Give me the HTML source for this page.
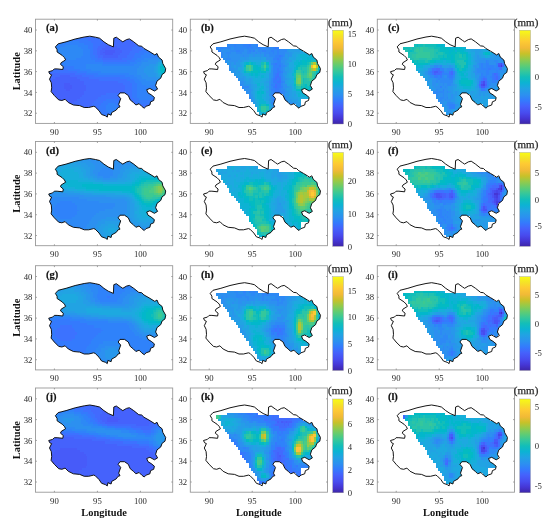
<!DOCTYPE html>
<html><head><meta charset="utf-8"><title>Figure</title>
<style>
html,body{margin:0;padding:0;background:#fff}
svg{display:block}
text{font-family:"Liberation Serif","Times New Roman",serif;fill:#2a2a2a}
.t{font-size:8.7px}
.b{font-size:10.4px;font-weight:bold;fill:#111}
.p{font-size:10.5px;font-weight:bold;fill:#111;stroke:#111;stroke-width:0.2px}
.m{font-size:11px;stroke:#2a2a2a;stroke-width:0.25px}
</style></head><body>
<svg width="550" height="532" viewBox="0 0 550 532">
<defs><path id="qh" d="M19.9 27.7L22.7 24.6L30.6 22.6L39.7 19.8L48.7 17.8L54.3 17L60 18L64.1 19L68.4 22.6L72.8 25.5L77.9 27.7L78.3 19L80.8 18L85.2 21.2L87.3 22.6L91 20.4L93.9 19.7L98.2 22.6L103.3 26.7L106.2 27L108.4 29.2L113.5 32.1L119.3 35.7L121.5 34.3L123 37.9L126.6 40.8L127.3 44.4L130.2 49.5L129.5 53.2L126.6 55.3L125.2 59L121.5 61.9L120.1 66.3L122.1 69.9L118.9 71.8L114.4 69.3L111.2 70.5L112.5 73.7L115.7 75.6L118.9 78.2L118.2 81.3L115.1 82.6L114.4 85.8L110.6 87.1L108.7 89L106.2 87.1L103.6 84.5L100.4 85.8L97.9 83.3L94.7 80.7L92.8 76.3L89 73.7L84.5 73.7L82.6 76.3L85.2 79.4L83.2 85.2L84.5 87.7L82.6 88.3L80.7 90.9L76.2 93.4L75.6 96L72.4 94.7L71.8 97.9L69.9 96.6L66.1 95.3L63.5 91.5L59.7 87.7L58.2 87.1L53.2 88.3L48.7 88.3L44.2 86.4L37.9 85.8L32.8 83.3L29.6 80.1L26.4 81.3L23.2 80.7L18.8 76.3L15.6 72.4L16.2 68.6L15.8 63.6L14 60L16.1 55.6L14.3 54.8L13.2 52.5L17.1 51.4L18.8 49.7L21.6 49.7L27.3 50.3L27.8 47.5L25 45.2L25.6 43.5L30.1 40.7L28.9 38.4L26.7 36.2L21.6 32.8L21.6 30.5Z"/><clipPath id="cq"><use href="#qh"/></clipPath>
<linearGradient id="pg" x1="0" y1="0" x2="0" y2="1"><stop offset="0" stop-color="#f9fb15"/><stop offset="0.06" stop-color="#f5e327"/><stop offset="0.12" stop-color="#feca33"/><stop offset="0.19" stop-color="#f1ba37"/><stop offset="0.25" stop-color="#c8c129"/><stop offset="0.31" stop-color="#94ca4a"/><stop offset="0.38" stop-color="#5ccc76"/><stop offset="0.44" stop-color="#34c79c"/><stop offset="0.5" stop-color="#12beb9"/><stop offset="0.56" stop-color="#0cb3d3"/><stop offset="0.62" stop-color="#21a3e3"/><stop offset="0.69" stop-color="#2c90f0"/><stop offset="0.75" stop-color="#347afd"/><stop offset="0.81" stop-color="#4562fc"/><stop offset="0.88" stop-color="#484cef"/><stop offset="0.94" stop-color="#4536d5"/><stop offset="1" stop-color="#3e26a8"/></linearGradient></defs>
<rect width="550" height="532" fill="#fff"/>
<g transform="translate(35.5 19.2)">
<g clip-path="url(#cq)" shape-rendering="crispEdges">
<path fill="#475bf9" d="M69 30h10.92v2.68h-10.92zM67.28 32.08h12.64v2.68h-12.64zM69 34.16h9.2v2.68h-9.2zM27.72 63.28h7.48v2.68h-7.48zM27.72 65.36h9.2v2.68h-9.2zM27.72 67.44h9.2v2.68h-9.2zM29.44 69.52h5.76v2.68h-5.76z"/>
<path fill="#4562fc" d="M69 25.84h12.64v2.68h-12.64zM65.56 27.92h19.52v2.68h-19.52zM63.84 30h5.76v2.68h-5.76zM79.32 30h7.48v2.68h-7.48zM63.84 32.08h4.04v2.68h-4.04zM79.32 32.08h7.48v2.68h-7.48zM63.84 34.16h5.76v2.68h-5.76zM77.6 34.16h7.48v2.68h-7.48zM67.28 36.24h16.08v2.68h-16.08zM24.28 54.96h10.92v2.68h-10.92zM19.12 57.04h22.96v2.68h-22.96zM15.68 59.12h29.84v2.68h-29.84zM13.96 61.2h35v2.68h-35zM13.96 63.28h14.36v2.68h-14.36zM34.6 63.28h14.36v2.68h-14.36zM15.68 65.36h12.64v2.68h-12.64zM36.32 65.36h14.36v2.68h-14.36zM15.68 67.44h12.64v2.68h-12.64zM36.32 67.44h14.36v2.68h-14.36zM15.68 69.52h14.36v2.68h-14.36zM34.6 69.52h16.08v2.68h-16.08zM15.68 71.6h33.28v2.68h-33.28zM15.68 73.68h33.28v2.68h-33.28zM17.4 75.76h29.84v2.68h-29.84zM19.12 77.84h26.4v2.68h-26.4zM20.84 79.92h21.24v2.68h-21.24zM31.16 82h7.48v2.68h-7.48z"/>
<path fill="#426afe" d="M77.6 17.52h7.48v2.68h-7.48zM67.28 19.6h2.32v2.68h-2.32zM77.6 19.6h9.2v2.68h-9.2zM87.92 19.6h10.92v2.68h-10.92zM65.56 21.68h5.76v2.68h-5.76zM77.6 21.68h22.96v2.68h-22.96zM63.84 23.76h10.92v2.68h-10.92zM77.6 23.76h24.68v2.68h-24.68zM62.12 25.84h7.48v2.68h-7.48zM81.04 25.84h19.52v2.68h-19.52zM60.4 27.92h5.76v2.68h-5.76zM84.48 27.92h12.64v2.68h-12.64zM60.4 30h4.04v2.68h-4.04zM86.2 30h10.92v2.68h-10.92zM60.4 32.08h4.04v2.68h-4.04zM86.2 32.08h9.2v2.68h-9.2zM60.4 34.16h4.04v2.68h-4.04zM84.48 34.16h9.2v2.68h-9.2zM62.12 36.24h5.76v2.68h-5.76zM82.76 36.24h9.2v2.68h-9.2zM65.56 38.32h21.24v2.68h-21.24zM12.24 52.88h28.12v2.68h-28.12zM13.96 54.96h10.92v2.68h-10.92zM34.6 54.96h12.64v2.68h-12.64zM13.96 57.04h5.76v2.68h-5.76zM41.48 57.04h12.64v2.68h-12.64zM13.96 59.12h2.32v2.68h-2.32zM44.92 59.12h19.52v2.68h-19.52zM48.36 61.2h35v2.68h-35zM48.36 63.28h40.16v2.68h-40.16zM50.08 65.36h40.16v2.68h-40.16zM50.08 67.44h40.16v2.68h-40.16zM50.08 69.52h40.16v2.68h-40.16zM48.36 71.6h40.16v2.68h-40.16zM48.36 73.68h22.96v2.68h-22.96zM46.64 75.76h19.52v2.68h-19.52zM44.92 77.84h17.8v2.68h-17.8zM41.48 79.92h19.52v2.68h-19.52zM38.04 82h21.24v2.68h-21.24zM32.88 84.08h24.68v2.68h-24.68zM41.48 86.16h16.08v2.68h-16.08zM48.36 88.24h5.76v2.68h-5.76z"/>
<path fill="#3c72ff" d="M50.08 15.44h9.2v2.68h-9.2zM44.92 17.52h21.24v2.68h-21.24zM51.8 19.6h16.08v2.68h-16.08zM55.24 21.68h10.92v2.68h-10.92zM56.96 23.76h7.48v2.68h-7.48zM101.68 23.76h2.32v2.68h-2.32zM56.96 25.84h5.76v2.68h-5.76zM99.96 25.84h9.2v2.68h-9.2zM56.96 27.92h4.04v2.68h-4.04zM96.52 27.92h14.36v2.68h-14.36zM56.96 30h4.04v2.68h-4.04zM96.52 30h10.92v2.68h-10.92zM56.96 32.08h4.04v2.68h-4.04zM94.8 32.08h9.2v2.68h-9.2zM56.96 34.16h4.04v2.68h-4.04zM93.08 34.16h7.48v2.68h-7.48zM58.68 36.24h4.04v2.68h-4.04zM91.36 36.24h7.48v2.68h-7.48zM60.4 38.32h5.76v2.68h-5.76zM86.2 38.32h10.92v2.68h-10.92zM67.28 40.4h24.68v2.68h-24.68zM17.4 48.72h16.08v2.68h-16.08zM12.24 50.8h29.84v2.68h-29.84zM39.76 52.88h10.92v2.68h-10.92zM46.64 54.96h12.64v2.68h-12.64zM53.52 57.04h31.56v2.68h-31.56zM63.84 59.12h28.12v2.68h-28.12zM82.76 61.2h12.64v2.68h-12.64zM87.92 63.28h9.2v2.68h-9.2zM89.64 65.36h7.48v2.68h-7.48zM89.64 67.44h7.48v2.68h-7.48zM89.64 69.52h7.48v2.68h-7.48zM87.92 71.6h9.2v2.68h-9.2zM70.72 73.68h26.4v2.68h-26.4zM65.56 75.76h19.52v2.68h-19.52zM91.36 75.76h5.76v2.68h-5.76zM62.12 77.84h24.68v2.68h-24.68zM93.08 77.84h5.76v2.68h-5.76zM60.4 79.92h10.92v2.68h-10.92zM81.04 79.92h5.76v2.68h-5.76zM93.08 79.92h7.48v2.68h-7.48zM58.68 82h9.2v2.68h-9.2zM94.8 82h7.48v2.68h-7.48zM115.44 82h2.32v2.68h-2.32zM56.96 84.08h9.2v2.68h-9.2zM98.24 84.08h17.8v2.68h-17.8zM56.96 86.16h7.48v2.68h-7.48zM105.12 86.16h9.2v2.68h-9.2zM58.68 88.24h5.76v2.68h-5.76zM106.84 88.24h4.04v2.68h-4.04zM62.12 90.32h2.32v2.68h-2.32zM63.84 92.4h2.32v2.68h-2.32zM63.84 94.48h4.04v2.68h-4.04zM69 96.56h4.04v2.68h-4.04z"/>
<path fill="#347afd" d="M39.76 17.52h5.76v2.68h-5.76zM32.88 19.6h19.52v2.68h-19.52zM26 21.68h2.32v2.68h-2.32zM43.2 21.68h12.64v2.68h-12.64zM48.36 23.76h9.2v2.68h-9.2zM51.8 25.84h5.76v2.68h-5.76zM51.8 27.92h5.76v2.68h-5.76zM53.52 30h4.04v2.68h-4.04zM106.84 30h7.48v2.68h-7.48zM53.52 32.08h4.04v2.68h-4.04zM103.4 32.08h14.36v2.68h-14.36zM53.52 34.16h4.04v2.68h-4.04zM99.96 34.16h9.2v2.68h-9.2zM53.52 36.24h5.76v2.68h-5.76zM98.24 36.24h7.48v2.68h-7.48zM55.24 38.32h5.76v2.68h-5.76zM96.52 38.32h5.76v2.68h-5.76zM58.68 40.4h9.2v2.68h-9.2zM91.36 40.4h9.2v2.68h-9.2zM67.28 42.48h28.12v2.68h-28.12zM24.28 44.56h2.32v2.68h-2.32zM26 46.64h12.64v2.68h-12.64zM32.88 48.72h12.64v2.68h-12.64zM41.48 50.8h10.92v2.68h-10.92zM50.08 52.88h12.64v2.68h-12.64zM58.68 54.96h31.56v2.68h-31.56zM84.48 57.04h10.92v2.68h-10.92zM91.36 59.12h7.48v2.68h-7.48zM94.8 61.2h5.76v2.68h-5.76zM96.52 63.28h5.76v2.68h-5.76zM96.52 65.36h5.76v2.68h-5.76zM96.52 67.44h5.76v2.68h-5.76zM120.6 67.44h2.32v2.68h-2.32zM96.52 69.52h5.76v2.68h-5.76zM118.88 69.52h4.04v2.68h-4.04zM96.52 71.6h5.76v2.68h-5.76zM118.88 71.6h2.32v2.68h-2.32zM96.52 73.68h5.76v2.68h-5.76zM96.52 75.76h5.76v2.68h-5.76zM117.16 75.76h2.32v2.68h-2.32zM98.24 77.84h5.76v2.68h-5.76zM113.72 77.84h5.76v2.68h-5.76zM70.72 79.92h10.92v2.68h-10.92zM99.96 79.92h19.52v2.68h-19.52zM67.28 82h17.8v2.68h-17.8zM101.68 82h14.36v2.68h-14.36zM65.56 84.08h7.48v2.68h-7.48zM79.32 84.08h5.76v2.68h-5.76zM63.84 86.16h7.48v2.68h-7.48zM81.04 86.16h4.04v2.68h-4.04zM63.84 88.24h7.48v2.68h-7.48zM81.04 88.24h4.04v2.68h-4.04zM63.84 90.32h7.48v2.68h-7.48zM81.04 90.32h2.32v2.68h-2.32zM65.56 92.4h9.2v2.68h-9.2zM77.6 92.4h2.32v2.68h-2.32zM67.28 94.48h10.92v2.68h-10.92z"/>
<path fill="#2f82fa" d="M27.72 21.68h16.08v2.68h-16.08zM20.84 23.76h28.12v2.68h-28.12zM19.12 25.84h10.92v2.68h-10.92zM41.48 25.84h10.92v2.68h-10.92zM19.12 27.92h5.76v2.68h-5.76zM44.92 27.92h7.48v2.68h-7.48zM20.84 30h2.32v2.68h-2.32zM46.64 30h7.48v2.68h-7.48zM20.84 32.08h2.32v2.68h-2.32zM46.64 32.08h7.48v2.68h-7.48zM46.64 34.16h7.48v2.68h-7.48zM108.56 34.16h14.36v2.68h-14.36zM44.92 36.24h9.2v2.68h-9.2zM105.12 36.24h19.52v2.68h-19.52zM27.72 38.32h5.76v2.68h-5.76zM39.76 38.32h16.08v2.68h-16.08zM101.68 38.32h7.48v2.68h-7.48zM26 40.4h33.28v2.68h-33.28zM99.96 40.4h5.76v2.68h-5.76zM24.28 42.48h43.6v2.68h-43.6zM94.8 42.48h7.48v2.68h-7.48zM26 44.56h24.68v2.68h-24.68zM65.56 44.56h33.28v2.68h-33.28zM38.04 46.64h12.64v2.68h-12.64zM44.92 48.72h10.92v2.68h-10.92zM51.8 50.8h14.36v2.68h-14.36zM62.12 52.88h31.56v2.68h-31.56zM89.64 54.96h9.2v2.68h-9.2zM94.8 57.04h7.48v2.68h-7.48zM98.24 59.12h5.76v2.68h-5.76zM99.96 61.2h5.76v2.68h-5.76zM101.68 63.28h5.76v2.68h-5.76zM118.88 63.28h4.04v2.68h-4.04zM101.68 65.36h9.2v2.68h-9.2zM113.72 65.36h9.2v2.68h-9.2zM101.68 67.44h19.52v2.68h-19.52zM101.68 69.52h17.8v2.68h-17.8zM101.68 71.6h12.64v2.68h-12.64zM117.16 71.6h2.32v2.68h-2.32zM101.68 73.68h16.08v2.68h-16.08zM101.68 75.76h16.08v2.68h-16.08zM103.4 77.84h10.92v2.68h-10.92zM72.44 84.08h7.48v2.68h-7.48zM70.72 86.16h10.92v2.68h-10.92zM70.72 88.24h10.92v2.68h-10.92zM70.72 90.32h10.92v2.68h-10.92zM74.16 92.4h4.04v2.68h-4.04z"/>
<path fill="#2d89f5" d="M29.44 25.84h12.64v2.68h-12.64zM24.28 27.92h21.24v2.68h-21.24zM22.56 30h24.68v2.68h-24.68zM22.56 32.08h24.68v2.68h-24.68zM22.56 34.16h24.68v2.68h-24.68zM26 36.24h19.52v2.68h-19.52zM32.88 38.32h7.48v2.68h-7.48zM108.56 38.32h14.36v2.68h-14.36zM105.12 40.4h7.48v2.68h-7.48zM101.68 42.48h5.76v2.68h-5.76zM50.08 44.56h16.08v2.68h-16.08zM98.24 44.56h7.48v2.68h-7.48zM50.08 46.64h53.92v2.68h-53.92zM55.24 48.72h47.04v2.68h-47.04zM65.56 50.8h36.72v2.68h-36.72zM93.08 52.88h9.2v2.68h-9.2zM98.24 54.96h7.48v2.68h-7.48zM101.68 57.04h5.76v2.68h-5.76zM103.4 59.12h7.48v2.68h-7.48zM105.12 61.2h19.52v2.68h-19.52zM106.84 63.28h12.64v2.68h-12.64zM110.28 65.36h4.04v2.68h-4.04z"/>
<path fill="#2c90f0" d="M122.32 38.32h5.76v2.68h-5.76zM112 40.4h10.92v2.68h-10.92zM106.84 42.48h14.36v2.68h-14.36zM105.12 44.56h9.2v2.68h-9.2zM103.4 46.64h7.48v2.68h-7.48zM101.68 48.72h7.48v2.68h-7.48zM101.68 50.8h7.48v2.68h-7.48zM101.68 52.88h9.2v2.68h-9.2zM105.12 54.96h7.48v2.68h-7.48zM106.84 57.04h14.36v2.68h-14.36zM110.28 59.12h16.08v2.68h-16.08z"/>
<path fill="#2797eb" d="M122.32 40.4h2.32v2.68h-2.32zM120.6 42.48h2.32v2.68h-2.32zM113.72 44.56h7.48v2.68h-7.48zM110.28 46.64h9.2v2.68h-9.2zM108.56 48.72h10.92v2.68h-10.92zM108.56 50.8h10.92v2.68h-10.92zM110.28 52.88h10.92v2.68h-10.92zM112 54.96h9.2v2.68h-9.2zM120.6 57.04h4.04v2.68h-4.04z"/>
<path fill="#259de7" d="M124.04 40.4h4.04v2.68h-4.04zM120.6 44.56h2.32v2.68h-2.32zM118.88 46.64h2.32v2.68h-2.32zM118.88 48.72h2.32v2.68h-2.32zM118.88 50.8h2.32v2.68h-2.32zM120.6 52.88h2.32v2.68h-2.32zM129.2 52.88h2.32v2.68h-2.32zM120.6 54.96h2.32v2.68h-2.32zM124.04 57.04h4.04v2.68h-4.04z"/>
<path fill="#21a3e3" d="M122.32 42.48h2.32v2.68h-2.32zM120.6 46.64h2.32v2.68h-2.32zM129.2 46.64h2.32v2.68h-2.32zM120.6 48.72h2.32v2.68h-2.32zM129.2 48.72h2.32v2.68h-2.32zM120.6 50.8h2.32v2.68h-2.32zM129.2 50.8h2.32v2.68h-2.32zM122.32 54.96h2.32v2.68h-2.32z"/>
<path fill="#1da9e0" d="M124.04 42.48h4.04v2.68h-4.04zM122.32 44.56h2.32v2.68h-2.32zM122.32 52.88h2.32v2.68h-2.32zM127.48 52.88h2.32v2.68h-2.32zM124.04 54.96h4.04v2.68h-4.04z"/>
<path fill="#17aeda" d="M124.04 44.56h2.32v2.68h-2.32zM127.48 44.56h2.32v2.68h-2.32zM122.32 46.64h2.32v2.68h-2.32zM122.32 48.72h2.32v2.68h-2.32zM122.32 50.8h2.32v2.68h-2.32zM124.04 52.88h2.32v2.68h-2.32z"/>
<path fill="#0cb3d3" d="M125.76 44.56h2.32v2.68h-2.32zM127.48 46.64h2.32v2.68h-2.32zM127.48 48.72h2.32v2.68h-2.32zM124.04 50.8h2.32v2.68h-2.32zM127.48 50.8h2.32v2.68h-2.32zM125.76 52.88h2.32v2.68h-2.32z"/>
<path fill="#02b7cb" d="M124.04 46.64h4.04v2.68h-4.04zM124.04 48.72h2.32v2.68h-2.32zM125.76 50.8h2.32v2.68h-2.32z"/>
<path fill="#03bbc2" d="M125.76 48.72h2.32v2.68h-2.32z"/>
</g>
<use href="#qh" fill="none" stroke="#0a0a0a" stroke-width="0.95" stroke-linejoin="round"/>
<rect x="0" y="0" width="137.2" height="104.2" fill="none" stroke="#999" stroke-width="0.9"/>
<path d="M18.92 104.2v-1.4M18.92 0v1.4M61.92 104.2v-1.4M61.92 0v1.4M104.92 104.2v-1.4M104.92 0v1.4M0 94.02h1.4M137.2 94.02h-1.4M0 73.22h1.4M137.2 73.22h-1.4M0 52.42h1.4M137.2 52.42h-1.4M0 31.62h1.4M137.2 31.62h-1.4M0 10.82h1.4M137.2 10.82h-1.4" stroke="#888" stroke-width="0.8" fill="none"/>
<text x="18.92" y="115.8" class="t" text-anchor="middle">90</text>
<text x="61.92" y="115.8" class="t" text-anchor="middle">95</text>
<text x="104.92" y="115.8" class="t" text-anchor="middle">100</text>
<text x="-3.1" y="97.12" class="t" text-anchor="end">32</text>
<text x="-3.1" y="76.32" class="t" text-anchor="end">34</text>
<text x="-3.1" y="55.52" class="t" text-anchor="end">36</text>
<text x="-3.1" y="34.72" class="t" text-anchor="end">38</text>
<text x="-3.1" y="13.92" class="t" text-anchor="end">40</text>
<text x="10.6" y="12.3" class="p">(a)</text>
<text transform="translate(-16 52.1) rotate(-90)" class="b" text-anchor="middle">Latitude</text>
</g>
<g transform="translate(190.3 19.2)">
<g clip-path="url(#cq)" shape-rendering="crispEdges">
<path fill="#3c72ff" d="M86.2 53.4h2.75v3.2h-2.75zM84.05 56h4.9v3.2h-4.9zM84.05 58.6h2.75v3.2h-2.75zM88.35 58.6h2.75v3.2h-2.75zM86.2 61.2h4.9v3.2h-4.9zM84.05 63.8h2.75v3.2h-2.75zM84.05 66.4h2.75v3.2h-2.75z"/>
<path fill="#347afd" d="M58.25 24.8h2.75v3.2h-2.75zM84.05 27.4h2.75v3.2h-2.75zM88.35 35.2h2.75v3.2h-2.75zM86.2 37.8h2.75v3.2h-2.75zM84.05 43h2.75v3.2h-2.75zM88.35 45.6h2.75v3.2h-2.75zM86.2 48.2h2.75v3.2h-2.75zM86.2 50.8h4.9v3.2h-4.9zM84.05 53.4h2.75v3.2h-2.75zM88.35 56h2.75v3.2h-2.75zM81.9 58.6h2.75v3.2h-2.75zM86.2 58.6h2.75v3.2h-2.75zM81.9 61.2h4.9v3.2h-4.9zM86.2 63.8h4.9v3.2h-4.9zM81.9 66.4h2.75v3.2h-2.75zM86.2 66.4h4.9v3.2h-4.9zM84.05 69h4.9v3.2h-4.9zM84.05 71.6h7.05v3.2h-7.05zM81.9 74.2h2.75v3.2h-2.75zM81.9 79.4h2.75v3.2h-2.75z"/>
<path fill="#2f82fa" d="M43.2 24.8h2.75v3.2h-2.75zM51.8 24.8h7.05v3.2h-7.05zM64.7 24.8h2.75v3.2h-2.75zM30.3 27.4h2.75v3.2h-2.75zM36.75 27.4h2.75v3.2h-2.75zM56.1 27.4h2.75v3.2h-2.75zM60.4 27.4h2.75v3.2h-2.75zM66.85 27.4h4.9v3.2h-4.9zM77.6 27.4h2.75v3.2h-2.75zM81.9 27.4h2.75v3.2h-2.75zM86.2 27.4h2.75v3.2h-2.75zM28.15 30h2.75v3.2h-2.75zM45.35 30h4.9v3.2h-4.9zM58.25 30h2.75v3.2h-2.75zM62.55 30h2.75v3.2h-2.75zM71.15 30h4.9v3.2h-4.9zM79.75 30h4.9v3.2h-4.9zM86.2 30h2.75v3.2h-2.75zM77.6 32.6h2.75v3.2h-2.75zM81.9 32.6h2.75v3.2h-2.75zM86.2 32.6h2.75v3.2h-2.75zM84.05 35.2h4.9v3.2h-4.9zM90.5 35.2h2.75v3.2h-2.75zM81.9 37.8h4.9v3.2h-4.9zM88.35 37.8h2.75v3.2h-2.75zM86.2 40.4h4.9v3.2h-4.9zM81.9 43h2.75v3.2h-2.75zM86.2 43h4.9v3.2h-4.9zM81.9 45.6h7.05v3.2h-7.05zM81.9 48.2h4.9v3.2h-4.9zM88.35 48.2h2.75v3.2h-2.75zM81.9 50.8h4.9v3.2h-4.9zM90.5 50.8h2.75v3.2h-2.75zM81.9 53.4h2.75v3.2h-2.75zM88.35 53.4h2.75v3.2h-2.75zM81.9 56h2.75v3.2h-2.75zM90.5 61.2h2.75v3.2h-2.75zM79.75 63.8h4.9v3.2h-4.9zM90.5 66.4h2.75v3.2h-2.75zM79.75 69h4.9v3.2h-4.9zM88.35 69h2.75v3.2h-2.75zM81.9 71.6h2.75v3.2h-2.75zM90.5 71.6h2.75v3.2h-2.75z"/>
<path fill="#2d89f5" d="M36.75 24.8h7.05v3.2h-7.05zM45.35 24.8h7.05v3.2h-7.05zM60.4 24.8h4.9v3.2h-4.9zM26 27.4h4.9v3.2h-4.9zM32.45 27.4h4.9v3.2h-4.9zM38.9 27.4h2.75v3.2h-2.75zM43.2 27.4h13.5v3.2h-13.5zM58.25 27.4h2.75v3.2h-2.75zM62.55 27.4h4.9v3.2h-4.9zM71.15 27.4h7.05v3.2h-7.05zM79.75 27.4h2.75v3.2h-2.75zM38.9 30h7.05v3.2h-7.05zM49.65 30h4.9v3.2h-4.9zM56.1 30h2.75v3.2h-2.75zM60.4 30h2.75v3.2h-2.75zM66.85 30h4.9v3.2h-4.9zM75.45 30h4.9v3.2h-4.9zM84.05 30h2.75v3.2h-2.75zM88.35 30h9.2v3.2h-9.2zM30.3 32.6h2.75v3.2h-2.75zM34.6 32.6h7.05v3.2h-7.05zM45.35 32.6h7.05v3.2h-7.05zM56.1 32.6h4.9v3.2h-4.9zM64.7 32.6h2.75v3.2h-2.75zM69 32.6h2.75v3.2h-2.75zM73.3 32.6h4.9v3.2h-4.9zM79.75 32.6h2.75v3.2h-2.75zM84.05 32.6h2.75v3.2h-2.75zM88.35 32.6h7.05v3.2h-7.05zM30.3 35.2h2.75v3.2h-2.75zM36.75 35.2h2.75v3.2h-2.75zM51.8 35.2h2.75v3.2h-2.75zM73.3 35.2h2.75v3.2h-2.75zM77.6 35.2h7.05v3.2h-7.05zM92.65 35.2h2.75v3.2h-2.75zM34.6 37.8h7.05v3.2h-7.05zM90.5 37.8h2.75v3.2h-2.75zM81.9 40.4h4.9v3.2h-4.9zM79.75 43h2.75v3.2h-2.75zM90.5 43h2.75v3.2h-2.75zM90.5 45.6h4.9v3.2h-4.9zM90.5 48.2h2.75v3.2h-2.75zM90.5 53.4h2.75v3.2h-2.75zM90.5 56h2.75v3.2h-2.75zM79.75 58.6h2.75v3.2h-2.75zM90.5 58.6h2.75v3.2h-2.75zM79.75 61.2h2.75v3.2h-2.75zM92.65 61.2h2.75v3.2h-2.75zM49.65 63.8h2.75v3.2h-2.75zM90.5 63.8h2.75v3.2h-2.75zM51.8 66.4h7.05v3.2h-7.05zM79.75 66.4h2.75v3.2h-2.75zM90.5 69h4.9v3.2h-4.9zM79.75 71.6h2.75v3.2h-2.75zM92.65 71.6h2.75v3.2h-2.75zM79.75 74.2h2.75v3.2h-2.75zM92.65 74.2h2.75v3.2h-2.75zM58.25 76.8h2.75v3.2h-2.75zM79.75 76.8h4.9v3.2h-4.9zM92.65 76.8h2.75v3.2h-2.75zM94.8 79.4h2.75v3.2h-2.75zM79.75 82h4.9v3.2h-4.9zM96.95 82h2.75v3.2h-2.75zM81.9 84.6h2.75v3.2h-2.75z"/>
<path fill="#2c90f0" d="M41.05 27.4h2.75v3.2h-2.75zM30.3 30h9.2v3.2h-9.2zM53.95 30h2.75v3.2h-2.75zM64.7 30h2.75v3.2h-2.75zM32.45 32.6h2.75v3.2h-2.75zM41.05 32.6h4.9v3.2h-4.9zM51.8 32.6h4.9v3.2h-4.9zM60.4 32.6h4.9v3.2h-4.9zM66.85 32.6h2.75v3.2h-2.75zM71.15 32.6h2.75v3.2h-2.75zM94.8 32.6h4.9v3.2h-4.9zM32.45 35.2h4.9v3.2h-4.9zM38.9 35.2h13.5v3.2h-13.5zM53.95 35.2h4.9v3.2h-4.9zM62.55 35.2h2.75v3.2h-2.75zM69 35.2h2.75v3.2h-2.75zM75.45 35.2h2.75v3.2h-2.75zM96.95 35.2h2.75v3.2h-2.75zM32.45 37.8h2.75v3.2h-2.75zM41.05 37.8h9.2v3.2h-9.2zM53.95 37.8h2.75v3.2h-2.75zM75.45 37.8h7.05v3.2h-7.05zM92.65 37.8h4.9v3.2h-4.9zM34.6 40.4h2.75v3.2h-2.75zM38.9 40.4h9.2v3.2h-9.2zM79.75 40.4h2.75v3.2h-2.75zM90.5 40.4h4.9v3.2h-4.9zM38.9 43h2.75v3.2h-2.75zM43.2 43h2.75v3.2h-2.75zM92.65 43h2.75v3.2h-2.75zM38.9 45.6h2.75v3.2h-2.75zM94.8 45.6h2.75v3.2h-2.75zM38.9 48.2h4.9v3.2h-4.9zM79.75 48.2h2.75v3.2h-2.75zM92.65 48.2h2.75v3.2h-2.75zM79.75 50.8h2.75v3.2h-2.75zM92.65 50.8h2.75v3.2h-2.75zM79.75 53.4h2.75v3.2h-2.75zM45.35 56h2.75v3.2h-2.75zM79.75 56h2.75v3.2h-2.75zM92.65 56h2.75v3.2h-2.75zM47.5 58.6h2.75v3.2h-2.75zM92.65 58.6h2.75v3.2h-2.75zM49.65 61.2h4.9v3.2h-4.9zM77.6 61.2h2.75v3.2h-2.75zM51.8 63.8h2.75v3.2h-2.75zM77.6 63.8h2.75v3.2h-2.75zM92.65 63.8h4.9v3.2h-4.9zM77.6 66.4h2.75v3.2h-2.75zM92.65 66.4h4.9v3.2h-4.9zM53.95 69h7.05v3.2h-7.05zM77.6 69h2.75v3.2h-2.75zM56.1 71.6h4.9v3.2h-4.9zM94.8 71.6h2.75v3.2h-2.75zM58.25 74.2h2.75v3.2h-2.75zM77.6 74.2h2.75v3.2h-2.75zM96.95 74.2h2.75v3.2h-2.75zM94.8 76.8h2.75v3.2h-2.75zM60.4 79.4h2.75v3.2h-2.75zM79.75 79.4h2.75v3.2h-2.75zM99.1 82h4.9v3.2h-4.9z"/>
<path fill="#2797eb" d="M96.95 30h2.75v3.2h-2.75zM99.1 32.6h2.75v3.2h-2.75zM58.25 35.2h4.9v3.2h-4.9zM64.7 35.2h4.9v3.2h-4.9zM71.15 35.2h2.75v3.2h-2.75zM94.8 35.2h2.75v3.2h-2.75zM99.1 35.2h2.75v3.2h-2.75zM49.65 37.8h4.9v3.2h-4.9zM56.1 37.8h2.75v3.2h-2.75zM69 37.8h2.75v3.2h-2.75zM96.95 37.8h2.75v3.2h-2.75zM36.75 40.4h2.75v3.2h-2.75zM47.5 40.4h4.9v3.2h-4.9zM77.6 40.4h2.75v3.2h-2.75zM94.8 40.4h2.75v3.2h-2.75zM36.75 43h2.75v3.2h-2.75zM41.05 43h2.75v3.2h-2.75zM45.35 43h4.9v3.2h-4.9zM94.8 43h4.9v3.2h-4.9zM41.05 45.6h2.75v3.2h-2.75zM45.35 45.6h4.9v3.2h-4.9zM79.75 45.6h2.75v3.2h-2.75zM43.2 48.2h4.9v3.2h-4.9zM41.05 50.8h4.9v3.2h-4.9zM47.5 50.8h2.75v3.2h-2.75zM94.8 50.8h2.75v3.2h-2.75zM43.2 53.4h2.75v3.2h-2.75zM77.6 53.4h2.75v3.2h-2.75zM92.65 53.4h4.9v3.2h-4.9zM51.8 56h2.75v3.2h-2.75zM77.6 56h2.75v3.2h-2.75zM49.65 58.6h4.9v3.2h-4.9zM77.6 58.6h2.75v3.2h-2.75zM94.8 58.6h2.75v3.2h-2.75zM53.95 61.2h2.75v3.2h-2.75zM53.95 63.8h7.05v3.2h-7.05zM58.25 66.4h2.75v3.2h-2.75zM96.95 66.4h2.75v3.2h-2.75zM60.4 69h2.75v3.2h-2.75zM94.8 69h2.75v3.2h-2.75zM77.6 71.6h2.75v3.2h-2.75zM96.95 71.6h2.75v3.2h-2.75zM60.4 74.2h2.75v3.2h-2.75zM94.8 74.2h2.75v3.2h-2.75zM60.4 76.8h2.75v3.2h-2.75zM96.95 76.8h2.75v3.2h-2.75zM77.6 79.4h2.75v3.2h-2.75zM96.95 79.4h4.9v3.2h-4.9zM103.4 82h2.75v3.2h-2.75zM79.75 84.6h2.75v3.2h-2.75zM107.7 84.6h2.75v3.2h-2.75z"/>
<path fill="#259de7" d="M99.1 30h11.35v3.2h-11.35zM101.25 32.6h2.75v3.2h-2.75zM58.25 37.8h11.35v3.2h-11.35zM71.15 37.8h2.75v3.2h-2.75zM51.8 40.4h2.75v3.2h-2.75zM96.95 40.4h4.9v3.2h-4.9zM77.6 43h2.75v3.2h-2.75zM43.2 45.6h2.75v3.2h-2.75zM49.65 45.6h2.75v3.2h-2.75zM96.95 45.6h2.75v3.2h-2.75zM94.8 48.2h4.9v3.2h-4.9zM45.35 50.8h2.75v3.2h-2.75zM96.95 50.8h2.75v3.2h-2.75zM45.35 53.4h7.05v3.2h-7.05zM47.5 56h4.9v3.2h-4.9zM53.95 56h2.75v3.2h-2.75zM94.8 56h2.75v3.2h-2.75zM53.95 58.6h2.75v3.2h-2.75zM58.25 58.6h2.75v3.2h-2.75zM96.95 58.6h2.75v3.2h-2.75zM56.1 61.2h4.9v3.2h-4.9zM75.45 61.2h2.75v3.2h-2.75zM94.8 61.2h2.75v3.2h-2.75zM60.4 63.8h2.75v3.2h-2.75zM60.4 66.4h2.75v3.2h-2.75zM75.45 66.4h2.75v3.2h-2.75zM99.1 66.4h2.75v3.2h-2.75zM96.95 69h4.9v3.2h-4.9zM60.4 71.6h2.75v3.2h-2.75zM75.45 71.6h2.75v3.2h-2.75zM99.1 71.6h2.75v3.2h-2.75zM99.1 74.2h2.75v3.2h-2.75zM103.4 74.2h2.75v3.2h-2.75zM62.55 76.8h2.75v3.2h-2.75zM77.6 76.8h2.75v3.2h-2.75zM99.1 76.8h4.9v3.2h-4.9zM62.55 79.4h2.75v3.2h-2.75zM101.25 79.4h7.05v3.2h-7.05zM62.55 82h2.75v3.2h-2.75zM77.6 82h2.75v3.2h-2.75zM105.55 82h4.9v3.2h-4.9zM105.55 84.6h2.75v3.2h-2.75zM79.75 87.2h2.75v3.2h-2.75zM107.7 87.2h2.75v3.2h-2.75z"/>
<path fill="#21a3e3" d="M103.4 32.6h9.2v3.2h-9.2zM101.25 35.2h4.9v3.2h-4.9zM73.3 37.8h2.75v3.2h-2.75zM99.1 37.8h7.05v3.2h-7.05zM53.95 40.4h4.9v3.2h-4.9zM69 40.4h2.75v3.2h-2.75zM75.45 40.4h2.75v3.2h-2.75zM49.65 43h2.75v3.2h-2.75zM77.6 45.6h2.75v3.2h-2.75zM47.5 48.2h4.9v3.2h-4.9zM99.1 48.2h2.75v3.2h-2.75zM49.65 50.8h2.75v3.2h-2.75zM77.6 50.8h2.75v3.2h-2.75zM99.1 50.8h2.75v3.2h-2.75zM51.8 53.4h2.75v3.2h-2.75zM96.95 53.4h2.75v3.2h-2.75zM96.95 56h2.75v3.2h-2.75zM56.1 58.6h2.75v3.2h-2.75zM60.4 58.6h2.75v3.2h-2.75zM75.45 58.6h2.75v3.2h-2.75zM99.1 58.6h2.75v3.2h-2.75zM60.4 61.2h2.75v3.2h-2.75zM73.3 61.2h2.75v3.2h-2.75zM96.95 61.2h2.75v3.2h-2.75zM62.55 63.8h4.9v3.2h-4.9zM73.3 63.8h4.9v3.2h-4.9zM96.95 63.8h4.9v3.2h-4.9zM62.55 66.4h4.9v3.2h-4.9zM62.55 69h2.75v3.2h-2.75zM75.45 69h2.75v3.2h-2.75zM62.55 71.6h2.75v3.2h-2.75zM101.25 71.6h4.9v3.2h-4.9zM62.55 74.2h2.75v3.2h-2.75zM75.45 74.2h2.75v3.2h-2.75zM101.25 74.2h2.75v3.2h-2.75zM75.45 76.8h2.75v3.2h-2.75zM103.4 76.8h4.9v3.2h-4.9zM75.45 79.4h2.75v3.2h-2.75zM64.7 82h2.75v3.2h-2.75zM64.7 84.6h2.75v3.2h-2.75z"/>
<path fill="#1da9e0" d="M109.85 30h2.75v3.2h-2.75zM112 32.6h4.9v3.2h-4.9zM105.55 35.2h2.75v3.2h-2.75zM60.4 40.4h9.2v3.2h-9.2zM101.25 40.4h2.75v3.2h-2.75zM51.8 43h2.75v3.2h-2.75zM99.1 43h4.9v3.2h-4.9zM51.8 45.6h2.75v3.2h-2.75zM99.1 45.6h4.9v3.2h-4.9zM51.8 48.2h2.75v3.2h-2.75zM77.6 48.2h2.75v3.2h-2.75zM101.25 48.2h2.75v3.2h-2.75zM75.45 53.4h2.75v3.2h-2.75zM99.1 53.4h2.75v3.2h-2.75zM56.1 56h4.9v3.2h-4.9zM75.45 56h2.75v3.2h-2.75zM99.1 56h4.9v3.2h-4.9zM64.7 58.6h2.75v3.2h-2.75zM71.15 58.6h4.9v3.2h-4.9zM62.55 61.2h2.75v3.2h-2.75zM69 61.2h4.9v3.2h-4.9zM99.1 61.2h4.9v3.2h-4.9zM69 63.8h2.75v3.2h-2.75zM73.3 66.4h2.75v3.2h-2.75zM101.25 66.4h2.75v3.2h-2.75zM64.7 69h2.75v3.2h-2.75zM73.3 69h2.75v3.2h-2.75zM101.25 69h2.75v3.2h-2.75zM105.55 74.2h2.75v3.2h-2.75zM73.3 76.8h2.75v3.2h-2.75zM107.7 76.8h7.05v3.2h-7.05zM64.7 79.4h2.75v3.2h-2.75zM73.3 79.4h2.75v3.2h-2.75zM107.7 79.4h2.75v3.2h-2.75zM75.45 82h2.75v3.2h-2.75zM77.6 84.6h2.75v3.2h-2.75zM77.6 87.2h2.75v3.2h-2.75zM69 92.4h2.75v3.2h-2.75z"/>
<path fill="#17aeda" d="M107.7 35.2h2.75v3.2h-2.75zM116.3 35.2h2.75v3.2h-2.75zM120.6 35.2h2.75v3.2h-2.75zM105.55 37.8h7.05v3.2h-7.05zM122.75 37.8h2.75v3.2h-2.75zM58.25 40.4h2.75v3.2h-2.75zM71.15 40.4h4.9v3.2h-4.9zM103.4 40.4h2.75v3.2h-2.75zM107.7 40.4h2.75v3.2h-2.75zM64.7 43h7.05v3.2h-7.05zM103.4 45.6h2.75v3.2h-2.75zM51.8 50.8h2.75v3.2h-2.75zM75.45 50.8h2.75v3.2h-2.75zM101.25 50.8h2.75v3.2h-2.75zM53.95 53.4h4.9v3.2h-4.9zM69 53.4h7.05v3.2h-7.05zM60.4 56h4.9v3.2h-4.9zM66.85 56h4.9v3.2h-4.9zM73.3 56h2.75v3.2h-2.75zM62.55 58.6h2.75v3.2h-2.75zM66.85 58.6h4.9v3.2h-4.9zM101.25 58.6h2.75v3.2h-2.75zM64.7 61.2h4.9v3.2h-4.9zM71.15 63.8h2.75v3.2h-2.75zM101.25 63.8h2.75v3.2h-2.75zM66.85 66.4h4.9v3.2h-4.9zM66.85 69h2.75v3.2h-2.75zM71.15 69h2.75v3.2h-2.75zM103.4 69h2.75v3.2h-2.75zM64.7 71.6h2.75v3.2h-2.75zM73.3 71.6h2.75v3.2h-2.75zM105.55 71.6h4.9v3.2h-4.9zM64.7 74.2h2.75v3.2h-2.75zM71.15 74.2h4.9v3.2h-4.9zM109.85 74.2h2.75v3.2h-2.75zM114.15 74.2h2.75v3.2h-2.75zM64.7 76.8h2.75v3.2h-2.75zM71.15 76.8h2.75v3.2h-2.75zM114.15 76.8h4.9v3.2h-4.9zM66.85 79.4h2.75v3.2h-2.75zM66.85 82h2.75v3.2h-2.75zM66.85 84.6h2.75v3.2h-2.75zM66.85 87.2h2.75v3.2h-2.75zM66.85 89.8h2.75v3.2h-2.75zM77.6 89.8h2.75v3.2h-2.75zM73.3 92.4h2.75v3.2h-2.75z"/>
<path fill="#0cb3d3" d="M109.85 35.2h7.05v3.2h-7.05zM118.45 35.2h2.75v3.2h-2.75zM112 37.8h4.9v3.2h-4.9zM118.45 37.8h4.9v3.2h-4.9zM105.55 40.4h2.75v3.2h-2.75zM124.9 40.4h2.75v3.2h-2.75zM53.95 43h2.75v3.2h-2.75zM62.55 43h2.75v3.2h-2.75zM103.4 43h4.9v3.2h-4.9zM66.85 45.6h4.9v3.2h-4.9zM103.4 48.2h2.75v3.2h-2.75zM69 50.8h2.75v3.2h-2.75zM127.05 50.8h2.75v3.2h-2.75zM58.25 53.4h2.75v3.2h-2.75zM62.55 53.4h2.75v3.2h-2.75zM66.85 53.4h2.75v3.2h-2.75zM101.25 53.4h2.75v3.2h-2.75zM64.7 56h2.75v3.2h-2.75zM71.15 56h2.75v3.2h-2.75zM66.85 63.8h2.75v3.2h-2.75zM71.15 66.4h2.75v3.2h-2.75zM103.4 66.4h2.75v3.2h-2.75zM69 69h2.75v3.2h-2.75zM69 71.6h2.75v3.2h-2.75zM109.85 71.6h2.75v3.2h-2.75zM66.85 74.2h4.9v3.2h-4.9zM107.7 74.2h2.75v3.2h-2.75zM112 74.2h2.75v3.2h-2.75zM66.85 76.8h4.9v3.2h-4.9zM69 79.4h4.9v3.2h-4.9zM69 82h7.05v3.2h-7.05zM71.15 92.4h2.75v3.2h-2.75z"/>
<path fill="#02b7cb" d="M116.3 37.8h2.75v3.2h-2.75zM109.85 40.4h2.75v3.2h-2.75zM114.15 40.4h2.75v3.2h-2.75zM56.1 43h2.75v3.2h-2.75zM60.4 43h2.75v3.2h-2.75zM75.45 43h2.75v3.2h-2.75zM107.7 43h4.9v3.2h-4.9zM53.95 45.6h2.75v3.2h-2.75zM64.7 45.6h2.75v3.2h-2.75zM105.55 45.6h2.75v3.2h-2.75zM64.7 48.2h4.9v3.2h-4.9zM75.45 48.2h2.75v3.2h-2.75zM127.05 48.2h2.75v3.2h-2.75zM53.95 50.8h2.75v3.2h-2.75zM66.85 50.8h2.75v3.2h-2.75zM103.4 50.8h2.75v3.2h-2.75zM60.4 53.4h2.75v3.2h-2.75zM64.7 53.4h2.75v3.2h-2.75zM124.9 53.4h2.75v3.2h-2.75zM103.4 63.8h2.75v3.2h-2.75zM118.45 66.4h2.75v3.2h-2.75zM118.45 69h2.75v3.2h-2.75zM66.85 71.6h2.75v3.2h-2.75zM71.15 71.6h2.75v3.2h-2.75zM69 84.6h2.75v3.2h-2.75zM75.45 84.6h2.75v3.2h-2.75zM69 89.8h2.75v3.2h-2.75z"/>
<path fill="#03bbc2" d="M112 40.4h2.75v3.2h-2.75zM116.3 40.4h4.9v3.2h-4.9zM112 43h4.9v3.2h-4.9zM62.55 45.6h2.75v3.2h-2.75zM107.7 45.6h2.75v3.2h-2.75zM62.55 48.2h2.75v3.2h-2.75zM69 48.2h2.75v3.2h-2.75zM105.55 48.2h2.75v3.2h-2.75zM60.4 50.8h7.05v3.2h-7.05zM71.15 50.8h4.9v3.2h-4.9zM124.9 50.8h2.75v3.2h-2.75zM103.4 58.6h2.75v3.2h-2.75zM114.15 63.8h2.75v3.2h-2.75zM109.85 66.4h2.75v3.2h-2.75zM114.15 66.4h2.75v3.2h-2.75zM105.55 69h7.05v3.2h-7.05zM116.3 69h2.75v3.2h-2.75zM75.45 89.8h2.75v3.2h-2.75z"/>
<path fill="#12beb9" d="M120.6 40.4h4.9v3.2h-4.9zM58.25 43h2.75v3.2h-2.75zM71.15 43h2.75v3.2h-2.75zM116.3 43h2.75v3.2h-2.75zM75.45 45.6h2.75v3.2h-2.75zM109.85 45.6h7.05v3.2h-7.05zM127.05 45.6h2.75v3.2h-2.75zM53.95 48.2h2.75v3.2h-2.75zM71.15 48.2h2.75v3.2h-2.75zM109.85 48.2h2.75v3.2h-2.75zM56.1 50.8h4.9v3.2h-4.9zM112 50.8h2.75v3.2h-2.75zM103.4 53.4h2.75v3.2h-2.75zM103.4 56h2.75v3.2h-2.75zM122.75 56h2.75v3.2h-2.75zM112 58.6h2.75v3.2h-2.75zM122.75 58.6h2.75v3.2h-2.75zM103.4 61.2h2.75v3.2h-2.75zM112 61.2h2.75v3.2h-2.75zM112 63.8h2.75v3.2h-2.75zM112 66.4h2.75v3.2h-2.75zM116.3 66.4h2.75v3.2h-2.75zM71.15 84.6h4.9v3.2h-4.9zM69 87.2h2.75v3.2h-2.75z"/>
<path fill="#22c1b0" d="M71.15 45.6h2.75v3.2h-2.75zM107.7 48.2h2.75v3.2h-2.75zM112 48.2h4.9v3.2h-4.9zM109.85 50.8h2.75v3.2h-2.75zM114.15 50.8h2.75v3.2h-2.75zM112 53.4h2.75v3.2h-2.75zM122.75 53.4h2.75v3.2h-2.75zM114.15 58.6h2.75v3.2h-2.75zM120.6 58.6h2.75v3.2h-2.75zM114.15 61.2h7.05v3.2h-7.05zM109.85 63.8h2.75v3.2h-2.75zM116.3 63.8h4.9v3.2h-4.9zM105.55 66.4h2.75v3.2h-2.75zM75.45 87.2h2.75v3.2h-2.75zM71.15 89.8h2.75v3.2h-2.75z"/>
<path fill="#2cc4a6" d="M73.3 43h2.75v3.2h-2.75zM118.45 43h2.75v3.2h-2.75zM60.4 45.6h2.75v3.2h-2.75zM116.3 45.6h2.75v3.2h-2.75zM60.4 48.2h2.75v3.2h-2.75zM73.3 48.2h2.75v3.2h-2.75zM122.75 50.8h2.75v3.2h-2.75zM109.85 53.4h2.75v3.2h-2.75zM114.15 53.4h2.75v3.2h-2.75zM112 56h2.75v3.2h-2.75zM116.3 58.6h2.75v3.2h-2.75zM107.7 66.4h2.75v3.2h-2.75zM73.3 89.8h2.75v3.2h-2.75z"/>
<path fill="#34c79c" d="M56.1 48.2h2.75v3.2h-2.75zM116.3 48.2h2.75v3.2h-2.75zM105.55 50.8h4.9v3.2h-4.9zM120.6 53.4h2.75v3.2h-2.75zM109.85 56h2.75v3.2h-2.75zM114.15 56h2.75v3.2h-2.75zM120.6 56h2.75v3.2h-2.75zM109.85 58.6h2.75v3.2h-2.75zM109.85 61.2h2.75v3.2h-2.75zM71.15 87.2h4.9v3.2h-4.9z"/>
<path fill="#3dc990" d="M56.1 45.6h2.75v3.2h-2.75zM116.3 50.8h2.75v3.2h-2.75zM120.6 50.8h2.75v3.2h-2.75zM118.45 58.6h2.75v3.2h-2.75zM105.55 63.8h2.75v3.2h-2.75z"/>
<path fill="#4bcb84" d="M124.9 43h2.75v3.2h-2.75zM58.25 45.6h2.75v3.2h-2.75zM73.3 45.6h2.75v3.2h-2.75zM118.45 45.6h2.75v3.2h-2.75zM58.25 48.2h2.75v3.2h-2.75zM105.55 53.4h4.9v3.2h-4.9zM116.3 53.4h2.75v3.2h-2.75zM116.3 56h2.75v3.2h-2.75zM107.7 63.8h2.75v3.2h-2.75z"/>
<path fill="#5ccc76" d="M118.45 48.2h2.75v3.2h-2.75zM124.9 48.2h2.75v3.2h-2.75zM118.45 50.8h2.75v3.2h-2.75zM105.55 56h2.75v3.2h-2.75zM118.45 56h2.75v3.2h-2.75z"/>
<path fill="#6dcd67" d="M120.6 43h2.75v3.2h-2.75zM118.45 53.4h2.75v3.2h-2.75zM107.7 56h2.75v3.2h-2.75zM105.55 58.6h2.75v3.2h-2.75zM105.55 61.2h2.75v3.2h-2.75z"/>
<path fill="#81cc59" d="M107.7 58.6h2.75v3.2h-2.75zM107.7 61.2h2.75v3.2h-2.75z"/>
<path fill="#94ca4a" d="M120.6 48.2h2.75v3.2h-2.75z"/>
<path fill="#b8c431" d="M122.75 43h2.75v3.2h-2.75z"/>
<path fill="#c8c129" d="M124.9 45.6h2.75v3.2h-2.75zM122.75 48.2h2.75v3.2h-2.75z"/>
<path fill="#f1ba37" d="M120.6 45.6h2.75v3.2h-2.75z"/>
<path fill="#f5eb23" d="M122.75 45.6h2.75v3.2h-2.75z"/>
</g>
<use href="#qh" fill="none" stroke="#0a0a0a" stroke-width="0.95" stroke-linejoin="round"/>
<rect x="0" y="0" width="137.2" height="104.2" fill="none" stroke="#999" stroke-width="0.9"/>
<path d="M18.92 104.2v-1.4M18.92 0v1.4M61.92 104.2v-1.4M61.92 0v1.4M104.92 104.2v-1.4M104.92 0v1.4M0 94.02h1.4M137.2 94.02h-1.4M0 73.22h1.4M137.2 73.22h-1.4M0 52.42h1.4M137.2 52.42h-1.4M0 31.62h1.4M137.2 31.62h-1.4M0 10.82h1.4M137.2 10.82h-1.4" stroke="#888" stroke-width="0.8" fill="none"/>
<text x="18.92" y="115.8" class="t" text-anchor="middle">90</text>
<text x="61.92" y="115.8" class="t" text-anchor="middle">95</text>
<text x="104.92" y="115.8" class="t" text-anchor="middle">100</text>
<text x="-3.1" y="97.12" class="t" text-anchor="end">32</text>
<text x="-3.1" y="76.32" class="t" text-anchor="end">34</text>
<text x="-3.1" y="55.52" class="t" text-anchor="end">36</text>
<text x="-3.1" y="34.72" class="t" text-anchor="end">38</text>
<text x="-3.1" y="13.92" class="t" text-anchor="end">40</text>
<text x="10.6" y="12.3" class="p">(b)</text>
<rect x="142.4" y="11" width="10.8" height="93.8" fill="url(#pg)" stroke="#999" stroke-width="0.4"/>
<text x="157.4" y="108.1" class="t">0</text>
<text x="157.4" y="78.13" class="t">5</text>
<text x="157.4" y="48.16" class="t">10</text>
<text x="157.4" y="18.2" class="t">15</text>
<text x="150" y="6.4" class="m" text-anchor="middle">(mm)</text>
</g>
<g transform="translate(377.3 19.2)">
<g clip-path="url(#cq)" shape-rendering="crispEdges">
<path fill="#463de0" d="M122.75 45.6h2.75v3.2h-2.75z"/>
<path fill="#4744e9" d="M105.55 63.8h2.75v3.2h-2.75z"/>
<path fill="#484cef" d="M122.75 43h2.75v3.2h-2.75zM105.55 61.2h2.75v3.2h-2.75zM103.4 63.8h2.75v3.2h-2.75z"/>
<path fill="#4853f5" d="M120.6 45.6h2.75v3.2h-2.75z"/>
<path fill="#475bf9" d="M120.6 43h2.75v3.2h-2.75zM56.1 50.8h4.9v3.2h-4.9zM103.4 61.2h2.75v3.2h-2.75zM103.4 66.4h4.9v3.2h-4.9z"/>
<path fill="#4562fc" d="M124.9 45.6h2.75v3.2h-2.75zM56.1 53.4h2.75v3.2h-2.75zM107.7 63.8h2.75v3.2h-2.75z"/>
<path fill="#426afe" d="M58.25 48.2h4.9v3.2h-4.9zM122.75 48.2h2.75v3.2h-2.75zM53.95 50.8h2.75v3.2h-2.75zM60.4 50.8h4.9v3.2h-4.9zM73.3 50.8h2.75v3.2h-2.75zM58.25 53.4h4.9v3.2h-4.9zM73.3 53.4h2.75v3.2h-2.75zM116.3 53.4h2.75v3.2h-2.75zM118.45 56h2.75v3.2h-2.75zM105.55 58.6h2.75v3.2h-2.75zM118.45 58.6h2.75v3.2h-2.75zM107.7 61.2h2.75v3.2h-2.75zM101.25 63.8h2.75v3.2h-2.75z"/>
<path fill="#3c72ff" d="M124.9 43h2.75v3.2h-2.75zM53.95 48.2h4.9v3.2h-4.9zM120.6 48.2h2.75v3.2h-2.75zM71.15 50.8h2.75v3.2h-2.75zM53.95 53.4h2.75v3.2h-2.75zM62.55 53.4h2.75v3.2h-2.75zM71.15 53.4h2.75v3.2h-2.75zM118.45 53.4h2.75v3.2h-2.75zM116.3 56h2.75v3.2h-2.75zM107.7 58.6h2.75v3.2h-2.75zM116.3 58.6h2.75v3.2h-2.75zM107.7 66.4h2.75v3.2h-2.75z"/>
<path fill="#347afd" d="M109.85 48.2h4.9v3.2h-4.9zM51.8 50.8h2.75v3.2h-2.75zM64.7 50.8h2.75v3.2h-2.75zM114.15 53.4h2.75v3.2h-2.75zM56.1 56h4.9v3.2h-4.9zM62.55 56h2.75v3.2h-2.75zM71.15 56h4.9v3.2h-4.9zM105.55 56h2.75v3.2h-2.75zM114.15 56h2.75v3.2h-2.75zM120.6 56h2.75v3.2h-2.75zM103.4 58.6h2.75v3.2h-2.75zM114.15 58.6h2.75v3.2h-2.75zM120.6 58.6h2.75v3.2h-2.75zM101.25 61.2h2.75v3.2h-2.75zM101.25 66.4h2.75v3.2h-2.75zM103.4 69h4.9v3.2h-4.9z"/>
<path fill="#2f82fa" d="M107.7 40.4h2.75v3.2h-2.75zM103.4 43h2.75v3.2h-2.75zM107.7 43h4.9v3.2h-4.9zM118.45 43h2.75v3.2h-2.75zM103.4 45.6h2.75v3.2h-2.75zM107.7 45.6h9.2v3.2h-9.2zM118.45 45.6h2.75v3.2h-2.75zM62.55 48.2h4.9v3.2h-4.9zM73.3 48.2h2.75v3.2h-2.75zM103.4 48.2h7.05v3.2h-7.05zM114.15 48.2h7.05v3.2h-7.05zM75.45 50.8h2.75v3.2h-2.75zM107.7 50.8h4.9v3.2h-4.9zM118.45 50.8h2.75v3.2h-2.75zM51.8 53.4h2.75v3.2h-2.75zM64.7 53.4h7.05v3.2h-7.05zM75.45 53.4h2.75v3.2h-2.75zM103.4 53.4h2.75v3.2h-2.75zM107.7 53.4h4.9v3.2h-4.9zM120.6 53.4h2.75v3.2h-2.75zM60.4 56h2.75v3.2h-2.75zM69 56h2.75v3.2h-2.75zM103.4 56h2.75v3.2h-2.75zM107.7 56h2.75v3.2h-2.75zM112 56h2.75v3.2h-2.75zM60.4 58.6h2.75v3.2h-2.75zM71.15 58.6h4.9v3.2h-4.9zM109.85 61.2h2.75v3.2h-2.75zM114.15 61.2h4.9v3.2h-4.9zM109.85 63.8h2.75v3.2h-2.75zM62.55 66.4h2.75v3.2h-2.75zM109.85 66.4h2.75v3.2h-2.75zM64.7 69h2.75v3.2h-2.75zM71.15 84.6h7.05v3.2h-7.05zM71.15 87.2h7.05v3.2h-7.05z"/>
<path fill="#2d89f5" d="M109.85 40.4h2.75v3.2h-2.75zM116.3 40.4h4.9v3.2h-4.9zM122.75 40.4h2.75v3.2h-2.75zM101.25 43h2.75v3.2h-2.75zM105.55 43h2.75v3.2h-2.75zM56.1 45.6h4.9v3.2h-4.9zM62.55 45.6h2.75v3.2h-2.75zM101.25 45.6h2.75v3.2h-2.75zM105.55 45.6h2.75v3.2h-2.75zM116.3 45.6h2.75v3.2h-2.75zM51.8 48.2h2.75v3.2h-2.75zM69 48.2h4.9v3.2h-4.9zM99.1 48.2h4.9v3.2h-4.9zM49.65 50.8h2.75v3.2h-2.75zM66.85 50.8h4.9v3.2h-4.9zM99.1 50.8h9.2v3.2h-9.2zM112 50.8h7.05v3.2h-7.05zM120.6 50.8h2.75v3.2h-2.75zM49.65 53.4h2.75v3.2h-2.75zM105.55 53.4h2.75v3.2h-2.75zM112 53.4h2.75v3.2h-2.75zM51.8 56h4.9v3.2h-4.9zM64.7 56h2.75v3.2h-2.75zM75.45 56h2.75v3.2h-2.75zM101.25 56h2.75v3.2h-2.75zM109.85 56h2.75v3.2h-2.75zM58.25 58.6h2.75v3.2h-2.75zM62.55 58.6h9.2v3.2h-9.2zM101.25 58.6h2.75v3.2h-2.75zM109.85 58.6h4.9v3.2h-4.9zM58.25 61.2h2.75v3.2h-2.75zM62.55 61.2h13.5v3.2h-13.5zM112 61.2h2.75v3.2h-2.75zM118.45 61.2h2.75v3.2h-2.75zM64.7 63.8h2.75v3.2h-2.75zM69 63.8h4.9v3.2h-4.9zM112 63.8h2.75v3.2h-2.75zM66.85 66.4h2.75v3.2h-2.75zM58.25 69h2.75v3.2h-2.75zM107.7 69h2.75v3.2h-2.75zM56.1 71.6h11.35v3.2h-11.35zM69 71.6h2.75v3.2h-2.75zM58.25 74.2h2.75v3.2h-2.75zM64.7 74.2h2.75v3.2h-2.75zM62.55 76.8h4.9v3.2h-4.9zM69 76.8h2.75v3.2h-2.75zM62.55 79.4h2.75v3.2h-2.75zM66.85 79.4h2.75v3.2h-2.75zM69 82h7.05v3.2h-7.05zM69 84.6h2.75v3.2h-2.75z"/>
<path fill="#2c90f0" d="M105.55 37.8h2.75v3.2h-2.75zM112 37.8h2.75v3.2h-2.75zM120.6 37.8h4.9v3.2h-4.9zM101.25 40.4h7.05v3.2h-7.05zM112 40.4h4.9v3.2h-4.9zM120.6 40.4h2.75v3.2h-2.75zM124.9 40.4h2.75v3.2h-2.75zM99.1 43h2.75v3.2h-2.75zM112 43h7.05v3.2h-7.05zM60.4 45.6h2.75v3.2h-2.75zM96.95 45.6h2.75v3.2h-2.75zM49.65 48.2h2.75v3.2h-2.75zM66.85 48.2h2.75v3.2h-2.75zM96.95 48.2h2.75v3.2h-2.75zM124.9 48.2h2.75v3.2h-2.75zM96.95 50.8h2.75v3.2h-2.75zM122.75 50.8h4.9v3.2h-4.9zM96.95 53.4h7.05v3.2h-7.05zM66.85 56h2.75v3.2h-2.75zM53.95 58.6h4.9v3.2h-4.9zM75.45 58.6h2.75v3.2h-2.75zM99.1 58.6h2.75v3.2h-2.75zM122.75 58.6h2.75v3.2h-2.75zM53.95 61.2h4.9v3.2h-4.9zM60.4 61.2h2.75v3.2h-2.75zM53.95 63.8h4.9v3.2h-4.9zM60.4 63.8h4.9v3.2h-4.9zM66.85 63.8h2.75v3.2h-2.75zM73.3 63.8h2.75v3.2h-2.75zM99.1 63.8h2.75v3.2h-2.75zM114.15 63.8h7.05v3.2h-7.05zM56.1 66.4h7.05v3.2h-7.05zM64.7 66.4h2.75v3.2h-2.75zM69 66.4h2.75v3.2h-2.75zM114.15 66.4h2.75v3.2h-2.75zM60.4 69h4.9v3.2h-4.9zM66.85 69h4.9v3.2h-4.9zM101.25 69h2.75v3.2h-2.75zM66.85 71.6h2.75v3.2h-2.75zM71.15 71.6h2.75v3.2h-2.75zM107.7 71.6h2.75v3.2h-2.75zM60.4 74.2h4.9v3.2h-4.9zM66.85 74.2h4.9v3.2h-4.9zM73.3 74.2h2.75v3.2h-2.75zM58.25 76.8h4.9v3.2h-4.9zM66.85 76.8h2.75v3.2h-2.75zM73.3 76.8h2.75v3.2h-2.75zM60.4 79.4h2.75v3.2h-2.75zM64.7 79.4h2.75v3.2h-2.75zM69 79.4h4.9v3.2h-4.9zM62.55 82h4.9v3.2h-4.9zM75.45 82h2.75v3.2h-2.75zM66.85 84.6h2.75v3.2h-2.75zM77.6 84.6h2.75v3.2h-2.75zM69 87.2h2.75v3.2h-2.75zM69 89.8h4.9v3.2h-4.9z"/>
<path fill="#2797eb" d="M99.1 35.2h2.75v3.2h-2.75zM116.3 35.2h7.05v3.2h-7.05zM99.1 37.8h7.05v3.2h-7.05zM107.7 37.8h4.9v3.2h-4.9zM114.15 37.8h7.05v3.2h-7.05zM96.95 40.4h4.9v3.2h-4.9zM51.8 45.6h4.9v3.2h-4.9zM71.15 45.6h2.75v3.2h-2.75zM94.8 45.6h2.75v3.2h-2.75zM99.1 45.6h2.75v3.2h-2.75zM127.05 45.6h2.75v3.2h-2.75zM75.45 48.2h2.75v3.2h-2.75zM127.05 48.2h2.75v3.2h-2.75zM47.5 50.8h2.75v3.2h-2.75zM94.8 50.8h2.75v3.2h-2.75zM127.05 50.8h2.75v3.2h-2.75zM47.5 53.4h2.75v3.2h-2.75zM122.75 53.4h4.9v3.2h-4.9zM49.65 56h2.75v3.2h-2.75zM96.95 56h4.9v3.2h-4.9zM122.75 56h2.75v3.2h-2.75zM49.65 58.6h4.9v3.2h-4.9zM49.65 61.2h2.75v3.2h-2.75zM99.1 61.2h2.75v3.2h-2.75zM58.25 63.8h2.75v3.2h-2.75zM75.45 63.8h2.75v3.2h-2.75zM53.95 66.4h2.75v3.2h-2.75zM71.15 66.4h4.9v3.2h-4.9zM99.1 66.4h2.75v3.2h-2.75zM112 66.4h2.75v3.2h-2.75zM116.3 66.4h2.75v3.2h-2.75zM53.95 69h4.9v3.2h-4.9zM71.15 69h4.9v3.2h-4.9zM109.85 69h2.75v3.2h-2.75zM116.3 69h4.9v3.2h-4.9zM73.3 71.6h2.75v3.2h-2.75zM77.6 71.6h2.75v3.2h-2.75zM101.25 71.6h7.05v3.2h-7.05zM109.85 71.6h2.75v3.2h-2.75zM71.15 74.2h2.75v3.2h-2.75zM75.45 74.2h4.9v3.2h-4.9zM101.25 74.2h2.75v3.2h-2.75zM105.55 74.2h2.75v3.2h-2.75zM71.15 76.8h2.75v3.2h-2.75zM75.45 76.8h2.75v3.2h-2.75zM73.3 79.4h4.9v3.2h-4.9zM66.85 82h2.75v3.2h-2.75zM64.7 84.6h2.75v3.2h-2.75zM79.75 84.6h2.75v3.2h-2.75zM66.85 87.2h2.75v3.2h-2.75zM77.6 87.2h2.75v3.2h-2.75zM73.3 89.8h2.75v3.2h-2.75zM69 92.4h4.9v3.2h-4.9z"/>
<path fill="#259de7" d="M96.95 30h7.05v3.2h-7.05zM96.95 32.6h4.9v3.2h-4.9zM114.15 32.6h2.75v3.2h-2.75zM96.95 35.2h2.75v3.2h-2.75zM101.25 35.2h2.75v3.2h-2.75zM112 35.2h4.9v3.2h-4.9zM96.95 37.8h2.75v3.2h-2.75zM96.95 43h2.75v3.2h-2.75zM64.7 45.6h7.05v3.2h-7.05zM73.3 45.6h2.75v3.2h-2.75zM94.8 48.2h2.75v3.2h-2.75zM77.6 50.8h2.75v3.2h-2.75zM45.35 53.4h2.75v3.2h-2.75zM77.6 53.4h2.75v3.2h-2.75zM47.5 56h2.75v3.2h-2.75zM47.5 58.6h2.75v3.2h-2.75zM96.95 58.6h2.75v3.2h-2.75zM51.8 61.2h2.75v3.2h-2.75zM75.45 61.2h2.75v3.2h-2.75zM49.65 63.8h4.9v3.2h-4.9zM77.6 63.8h2.75v3.2h-2.75zM51.8 66.4h2.75v3.2h-2.75zM75.45 66.4h4.9v3.2h-4.9zM96.95 66.4h2.75v3.2h-2.75zM118.45 66.4h2.75v3.2h-2.75zM75.45 69h2.75v3.2h-2.75zM99.1 69h2.75v3.2h-2.75zM75.45 71.6h2.75v3.2h-2.75zM79.75 71.6h2.75v3.2h-2.75zM92.65 71.6h4.9v3.2h-4.9zM99.1 71.6h2.75v3.2h-2.75zM79.75 74.2h4.9v3.2h-4.9zM92.65 74.2h2.75v3.2h-2.75zM96.95 74.2h4.9v3.2h-4.9zM103.4 74.2h2.75v3.2h-2.75zM107.7 74.2h9.2v3.2h-9.2zM77.6 76.8h2.75v3.2h-2.75zM94.8 76.8h9.2v3.2h-9.2zM105.55 76.8h2.75v3.2h-2.75zM109.85 76.8h7.05v3.2h-7.05zM77.6 79.4h2.75v3.2h-2.75zM96.95 79.4h2.75v3.2h-2.75zM101.25 79.4h4.9v3.2h-4.9zM77.6 82h4.9v3.2h-4.9zM105.55 84.6h2.75v3.2h-2.75zM79.75 87.2h2.75v3.2h-2.75zM66.85 89.8h2.75v3.2h-2.75zM75.45 89.8h4.9v3.2h-4.9zM73.3 92.4h2.75v3.2h-2.75z"/>
<path fill="#21a3e3" d="M92.65 30h4.9v3.2h-4.9zM103.4 30h2.75v3.2h-2.75zM101.25 32.6h4.9v3.2h-4.9zM94.8 35.2h2.75v3.2h-2.75zM103.4 35.2h4.9v3.2h-4.9zM94.8 37.8h2.75v3.2h-2.75zM94.8 40.4h2.75v3.2h-2.75zM56.1 43h7.05v3.2h-7.05zM69 43h2.75v3.2h-2.75zM94.8 43h2.75v3.2h-2.75zM75.45 45.6h2.75v3.2h-2.75zM45.35 48.2h4.9v3.2h-4.9zM92.65 48.2h2.75v3.2h-2.75zM43.2 50.8h4.9v3.2h-4.9zM92.65 50.8h2.75v3.2h-2.75zM92.65 53.4h4.9v3.2h-4.9zM45.35 56h2.75v3.2h-2.75zM77.6 56h2.75v3.2h-2.75zM92.65 56h4.9v3.2h-4.9zM77.6 58.6h2.75v3.2h-2.75zM96.95 61.2h2.75v3.2h-2.75zM77.6 69h4.9v3.2h-4.9zM96.95 69h2.75v3.2h-2.75zM81.9 71.6h11.35v3.2h-11.35zM96.95 71.6h2.75v3.2h-2.75zM94.8 74.2h2.75v3.2h-2.75zM79.75 76.8h4.9v3.2h-4.9zM92.65 76.8h2.75v3.2h-2.75zM103.4 76.8h2.75v3.2h-2.75zM107.7 76.8h2.75v3.2h-2.75zM116.3 76.8h2.75v3.2h-2.75zM79.75 79.4h4.9v3.2h-4.9zM94.8 79.4h2.75v3.2h-2.75zM99.1 79.4h2.75v3.2h-2.75zM105.55 79.4h4.9v3.2h-4.9zM81.9 82h2.75v3.2h-2.75zM96.95 82h13.5v3.2h-13.5zM81.9 84.6h2.75v3.2h-2.75zM107.7 84.6h2.75v3.2h-2.75zM107.7 87.2h2.75v3.2h-2.75z"/>
<path fill="#1da9e0" d="M90.5 30h2.75v3.2h-2.75zM105.55 30h7.05v3.2h-7.05zM92.65 32.6h4.9v3.2h-4.9zM92.65 35.2h2.75v3.2h-2.75zM109.85 35.2h2.75v3.2h-2.75zM92.65 40.4h2.75v3.2h-2.75zM62.55 43h2.75v3.2h-2.75zM71.15 43h2.75v3.2h-2.75zM47.5 45.6h4.9v3.2h-4.9zM92.65 45.6h2.75v3.2h-2.75zM41.05 48.2h2.75v3.2h-2.75zM41.05 50.8h2.75v3.2h-2.75zM90.5 50.8h2.75v3.2h-2.75zM43.2 53.4h2.75v3.2h-2.75zM90.5 53.4h2.75v3.2h-2.75zM79.75 56h2.75v3.2h-2.75zM90.5 56h2.75v3.2h-2.75zM79.75 58.6h2.75v3.2h-2.75zM92.65 58.6h4.9v3.2h-4.9zM77.6 61.2h2.75v3.2h-2.75zM79.75 63.8h2.75v3.2h-2.75zM96.95 63.8h2.75v3.2h-2.75zM79.75 66.4h2.75v3.2h-2.75zM81.9 69h9.2v3.2h-9.2zM92.65 69h4.9v3.2h-4.9z"/>
<path fill="#17aeda" d="M88.35 30h2.75v3.2h-2.75zM90.5 32.6h2.75v3.2h-2.75zM112 32.6h2.75v3.2h-2.75zM107.7 35.2h2.75v3.2h-2.75zM92.65 37.8h2.75v3.2h-2.75zM64.7 40.4h4.9v3.2h-4.9zM51.8 43h4.9v3.2h-4.9zM64.7 43h4.9v3.2h-4.9zM73.3 43h4.9v3.2h-4.9zM92.65 43h2.75v3.2h-2.75zM45.35 45.6h2.75v3.2h-2.75zM90.5 45.6h2.75v3.2h-2.75zM38.9 48.2h2.75v3.2h-2.75zM43.2 48.2h2.75v3.2h-2.75zM77.6 48.2h2.75v3.2h-2.75zM90.5 48.2h2.75v3.2h-2.75zM88.35 50.8h2.75v3.2h-2.75zM79.75 53.4h2.75v3.2h-2.75zM86.2 53.4h2.75v3.2h-2.75zM81.9 56h2.75v3.2h-2.75zM88.35 56h2.75v3.2h-2.75zM81.9 58.6h2.75v3.2h-2.75zM90.5 58.6h2.75v3.2h-2.75zM79.75 61.2h2.75v3.2h-2.75zM94.8 61.2h2.75v3.2h-2.75zM94.8 63.8h2.75v3.2h-2.75zM81.9 66.4h4.9v3.2h-4.9zM92.65 66.4h4.9v3.2h-4.9zM90.5 69h2.75v3.2h-2.75z"/>
<path fill="#0cb3d3" d="M64.7 24.8h2.75v3.2h-2.75zM73.3 27.4h4.9v3.2h-4.9zM79.75 27.4h2.75v3.2h-2.75zM84.05 27.4h4.9v3.2h-4.9zM77.6 30h2.75v3.2h-2.75zM86.2 30h2.75v3.2h-2.75zM105.55 32.6h2.75v3.2h-2.75zM90.5 35.2h2.75v3.2h-2.75zM90.5 37.8h2.75v3.2h-2.75zM58.25 40.4h7.05v3.2h-7.05zM69 40.4h4.9v3.2h-4.9zM90.5 40.4h2.75v3.2h-2.75zM49.65 43h2.75v3.2h-2.75zM90.5 43h2.75v3.2h-2.75zM38.9 45.6h7.05v3.2h-7.05zM88.35 48.2h2.75v3.2h-2.75zM79.75 50.8h2.75v3.2h-2.75zM84.05 50.8h4.9v3.2h-4.9zM81.9 53.4h2.75v3.2h-2.75zM88.35 53.4h2.75v3.2h-2.75zM84.05 56h4.9v3.2h-4.9zM81.9 63.8h2.75v3.2h-2.75zM92.65 63.8h2.75v3.2h-2.75zM86.2 66.4h7.05v3.2h-7.05z"/>
<path fill="#02b7cb" d="M60.4 24.8h4.9v3.2h-4.9zM69 27.4h4.9v3.2h-4.9zM77.6 27.4h2.75v3.2h-2.75zM81.9 27.4h2.75v3.2h-2.75zM71.15 30h4.9v3.2h-4.9zM81.9 30h4.9v3.2h-4.9zM71.15 32.6h2.75v3.2h-2.75zM84.05 32.6h2.75v3.2h-2.75zM88.35 32.6h2.75v3.2h-2.75zM109.85 32.6h2.75v3.2h-2.75zM69 35.2h2.75v3.2h-2.75zM73.3 35.2h2.75v3.2h-2.75zM88.35 35.2h2.75v3.2h-2.75zM64.7 37.8h4.9v3.2h-4.9zM73.3 37.8h2.75v3.2h-2.75zM56.1 40.4h2.75v3.2h-2.75zM73.3 40.4h4.9v3.2h-4.9zM88.35 40.4h2.75v3.2h-2.75zM47.5 43h2.75v3.2h-2.75zM88.35 43h2.75v3.2h-2.75zM77.6 45.6h2.75v3.2h-2.75zM88.35 45.6h2.75v3.2h-2.75zM79.75 48.2h2.75v3.2h-2.75zM86.2 48.2h2.75v3.2h-2.75zM81.9 50.8h2.75v3.2h-2.75zM84.05 53.4h2.75v3.2h-2.75zM84.05 58.6h7.05v3.2h-7.05zM81.9 61.2h2.75v3.2h-2.75zM92.65 61.2h2.75v3.2h-2.75zM84.05 63.8h4.9v3.2h-4.9z"/>
<path fill="#03bbc2" d="M38.9 24.8h2.75v3.2h-2.75zM58.25 24.8h2.75v3.2h-2.75zM62.55 27.4h7.05v3.2h-7.05zM32.45 30h2.75v3.2h-2.75zM62.55 30h9.2v3.2h-9.2zM75.45 30h2.75v3.2h-2.75zM79.75 30h2.75v3.2h-2.75zM66.85 32.6h4.9v3.2h-4.9zM73.3 32.6h7.05v3.2h-7.05zM81.9 32.6h2.75v3.2h-2.75zM86.2 32.6h2.75v3.2h-2.75zM107.7 32.6h2.75v3.2h-2.75zM64.7 35.2h2.75v3.2h-2.75zM71.15 35.2h2.75v3.2h-2.75zM75.45 35.2h2.75v3.2h-2.75zM84.05 35.2h2.75v3.2h-2.75zM62.55 37.8h2.75v3.2h-2.75zM69 37.8h4.9v3.2h-4.9zM75.45 37.8h2.75v3.2h-2.75zM88.35 37.8h2.75v3.2h-2.75zM34.6 40.4h2.75v3.2h-2.75zM38.9 40.4h2.75v3.2h-2.75zM51.8 40.4h4.9v3.2h-4.9zM86.2 40.4h2.75v3.2h-2.75zM36.75 43h11.35v3.2h-11.35zM86.2 45.6h2.75v3.2h-2.75zM84.05 48.2h2.75v3.2h-2.75zM84.05 61.2h9.2v3.2h-9.2zM88.35 63.8h4.9v3.2h-4.9z"/>
<path fill="#12beb9" d="M36.75 24.8h2.75v3.2h-2.75zM41.05 24.8h4.9v3.2h-4.9zM47.5 24.8h11.35v3.2h-11.35zM26 27.4h7.05v3.2h-7.05zM34.6 27.4h2.75v3.2h-2.75zM56.1 27.4h7.05v3.2h-7.05zM30.3 30h2.75v3.2h-2.75zM34.6 30h2.75v3.2h-2.75zM60.4 30h2.75v3.2h-2.75zM30.3 32.6h2.75v3.2h-2.75zM58.25 32.6h2.75v3.2h-2.75zM64.7 32.6h2.75v3.2h-2.75zM79.75 32.6h2.75v3.2h-2.75zM60.4 35.2h4.9v3.2h-4.9zM66.85 35.2h2.75v3.2h-2.75zM77.6 35.2h4.9v3.2h-4.9zM86.2 35.2h2.75v3.2h-2.75zM53.95 37.8h9.2v3.2h-9.2zM77.6 37.8h11.35v3.2h-11.35zM36.75 40.4h2.75v3.2h-2.75zM41.05 40.4h7.05v3.2h-7.05zM49.65 40.4h2.75v3.2h-2.75zM77.6 40.4h2.75v3.2h-2.75zM77.6 43h4.9v3.2h-4.9zM79.75 45.6h4.9v3.2h-4.9zM81.9 48.2h2.75v3.2h-2.75z"/>
<path fill="#22c1b0" d="M45.35 24.8h2.75v3.2h-2.75zM32.45 27.4h2.75v3.2h-2.75zM36.75 27.4h2.75v3.2h-2.75zM41.05 27.4h2.75v3.2h-2.75zM49.65 27.4h7.05v3.2h-7.05zM28.15 30h2.75v3.2h-2.75zM56.1 30h4.9v3.2h-4.9zM32.45 32.6h7.05v3.2h-7.05zM56.1 32.6h2.75v3.2h-2.75zM60.4 32.6h4.9v3.2h-4.9zM30.3 35.2h4.9v3.2h-4.9zM56.1 35.2h4.9v3.2h-4.9zM81.9 35.2h2.75v3.2h-2.75zM32.45 37.8h4.9v3.2h-4.9zM41.05 37.8h9.2v3.2h-9.2zM47.5 40.4h2.75v3.2h-2.75zM79.75 40.4h7.05v3.2h-7.05zM81.9 43h7.05v3.2h-7.05zM84.05 45.6h2.75v3.2h-2.75z"/>
<path fill="#2cc4a6" d="M38.9 27.4h2.75v3.2h-2.75zM45.35 27.4h4.9v3.2h-4.9zM36.75 30h2.75v3.2h-2.75zM41.05 30h2.75v3.2h-2.75zM45.35 30h11.35v3.2h-11.35zM38.9 32.6h2.75v3.2h-2.75zM51.8 32.6h4.9v3.2h-4.9zM34.6 35.2h4.9v3.2h-4.9zM51.8 35.2h4.9v3.2h-4.9zM36.75 37.8h4.9v3.2h-4.9zM49.65 37.8h4.9v3.2h-4.9z"/>
<path fill="#34c79c" d="M43.2 27.4h2.75v3.2h-2.75zM38.9 30h2.75v3.2h-2.75zM43.2 30h2.75v3.2h-2.75zM41.05 32.6h11.35v3.2h-11.35zM38.9 35.2h13.5v3.2h-13.5z"/>
</g>
<use href="#qh" fill="none" stroke="#0a0a0a" stroke-width="0.95" stroke-linejoin="round"/>
<rect x="0" y="0" width="137.2" height="104.2" fill="none" stroke="#999" stroke-width="0.9"/>
<path d="M18.92 104.2v-1.4M18.92 0v1.4M61.92 104.2v-1.4M61.92 0v1.4M104.92 104.2v-1.4M104.92 0v1.4M0 94.02h1.4M137.2 94.02h-1.4M0 73.22h1.4M137.2 73.22h-1.4M0 52.42h1.4M137.2 52.42h-1.4M0 31.62h1.4M137.2 31.62h-1.4M0 10.82h1.4M137.2 10.82h-1.4" stroke="#888" stroke-width="0.8" fill="none"/>
<text x="18.92" y="115.8" class="t" text-anchor="middle">90</text>
<text x="61.92" y="115.8" class="t" text-anchor="middle">95</text>
<text x="104.92" y="115.8" class="t" text-anchor="middle">100</text>
<text x="-3.1" y="97.12" class="t" text-anchor="end">32</text>
<text x="-3.1" y="76.32" class="t" text-anchor="end">34</text>
<text x="-3.1" y="55.52" class="t" text-anchor="end">36</text>
<text x="-3.1" y="34.72" class="t" text-anchor="end">38</text>
<text x="-3.1" y="13.92" class="t" text-anchor="end">40</text>
<text x="10.6" y="12.3" class="p">(c)</text>
<rect x="142.4" y="11" width="10.8" height="93.8" fill="url(#pg)" stroke="#999" stroke-width="0.4"/>
<text x="157.4" y="90.51" class="t">-5</text>
<text x="157.4" y="61.2" class="t">0</text>
<text x="157.4" y="31.89" class="t">5</text>
<text x="148.8" y="6.4" class="m" text-anchor="middle">(mm)</text>
</g>
<g transform="translate(35.5 141.5)">
<g clip-path="url(#cq)" shape-rendering="crispEdges">
<path fill="#2f82fa" d="M24.28 59.12h12.64v2.68h-12.64zM20.84 61.2h19.52v2.68h-19.52zM19.12 63.28h22.96v2.68h-22.96zM17.4 65.36h24.68v2.68h-24.68zM17.4 67.44h26.4v2.68h-26.4zM17.4 69.52h24.68v2.68h-24.68zM19.12 71.6h22.96v2.68h-22.96zM20.84 73.68h19.52v2.68h-19.52zM24.28 75.76h12.64v2.68h-12.64z"/>
<path fill="#2d89f5" d="M65.56 25.84h10.92v2.68h-10.92zM63.84 27.92h14.36v2.68h-14.36zM62.12 30h16.08v2.68h-16.08zM62.12 32.08h16.08v2.68h-16.08zM67.28 34.16h7.48v2.68h-7.48zM13.96 54.96h29.84v2.68h-29.84zM13.96 57.04h38.44v2.68h-38.44zM13.96 59.12h10.92v2.68h-10.92zM36.32 59.12h28.12v2.68h-28.12zM13.96 61.2h7.48v2.68h-7.48zM39.76 61.2h40.16v2.68h-40.16zM13.96 63.28h5.76v2.68h-5.76zM41.48 63.28h38.44v2.68h-38.44zM15.68 65.36h2.32v2.68h-2.32zM41.48 65.36h36.72v2.68h-36.72zM15.68 67.44h2.32v2.68h-2.32zM43.2 67.44h26.4v2.68h-26.4zM15.68 69.52h2.32v2.68h-2.32zM41.48 69.52h22.96v2.68h-22.96zM15.68 71.6h4.04v2.68h-4.04zM41.48 71.6h19.52v2.68h-19.52zM15.68 73.68h5.76v2.68h-5.76zM39.76 73.68h19.52v2.68h-19.52zM17.4 75.76h7.48v2.68h-7.48zM36.32 75.76h21.24v2.68h-21.24zM19.12 77.84h36.72v2.68h-36.72zM20.84 79.92h33.28v2.68h-33.28zM31.16 82h21.24v2.68h-21.24zM32.88 84.08h17.8v2.68h-17.8zM41.48 86.16h9.2v2.68h-9.2zM48.36 88.24h2.32v2.68h-2.32z"/>
<path fill="#2c90f0" d="M50.08 15.44h9.2v2.68h-9.2zM51.8 17.52h14.36v2.68h-14.36zM77.6 17.52h7.48v2.68h-7.48zM55.24 19.6h14.36v2.68h-14.36zM77.6 19.6h9.2v2.68h-9.2zM87.92 19.6h10.92v2.68h-10.92zM56.96 21.68h14.36v2.68h-14.36zM77.6 21.68h17.8v2.68h-17.8zM58.68 23.76h16.08v2.68h-16.08zM77.6 23.76h10.92v2.68h-10.92zM58.68 25.84h7.48v2.68h-7.48zM75.88 25.84h10.92v2.68h-10.92zM56.96 27.92h7.48v2.68h-7.48zM77.6 27.92h7.48v2.68h-7.48zM56.96 30h5.76v2.68h-5.76zM77.6 30h7.48v2.68h-7.48zM58.68 32.08h4.04v2.68h-4.04zM77.6 32.08h5.76v2.68h-5.76zM60.4 34.16h7.48v2.68h-7.48zM74.16 34.16h7.48v2.68h-7.48zM67.28 36.24h7.48v2.68h-7.48zM12.24 50.8h19.52v2.68h-19.52zM12.24 52.88h36.72v2.68h-36.72zM43.2 54.96h33.28v2.68h-33.28zM51.8 57.04h38.44v2.68h-38.44zM63.84 59.12h28.12v2.68h-28.12zM79.32 61.2h12.64v2.68h-12.64zM79.32 63.28h12.64v2.68h-12.64zM77.6 65.36h14.36v2.68h-14.36zM69 67.44h22.96v2.68h-22.96zM63.84 69.52h28.12v2.68h-28.12zM60.4 71.6h29.84v2.68h-29.84zM58.68 73.68h31.56v2.68h-31.56zM56.96 75.76h14.36v2.68h-14.36zM55.24 77.84h10.92v2.68h-10.92zM53.52 79.92h9.2v2.68h-9.2zM51.8 82h9.2v2.68h-9.2zM50.08 84.08h10.92v2.68h-10.92zM50.08 86.16h9.2v2.68h-9.2zM105.12 86.16h9.2v2.68h-9.2zM50.08 88.24h4.04v2.68h-4.04zM106.84 88.24h4.04v2.68h-4.04z"/>
<path fill="#2797eb" d="M39.76 17.52h12.64v2.68h-12.64zM44.92 19.6h10.92v2.68h-10.92zM50.08 21.68h7.48v2.68h-7.48zM94.8 21.68h5.76v2.68h-5.76zM51.8 23.76h7.48v2.68h-7.48zM87.92 23.76h12.64v2.68h-12.64zM53.52 25.84h5.76v2.68h-5.76zM86.2 25.84h7.48v2.68h-7.48zM53.52 27.92h4.04v2.68h-4.04zM84.48 27.92h5.76v2.68h-5.76zM53.52 30h4.04v2.68h-4.04zM84.48 30h4.04v2.68h-4.04zM53.52 32.08h5.76v2.68h-5.76zM82.76 32.08h5.76v2.68h-5.76zM56.96 34.16h4.04v2.68h-4.04zM81.04 34.16h5.76v2.68h-5.76zM60.4 36.24h7.48v2.68h-7.48zM74.16 36.24h9.2v2.68h-9.2zM17.4 48.72h9.2v2.68h-9.2zM31.16 50.8h14.36v2.68h-14.36zM48.36 52.88h22.96v2.68h-22.96zM75.88 54.96h16.08v2.68h-16.08zM89.64 57.04h4.04v2.68h-4.04zM91.36 59.12h4.04v2.68h-4.04zM91.36 61.2h4.04v2.68h-4.04zM91.36 63.28h4.04v2.68h-4.04zM91.36 65.36h4.04v2.68h-4.04zM91.36 67.44h4.04v2.68h-4.04zM91.36 69.52h4.04v2.68h-4.04zM89.64 71.6h5.76v2.68h-5.76zM89.64 73.68h5.76v2.68h-5.76zM70.72 75.76h14.36v2.68h-14.36zM91.36 75.76h5.76v2.68h-5.76zM65.56 77.84h21.24v2.68h-21.24zM93.08 77.84h4.04v2.68h-4.04zM62.12 79.92h7.48v2.68h-7.48zM82.76 79.92h4.04v2.68h-4.04zM93.08 79.92h7.48v2.68h-7.48zM60.4 82h5.76v2.68h-5.76zM94.8 82h10.92v2.68h-10.92zM113.72 82h4.04v2.68h-4.04zM60.4 84.08h4.04v2.68h-4.04zM98.24 84.08h17.8v2.68h-17.8zM58.68 86.16h5.76v2.68h-5.76zM58.68 88.24h5.76v2.68h-5.76zM62.12 90.32h2.32v2.68h-2.32zM63.84 92.4h2.32v2.68h-2.32zM63.84 94.48h4.04v2.68h-4.04zM69 96.56h4.04v2.68h-4.04z"/>
<path fill="#259de7" d="M32.88 19.6h12.64v2.68h-12.64zM39.76 21.68h10.92v2.68h-10.92zM44.92 23.76h7.48v2.68h-7.48zM99.96 23.76h4.04v2.68h-4.04zM48.36 25.84h5.76v2.68h-5.76zM93.08 25.84h9.2v2.68h-9.2zM50.08 27.92h4.04v2.68h-4.04zM89.64 27.92h5.76v2.68h-5.76zM50.08 30h4.04v2.68h-4.04zM87.92 30h5.76v2.68h-5.76zM50.08 32.08h4.04v2.68h-4.04zM87.92 32.08h4.04v2.68h-4.04zM51.8 34.16h5.76v2.68h-5.76zM86.2 34.16h5.76v2.68h-5.76zM56.96 36.24h4.04v2.68h-4.04zM82.76 36.24h7.48v2.68h-7.48zM65.56 38.32h16.08v2.68h-16.08zM26 48.72h12.64v2.68h-12.64zM44.92 50.8h12.64v2.68h-12.64zM70.72 52.88h19.52v2.68h-19.52zM91.36 54.96h4.04v2.68h-4.04zM93.08 57.04h4.04v2.68h-4.04zM94.8 59.12h2.32v2.68h-2.32zM94.8 61.2h4.04v2.68h-4.04zM94.8 63.28h4.04v2.68h-4.04zM94.8 65.36h4.04v2.68h-4.04zM94.8 67.44h4.04v2.68h-4.04zM94.8 69.52h4.04v2.68h-4.04zM94.8 71.6h4.04v2.68h-4.04zM94.8 73.68h4.04v2.68h-4.04zM96.52 75.76h4.04v2.68h-4.04zM96.52 77.84h5.76v2.68h-5.76zM117.16 77.84h2.32v2.68h-2.32zM69 79.92h14.36v2.68h-14.36zM99.96 79.92h9.2v2.68h-9.2zM110.28 79.92h9.2v2.68h-9.2zM65.56 82h7.48v2.68h-7.48zM79.32 82h5.76v2.68h-5.76zM105.12 82h9.2v2.68h-9.2zM63.84 84.08h5.76v2.68h-5.76zM82.76 84.08h2.32v2.68h-2.32zM63.84 86.16h4.04v2.68h-4.04zM63.84 88.24h4.04v2.68h-4.04zM63.84 90.32h5.76v2.68h-5.76zM65.56 92.4h5.76v2.68h-5.76zM67.28 94.48h10.92v2.68h-10.92z"/>
<path fill="#21a3e3" d="M26 21.68h14.36v2.68h-14.36zM20.84 23.76h9.2v2.68h-9.2zM34.6 23.76h10.92v2.68h-10.92zM19.12 25.84h4.04v2.68h-4.04zM43.2 25.84h5.76v2.68h-5.76zM101.68 25.84h7.48v2.68h-7.48zM44.92 27.92h5.76v2.68h-5.76zM94.8 27.92h9.2v2.68h-9.2zM46.64 30h4.04v2.68h-4.04zM93.08 30h4.04v2.68h-4.04zM46.64 32.08h4.04v2.68h-4.04zM91.36 32.08h4.04v2.68h-4.04zM48.36 34.16h4.04v2.68h-4.04zM91.36 34.16h4.04v2.68h-4.04zM51.8 36.24h5.76v2.68h-5.76zM89.64 36.24h5.76v2.68h-5.76zM58.68 38.32h7.48v2.68h-7.48zM81.04 38.32h10.92v2.68h-10.92zM26 46.64h7.48v2.68h-7.48zM38.04 48.72h10.92v2.68h-10.92zM56.96 50.8h22.96v2.68h-22.96zM89.64 52.88h4.04v2.68h-4.04zM94.8 54.96h2.32v2.68h-2.32zM96.52 57.04h2.32v2.68h-2.32zM96.52 59.12h4.04v2.68h-4.04zM98.24 61.2h2.32v2.68h-2.32zM98.24 63.28h2.32v2.68h-2.32zM98.24 65.36h4.04v2.68h-4.04zM98.24 67.44h4.04v2.68h-4.04zM120.6 67.44h2.32v2.68h-2.32zM98.24 69.52h2.32v2.68h-2.32zM118.88 69.52h4.04v2.68h-4.04zM98.24 71.6h4.04v2.68h-4.04zM118.88 71.6h2.32v2.68h-2.32zM98.24 73.68h4.04v2.68h-4.04zM99.96 75.76h4.04v2.68h-4.04zM115.44 75.76h4.04v2.68h-4.04zM101.68 77.84h16.08v2.68h-16.08zM108.56 79.92h2.32v2.68h-2.32zM72.44 82h7.48v2.68h-7.48zM69 84.08h14.36v2.68h-14.36zM67.28 86.16h5.76v2.68h-5.76zM79.32 86.16h5.76v2.68h-5.76zM67.28 88.24h5.76v2.68h-5.76zM79.32 88.24h5.76v2.68h-5.76zM69 90.32h14.36v2.68h-14.36zM70.72 92.4h9.2v2.68h-9.2z"/>
<path fill="#1da9e0" d="M29.44 23.76h5.76v2.68h-5.76zM22.56 25.84h21.24v2.68h-21.24zM19.12 27.92h7.48v2.68h-7.48zM38.04 27.92h7.48v2.68h-7.48zM103.4 27.92h7.48v2.68h-7.48zM20.84 30h4.04v2.68h-4.04zM41.48 30h5.76v2.68h-5.76zM96.52 30h10.92v2.68h-10.92zM110.28 30h4.04v2.68h-4.04zM20.84 32.08h2.32v2.68h-2.32zM43.2 32.08h4.04v2.68h-4.04zM94.8 32.08h5.76v2.68h-5.76zM43.2 34.16h5.76v2.68h-5.76zM94.8 34.16h5.76v2.68h-5.76zM46.64 36.24h5.76v2.68h-5.76zM94.8 36.24h4.04v2.68h-4.04zM53.52 38.32h5.76v2.68h-5.76zM91.36 38.32h5.76v2.68h-5.76zM67.28 40.4h22.96v2.68h-22.96zM24.28 44.56h5.76v2.68h-5.76zM32.88 46.64h9.2v2.68h-9.2zM48.36 48.72h10.92v2.68h-10.92zM79.32 50.8h12.64v2.68h-12.64zM93.08 52.88h4.04v2.68h-4.04zM96.52 54.96h2.32v2.68h-2.32zM98.24 57.04h2.32v2.68h-2.32zM99.96 59.12h2.32v2.68h-2.32zM99.96 61.2h2.32v2.68h-2.32zM99.96 63.28h4.04v2.68h-4.04zM120.6 63.28h2.32v2.68h-2.32zM101.68 65.36h2.32v2.68h-2.32zM118.88 65.36h4.04v2.68h-4.04zM101.68 67.44h2.32v2.68h-2.32zM117.16 67.44h4.04v2.68h-4.04zM99.96 69.52h4.04v2.68h-4.04zM117.16 69.52h2.32v2.68h-2.32zM101.68 71.6h4.04v2.68h-4.04zM117.16 71.6h2.32v2.68h-2.32zM101.68 73.68h5.76v2.68h-5.76zM113.72 73.68h4.04v2.68h-4.04zM103.4 75.76h12.64v2.68h-12.64zM72.44 86.16h7.48v2.68h-7.48zM72.44 88.24h7.48v2.68h-7.48z"/>
<path fill="#17aeda" d="M26 27.92h12.64v2.68h-12.64zM24.28 30h17.8v2.68h-17.8zM106.84 30h4.04v2.68h-4.04zM22.56 32.08h21.24v2.68h-21.24zM99.96 32.08h17.8v2.68h-17.8zM22.56 34.16h21.24v2.68h-21.24zM99.96 34.16h4.04v2.68h-4.04zM118.88 34.16h4.04v2.68h-4.04zM26 36.24h21.24v2.68h-21.24zM98.24 36.24h4.04v2.68h-4.04zM27.72 38.32h4.04v2.68h-4.04zM41.48 38.32h12.64v2.68h-12.64zM96.52 38.32h4.04v2.68h-4.04zM26 40.4h4.04v2.68h-4.04zM56.96 40.4h10.92v2.68h-10.92zM89.64 40.4h7.48v2.68h-7.48zM24.28 42.48h9.2v2.68h-9.2zM29.44 44.56h10.92v2.68h-10.92zM41.48 46.64h9.2v2.68h-9.2zM58.68 48.72h28.12v2.68h-28.12zM91.36 50.8h5.76v2.68h-5.76zM96.52 52.88h2.32v2.68h-2.32zM98.24 54.96h2.32v2.68h-2.32zM99.96 57.04h2.32v2.68h-2.32zM101.68 59.12h2.32v2.68h-2.32zM124.04 59.12h2.32v2.68h-2.32zM101.68 61.2h2.32v2.68h-2.32zM120.6 61.2h4.04v2.68h-4.04zM103.4 63.28h2.32v2.68h-2.32zM118.88 63.28h2.32v2.68h-2.32zM103.4 65.36h4.04v2.68h-4.04zM115.44 65.36h4.04v2.68h-4.04zM103.4 67.44h5.76v2.68h-5.76zM113.72 67.44h4.04v2.68h-4.04zM103.4 69.52h14.36v2.68h-14.36zM105.12 71.6h9.2v2.68h-9.2zM106.84 73.68h7.48v2.68h-7.48z"/>
<path fill="#0cb3d3" d="M103.4 34.16h16.08v2.68h-16.08zM101.68 36.24h4.04v2.68h-4.04zM31.16 38.32h10.92v2.68h-10.92zM99.96 38.32h4.04v2.68h-4.04zM29.44 40.4h28.12v2.68h-28.12zM96.52 40.4h4.04v2.68h-4.04zM32.88 42.48h14.36v2.68h-14.36zM67.28 42.48h29.84v2.68h-29.84zM39.76 44.56h10.92v2.68h-10.92zM50.08 46.64h14.36v2.68h-14.36zM86.2 48.72h9.2v2.68h-9.2zM96.52 50.8h2.32v2.68h-2.32zM98.24 52.88h2.32v2.68h-2.32zM99.96 54.96h2.32v2.68h-2.32zM101.68 57.04h2.32v2.68h-2.32zM125.76 57.04h2.32v2.68h-2.32zM103.4 59.12h2.32v2.68h-2.32zM122.32 59.12h2.32v2.68h-2.32zM103.4 61.2h4.04v2.68h-4.04zM118.88 61.2h2.32v2.68h-2.32zM105.12 63.28h5.76v2.68h-5.76zM115.44 63.28h4.04v2.68h-4.04zM106.84 65.36h9.2v2.68h-9.2zM108.56 67.44h5.76v2.68h-5.76z"/>
<path fill="#02b7cb" d="M105.12 36.24h19.52v2.68h-19.52zM103.4 38.32h2.32v2.68h-2.32zM99.96 40.4h4.04v2.68h-4.04zM46.64 42.48h21.24v2.68h-21.24zM96.52 42.48h4.04v2.68h-4.04zM50.08 44.56h47.04v2.68h-47.04zM63.84 46.64h33.28v2.68h-33.28zM94.8 48.72h4.04v2.68h-4.04zM98.24 50.8h2.32v2.68h-2.32zM99.96 52.88h2.32v2.68h-2.32zM129.2 52.88h2.32v2.68h-2.32zM101.68 54.96h2.32v2.68h-2.32zM103.4 57.04h2.32v2.68h-2.32zM124.04 57.04h2.32v2.68h-2.32zM105.12 59.12h2.32v2.68h-2.32zM118.88 59.12h4.04v2.68h-4.04zM106.84 61.2h4.04v2.68h-4.04zM115.44 61.2h4.04v2.68h-4.04zM110.28 63.28h5.76v2.68h-5.76z"/>
<path fill="#03bbc2" d="M105.12 38.32h5.76v2.68h-5.76zM125.76 38.32h2.32v2.68h-2.32zM103.4 40.4h2.32v2.68h-2.32zM99.96 42.48h4.04v2.68h-4.04zM96.52 44.56h4.04v2.68h-4.04zM96.52 46.64h4.04v2.68h-4.04zM98.24 48.72h2.32v2.68h-2.32zM99.96 50.8h2.32v2.68h-2.32zM129.2 50.8h2.32v2.68h-2.32zM101.68 52.88h2.32v2.68h-2.32zM103.4 54.96h2.32v2.68h-2.32zM125.76 54.96h2.32v2.68h-2.32zM105.12 57.04h2.32v2.68h-2.32zM120.6 57.04h4.04v2.68h-4.04zM106.84 59.12h2.32v2.68h-2.32zM117.16 59.12h2.32v2.68h-2.32zM110.28 61.2h5.76v2.68h-5.76z"/>
<path fill="#12beb9" d="M110.28 38.32h16.08v2.68h-16.08zM105.12 40.4h4.04v2.68h-4.04zM103.4 42.48h2.32v2.68h-2.32zM99.96 44.56h4.04v2.68h-4.04zM99.96 46.64h2.32v2.68h-2.32zM99.96 48.72h2.32v2.68h-2.32zM101.68 50.8h2.32v2.68h-2.32zM103.4 52.88h2.32v2.68h-2.32zM127.48 52.88h2.32v2.68h-2.32zM105.12 54.96h2.32v2.68h-2.32zM124.04 54.96h2.32v2.68h-2.32zM106.84 57.04h2.32v2.68h-2.32zM118.88 57.04h2.32v2.68h-2.32zM108.56 59.12h9.2v2.68h-9.2z"/>
<path fill="#22c1b0" d="M108.56 40.4h9.2v2.68h-9.2zM105.12 42.48h4.04v2.68h-4.04zM103.4 44.56h2.32v2.68h-2.32zM101.68 46.64h4.04v2.68h-4.04zM129.2 46.64h2.32v2.68h-2.32zM101.68 48.72h4.04v2.68h-4.04zM129.2 48.72h2.32v2.68h-2.32zM103.4 50.8h2.32v2.68h-2.32zM105.12 52.88h2.32v2.68h-2.32zM106.84 54.96h2.32v2.68h-2.32zM122.32 54.96h2.32v2.68h-2.32zM108.56 57.04h4.04v2.68h-4.04zM113.72 57.04h5.76v2.68h-5.76z"/>
<path fill="#2cc4a6" d="M117.16 40.4h4.04v2.68h-4.04zM125.76 40.4h2.32v2.68h-2.32zM108.56 42.48h4.04v2.68h-4.04zM105.12 44.56h4.04v2.68h-4.04zM105.12 46.64h2.32v2.68h-2.32zM105.12 48.72h2.32v2.68h-2.32zM105.12 50.8h2.32v2.68h-2.32zM127.48 50.8h2.32v2.68h-2.32zM106.84 52.88h2.32v2.68h-2.32zM125.76 52.88h2.32v2.68h-2.32zM108.56 54.96h2.32v2.68h-2.32zM115.44 54.96h7.48v2.68h-7.48zM112 57.04h2.32v2.68h-2.32z"/>
<path fill="#34c79c" d="M120.6 40.4h5.76v2.68h-5.76zM112 42.48h7.48v2.68h-7.48zM108.56 44.56h4.04v2.68h-4.04zM106.84 46.64h2.32v2.68h-2.32zM106.84 48.72h2.32v2.68h-2.32zM106.84 50.8h2.32v2.68h-2.32zM108.56 52.88h2.32v2.68h-2.32zM117.16 52.88h4.04v2.68h-4.04zM124.04 52.88h2.32v2.68h-2.32zM110.28 54.96h5.76v2.68h-5.76z"/>
<path fill="#3dc990" d="M118.88 42.48h2.32v2.68h-2.32zM112 44.56h5.76v2.68h-5.76zM127.48 44.56h2.32v2.68h-2.32zM108.56 46.64h7.48v2.68h-7.48zM127.48 46.64h2.32v2.68h-2.32zM108.56 48.72h5.76v2.68h-5.76zM127.48 48.72h2.32v2.68h-2.32zM108.56 50.8h10.92v2.68h-10.92zM125.76 50.8h2.32v2.68h-2.32zM110.28 52.88h7.48v2.68h-7.48zM120.6 52.88h4.04v2.68h-4.04z"/>
<path fill="#4bcb84" d="M120.6 42.48h2.32v2.68h-2.32zM125.76 42.48h2.32v2.68h-2.32zM117.16 44.56h2.32v2.68h-2.32zM115.44 46.64h4.04v2.68h-4.04zM113.72 48.72h5.76v2.68h-5.76zM118.88 50.8h4.04v2.68h-4.04z"/>
<path fill="#5ccc76" d="M122.32 42.48h4.04v2.68h-4.04zM118.88 44.56h2.32v2.68h-2.32zM118.88 46.64h2.32v2.68h-2.32zM118.88 48.72h2.32v2.68h-2.32zM125.76 48.72h2.32v2.68h-2.32zM122.32 50.8h4.04v2.68h-4.04z"/>
<path fill="#6dcd67" d="M120.6 44.56h2.32v2.68h-2.32zM125.76 44.56h2.32v2.68h-2.32zM120.6 46.64h2.32v2.68h-2.32zM125.76 46.64h2.32v2.68h-2.32zM120.6 48.72h2.32v2.68h-2.32z"/>
<path fill="#81cc59" d="M122.32 44.56h4.04v2.68h-4.04zM122.32 46.64h2.32v2.68h-2.32zM122.32 48.72h4.04v2.68h-4.04z"/>
<path fill="#94ca4a" d="M124.04 46.64h2.32v2.68h-2.32z"/>
</g>
<use href="#qh" fill="none" stroke="#0a0a0a" stroke-width="0.95" stroke-linejoin="round"/>
<rect x="0" y="0" width="137.2" height="104.2" fill="none" stroke="#999" stroke-width="0.9"/>
<path d="M18.92 104.2v-1.4M18.92 0v1.4M61.92 104.2v-1.4M61.92 0v1.4M104.92 104.2v-1.4M104.92 0v1.4M0 94.02h1.4M137.2 94.02h-1.4M0 73.22h1.4M137.2 73.22h-1.4M0 52.42h1.4M137.2 52.42h-1.4M0 31.62h1.4M137.2 31.62h-1.4M0 10.82h1.4M137.2 10.82h-1.4" stroke="#888" stroke-width="0.8" fill="none"/>
<text x="18.92" y="115.8" class="t" text-anchor="middle">90</text>
<text x="61.92" y="115.8" class="t" text-anchor="middle">95</text>
<text x="104.92" y="115.8" class="t" text-anchor="middle">100</text>
<text x="-3.1" y="97.12" class="t" text-anchor="end">32</text>
<text x="-3.1" y="76.32" class="t" text-anchor="end">34</text>
<text x="-3.1" y="55.52" class="t" text-anchor="end">36</text>
<text x="-3.1" y="34.72" class="t" text-anchor="end">38</text>
<text x="-3.1" y="13.92" class="t" text-anchor="end">40</text>
<text x="10.6" y="12.3" class="p">(d)</text>
<text transform="translate(-16 52.1) rotate(-90)" class="b" text-anchor="middle">Latitude</text>
</g>
<g transform="translate(190.3 141.5)">
<g clip-path="url(#cq)" shape-rendering="crispEdges">
<path fill="#2797eb" d="M88.35 61.2h2.75v3.2h-2.75z"/>
<path fill="#259de7" d="M81.9 27.4h2.75v3.2h-2.75zM86.2 27.4h2.75v3.2h-2.75zM86.2 30h4.9v3.2h-4.9zM81.9 32.6h2.75v3.2h-2.75zM86.2 32.6h7.05v3.2h-7.05zM94.8 32.6h2.75v3.2h-2.75zM88.35 35.2h2.75v3.2h-2.75zM94.8 35.2h2.75v3.2h-2.75zM86.2 56h2.75v3.2h-2.75zM86.2 58.6h2.75v3.2h-2.75zM92.65 58.6h2.75v3.2h-2.75zM86.2 61.2h2.75v3.2h-2.75zM86.2 63.8h7.05v3.2h-7.05zM84.05 66.4h11.35v3.2h-11.35zM86.2 69h2.75v3.2h-2.75zM90.5 69h4.9v3.2h-4.9zM88.35 71.6h2.75v3.2h-2.75z"/>
<path fill="#21a3e3" d="M38.9 24.8h2.75v3.2h-2.75zM49.65 24.8h7.05v3.2h-7.05zM58.25 24.8h2.75v3.2h-2.75zM62.55 24.8h4.9v3.2h-4.9zM26 27.4h2.75v3.2h-2.75zM30.3 27.4h2.75v3.2h-2.75zM34.6 27.4h2.75v3.2h-2.75zM41.05 27.4h2.75v3.2h-2.75zM45.35 27.4h4.9v3.2h-4.9zM69 27.4h2.75v3.2h-2.75zM75.45 27.4h4.9v3.2h-4.9zM84.05 27.4h2.75v3.2h-2.75zM28.15 30h9.2v3.2h-9.2zM60.4 30h2.75v3.2h-2.75zM64.7 30h2.75v3.2h-2.75zM75.45 30h2.75v3.2h-2.75zM79.75 30h7.05v3.2h-7.05zM90.5 30h4.9v3.2h-4.9zM96.95 30h2.75v3.2h-2.75zM36.75 32.6h4.9v3.2h-4.9zM43.2 32.6h2.75v3.2h-2.75zM79.75 32.6h2.75v3.2h-2.75zM84.05 32.6h2.75v3.2h-2.75zM92.65 32.6h2.75v3.2h-2.75zM79.75 35.2h4.9v3.2h-4.9zM86.2 35.2h2.75v3.2h-2.75zM90.5 35.2h4.9v3.2h-4.9zM86.2 37.8h7.05v3.2h-7.05zM34.6 40.4h4.9v3.2h-4.9zM86.2 53.4h4.9v3.2h-4.9zM84.05 56h2.75v3.2h-2.75zM88.35 56h4.9v3.2h-4.9zM84.05 58.6h2.75v3.2h-2.75zM88.35 58.6h4.9v3.2h-4.9zM81.9 61.2h4.9v3.2h-4.9zM90.5 61.2h4.9v3.2h-4.9zM84.05 63.8h2.75v3.2h-2.75zM81.9 69h4.9v3.2h-4.9zM88.35 69h2.75v3.2h-2.75zM84.05 71.6h4.9v3.2h-4.9zM92.65 71.6h2.75v3.2h-2.75z"/>
<path fill="#1da9e0" d="M36.75 24.8h2.75v3.2h-2.75zM43.2 24.8h7.05v3.2h-7.05zM56.1 24.8h2.75v3.2h-2.75zM28.15 27.4h2.75v3.2h-2.75zM32.45 27.4h2.75v3.2h-2.75zM36.75 27.4h4.9v3.2h-4.9zM43.2 27.4h2.75v3.2h-2.75zM49.65 27.4h7.05v3.2h-7.05zM58.25 27.4h11.35v3.2h-11.35zM71.15 27.4h4.9v3.2h-4.9zM79.75 27.4h2.75v3.2h-2.75zM36.75 30h13.5v3.2h-13.5zM51.8 30h2.75v3.2h-2.75zM62.55 30h2.75v3.2h-2.75zM66.85 30h2.75v3.2h-2.75zM73.3 30h2.75v3.2h-2.75zM77.6 30h2.75v3.2h-2.75zM94.8 30h2.75v3.2h-2.75zM101.25 30h2.75v3.2h-2.75zM30.3 32.6h7.05v3.2h-7.05zM41.05 32.6h2.75v3.2h-2.75zM47.5 32.6h7.05v3.2h-7.05zM58.25 32.6h4.9v3.2h-4.9zM66.85 32.6h2.75v3.2h-2.75zM73.3 32.6h7.05v3.2h-7.05zM96.95 32.6h2.75v3.2h-2.75zM30.3 35.2h19.95v3.2h-19.95zM51.8 35.2h2.75v3.2h-2.75zM69 35.2h2.75v3.2h-2.75zM75.45 35.2h4.9v3.2h-4.9zM84.05 35.2h2.75v3.2h-2.75zM96.95 35.2h2.75v3.2h-2.75zM34.6 37.8h9.2v3.2h-9.2zM45.35 37.8h4.9v3.2h-4.9zM79.75 37.8h7.05v3.2h-7.05zM92.65 37.8h4.9v3.2h-4.9zM38.9 40.4h4.9v3.2h-4.9zM81.9 40.4h4.9v3.2h-4.9zM90.5 40.4h2.75v3.2h-2.75zM94.8 40.4h2.75v3.2h-2.75zM41.05 43h2.75v3.2h-2.75zM45.35 43h2.75v3.2h-2.75zM90.5 43h2.75v3.2h-2.75zM41.05 45.6h4.9v3.2h-4.9zM90.5 45.6h2.75v3.2h-2.75zM38.9 48.2h4.9v3.2h-4.9zM88.35 48.2h2.75v3.2h-2.75zM88.35 50.8h2.75v3.2h-2.75zM92.65 50.8h2.75v3.2h-2.75zM81.9 53.4h2.75v3.2h-2.75zM90.5 53.4h4.9v3.2h-4.9zM45.35 56h2.75v3.2h-2.75zM81.9 56h2.75v3.2h-2.75zM92.65 56h2.75v3.2h-2.75zM79.75 58.6h4.9v3.2h-4.9zM94.8 58.6h2.75v3.2h-2.75zM79.75 61.2h2.75v3.2h-2.75zM94.8 61.2h2.75v3.2h-2.75zM79.75 63.8h4.9v3.2h-4.9zM92.65 63.8h4.9v3.2h-4.9zM51.8 66.4h2.75v3.2h-2.75zM79.75 66.4h4.9v3.2h-4.9zM94.8 66.4h2.75v3.2h-2.75zM94.8 69h2.75v3.2h-2.75zM79.75 71.6h4.9v3.2h-4.9zM90.5 71.6h2.75v3.2h-2.75zM94.8 71.6h2.75v3.2h-2.75zM81.9 74.2h2.75v3.2h-2.75zM94.8 74.2h2.75v3.2h-2.75zM79.75 76.8h4.9v3.2h-4.9zM92.65 76.8h2.75v3.2h-2.75z"/>
<path fill="#17aeda" d="M41.05 24.8h2.75v3.2h-2.75zM60.4 24.8h2.75v3.2h-2.75zM56.1 27.4h2.75v3.2h-2.75zM49.65 30h2.75v3.2h-2.75zM53.95 30h7.05v3.2h-7.05zM69 30h4.9v3.2h-4.9zM99.1 30h2.75v3.2h-2.75zM45.35 32.6h2.75v3.2h-2.75zM53.95 32.6h4.9v3.2h-4.9zM62.55 32.6h4.9v3.2h-4.9zM69 32.6h4.9v3.2h-4.9zM99.1 32.6h4.9v3.2h-4.9zM49.65 35.2h2.75v3.2h-2.75zM53.95 35.2h2.75v3.2h-2.75zM58.25 35.2h11.35v3.2h-11.35zM73.3 35.2h2.75v3.2h-2.75zM99.1 35.2h4.9v3.2h-4.9zM32.45 37.8h2.75v3.2h-2.75zM43.2 37.8h2.75v3.2h-2.75zM49.65 37.8h4.9v3.2h-4.9zM56.1 37.8h2.75v3.2h-2.75zM75.45 37.8h4.9v3.2h-4.9zM96.95 37.8h2.75v3.2h-2.75zM43.2 40.4h7.05v3.2h-7.05zM79.75 40.4h2.75v3.2h-2.75zM86.2 40.4h4.9v3.2h-4.9zM92.65 40.4h2.75v3.2h-2.75zM36.75 43h4.9v3.2h-4.9zM43.2 43h2.75v3.2h-2.75zM81.9 43h2.75v3.2h-2.75zM86.2 43h4.9v3.2h-4.9zM92.65 43h2.75v3.2h-2.75zM38.9 45.6h2.75v3.2h-2.75zM45.35 45.6h4.9v3.2h-4.9zM86.2 45.6h4.9v3.2h-4.9zM43.2 48.2h7.05v3.2h-7.05zM84.05 48.2h4.9v3.2h-4.9zM90.5 48.2h7.05v3.2h-7.05zM41.05 50.8h7.05v3.2h-7.05zM81.9 50.8h7.05v3.2h-7.05zM90.5 50.8h2.75v3.2h-2.75zM94.8 50.8h2.75v3.2h-2.75zM43.2 53.4h4.9v3.2h-4.9zM84.05 53.4h2.75v3.2h-2.75zM47.5 56h2.75v3.2h-2.75zM79.75 56h2.75v3.2h-2.75zM94.8 56h2.75v3.2h-2.75zM47.5 58.6h2.75v3.2h-2.75zM96.95 58.6h2.75v3.2h-2.75zM77.6 61.2h2.75v3.2h-2.75zM96.95 61.2h2.75v3.2h-2.75zM49.65 63.8h2.75v3.2h-2.75zM77.6 63.8h2.75v3.2h-2.75zM96.95 63.8h2.75v3.2h-2.75zM53.95 66.4h2.75v3.2h-2.75zM96.95 66.4h2.75v3.2h-2.75zM53.95 69h2.75v3.2h-2.75zM79.75 69h2.75v3.2h-2.75zM96.95 69h2.75v3.2h-2.75zM56.1 71.6h2.75v3.2h-2.75zM96.95 71.6h2.75v3.2h-2.75zM79.75 74.2h2.75v3.2h-2.75zM92.65 74.2h2.75v3.2h-2.75zM96.95 74.2h2.75v3.2h-2.75zM77.6 76.8h2.75v3.2h-2.75zM94.8 76.8h4.9v3.2h-4.9zM81.9 79.4h2.75v3.2h-2.75zM94.8 79.4h7.05v3.2h-7.05zM81.9 82h2.75v3.2h-2.75zM96.95 82h4.9v3.2h-4.9zM103.4 82h2.75v3.2h-2.75zM81.9 84.6h2.75v3.2h-2.75zM105.55 84.6h2.75v3.2h-2.75zM107.7 87.2h2.75v3.2h-2.75z"/>
<path fill="#0cb3d3" d="M103.4 32.6h2.75v3.2h-2.75zM56.1 35.2h2.75v3.2h-2.75zM71.15 35.2h2.75v3.2h-2.75zM53.95 37.8h2.75v3.2h-2.75zM58.25 37.8h7.05v3.2h-7.05zM66.85 37.8h2.75v3.2h-2.75zM73.3 37.8h2.75v3.2h-2.75zM99.1 37.8h2.75v3.2h-2.75zM49.65 40.4h4.9v3.2h-4.9zM96.95 40.4h4.9v3.2h-4.9zM47.5 43h4.9v3.2h-4.9zM84.05 43h2.75v3.2h-2.75zM94.8 43h4.9v3.2h-4.9zM49.65 45.6h2.75v3.2h-2.75zM84.05 45.6h2.75v3.2h-2.75zM92.65 45.6h7.05v3.2h-7.05zM49.65 48.2h2.75v3.2h-2.75zM81.9 48.2h2.75v3.2h-2.75zM49.65 50.8h2.75v3.2h-2.75zM96.95 50.8h2.75v3.2h-2.75zM47.5 53.4h2.75v3.2h-2.75zM51.8 53.4h2.75v3.2h-2.75zM77.6 53.4h4.9v3.2h-4.9zM94.8 53.4h4.9v3.2h-4.9zM49.65 56h4.9v3.2h-4.9zM77.6 56h2.75v3.2h-2.75zM96.95 56h2.75v3.2h-2.75zM49.65 58.6h4.9v3.2h-4.9zM77.6 58.6h2.75v3.2h-2.75zM49.65 61.2h9.2v3.2h-9.2zM75.45 61.2h2.75v3.2h-2.75zM51.8 63.8h9.2v3.2h-9.2zM56.1 66.4h2.75v3.2h-2.75zM77.6 66.4h2.75v3.2h-2.75zM99.1 66.4h2.75v3.2h-2.75zM56.1 69h2.75v3.2h-2.75zM77.6 69h2.75v3.2h-2.75zM99.1 69h2.75v3.2h-2.75zM77.6 71.6h2.75v3.2h-2.75zM99.1 71.6h2.75v3.2h-2.75zM77.6 74.2h2.75v3.2h-2.75zM99.1 74.2h4.9v3.2h-4.9zM99.1 76.8h4.9v3.2h-4.9zM79.75 79.4h2.75v3.2h-2.75zM103.4 79.4h4.9v3.2h-4.9zM79.75 82h2.75v3.2h-2.75zM101.25 82h2.75v3.2h-2.75zM105.55 82h2.75v3.2h-2.75zM107.7 84.6h2.75v3.2h-2.75z"/>
<path fill="#02b7cb" d="M103.4 30h9.2v3.2h-9.2zM105.55 32.6h4.9v3.2h-4.9zM103.4 35.2h2.75v3.2h-2.75zM64.7 37.8h2.75v3.2h-2.75zM69 37.8h4.9v3.2h-4.9zM101.25 37.8h2.75v3.2h-2.75zM53.95 40.4h4.9v3.2h-4.9zM66.85 40.4h4.9v3.2h-4.9zM77.6 40.4h2.75v3.2h-2.75zM79.75 43h2.75v3.2h-2.75zM99.1 43h2.75v3.2h-2.75zM79.75 45.6h4.9v3.2h-4.9zM99.1 45.6h2.75v3.2h-2.75zM79.75 48.2h2.75v3.2h-2.75zM96.95 48.2h2.75v3.2h-2.75zM47.5 50.8h2.75v3.2h-2.75zM51.8 50.8h2.75v3.2h-2.75zM79.75 50.8h2.75v3.2h-2.75zM49.65 53.4h2.75v3.2h-2.75zM75.45 53.4h2.75v3.2h-2.75zM53.95 56h4.9v3.2h-4.9zM75.45 56h2.75v3.2h-2.75zM53.95 58.6h4.9v3.2h-4.9zM75.45 58.6h2.75v3.2h-2.75zM58.25 61.2h2.75v3.2h-2.75zM73.3 61.2h2.75v3.2h-2.75zM99.1 61.2h2.75v3.2h-2.75zM60.4 63.8h4.9v3.2h-4.9zM75.45 63.8h2.75v3.2h-2.75zM99.1 63.8h2.75v3.2h-2.75zM58.25 66.4h2.75v3.2h-2.75zM75.45 66.4h2.75v3.2h-2.75zM58.25 69h2.75v3.2h-2.75zM73.3 69h4.9v3.2h-4.9zM58.25 71.6h2.75v3.2h-2.75zM75.45 71.6h2.75v3.2h-2.75zM58.25 74.2h2.75v3.2h-2.75zM75.45 74.2h2.75v3.2h-2.75zM58.25 76.8h2.75v3.2h-2.75zM75.45 76.8h2.75v3.2h-2.75zM103.4 76.8h4.9v3.2h-4.9zM60.4 79.4h2.75v3.2h-2.75zM77.6 79.4h2.75v3.2h-2.75zM101.25 79.4h2.75v3.2h-2.75zM107.7 79.4h2.75v3.2h-2.75zM107.7 82h2.75v3.2h-2.75zM77.6 89.8h2.75v3.2h-2.75zM69 92.4h4.9v3.2h-4.9z"/>
<path fill="#03bbc2" d="M109.85 32.6h2.75v3.2h-2.75zM105.55 35.2h2.75v3.2h-2.75zM103.4 37.8h4.9v3.2h-4.9zM62.55 40.4h4.9v3.2h-4.9zM71.15 40.4h2.75v3.2h-2.75zM101.25 40.4h4.9v3.2h-4.9zM51.8 43h4.9v3.2h-4.9zM64.7 43h2.75v3.2h-2.75zM51.8 45.6h2.75v3.2h-2.75zM51.8 48.2h2.75v3.2h-2.75zM77.6 48.2h2.75v3.2h-2.75zM99.1 48.2h2.75v3.2h-2.75zM53.95 50.8h2.75v3.2h-2.75zM77.6 50.8h2.75v3.2h-2.75zM99.1 50.8h2.75v3.2h-2.75zM53.95 53.4h4.9v3.2h-4.9zM66.85 53.4h2.75v3.2h-2.75zM73.3 53.4h2.75v3.2h-2.75zM99.1 53.4h2.75v3.2h-2.75zM62.55 56h2.75v3.2h-2.75zM66.85 56h9.2v3.2h-9.2zM99.1 56h2.75v3.2h-2.75zM58.25 58.6h7.05v3.2h-7.05zM69 58.6h2.75v3.2h-2.75zM73.3 58.6h2.75v3.2h-2.75zM99.1 58.6h2.75v3.2h-2.75zM60.4 61.2h4.9v3.2h-4.9zM71.15 61.2h2.75v3.2h-2.75zM71.15 63.8h4.9v3.2h-4.9zM101.25 63.8h2.75v3.2h-2.75zM60.4 66.4h7.05v3.2h-7.05zM73.3 66.4h2.75v3.2h-2.75zM101.25 66.4h2.75v3.2h-2.75zM60.4 69h2.75v3.2h-2.75zM101.25 69h2.75v3.2h-2.75zM60.4 71.6h4.9v3.2h-4.9zM73.3 71.6h2.75v3.2h-2.75zM101.25 71.6h4.9v3.2h-4.9zM60.4 74.2h4.9v3.2h-4.9zM73.3 74.2h2.75v3.2h-2.75zM103.4 74.2h7.05v3.2h-7.05zM60.4 76.8h2.75v3.2h-2.75zM107.7 76.8h4.9v3.2h-4.9zM116.3 76.8h2.75v3.2h-2.75zM62.55 82h2.75v3.2h-2.75zM79.75 84.6h2.75v3.2h-2.75zM79.75 87.2h2.75v3.2h-2.75zM66.85 89.8h2.75v3.2h-2.75zM73.3 92.4h2.75v3.2h-2.75z"/>
<path fill="#12beb9" d="M112 32.6h4.9v3.2h-4.9zM107.7 35.2h2.75v3.2h-2.75zM112 35.2h2.75v3.2h-2.75zM107.7 37.8h2.75v3.2h-2.75zM122.75 37.8h2.75v3.2h-2.75zM58.25 40.4h4.9v3.2h-4.9zM75.45 40.4h2.75v3.2h-2.75zM62.55 43h2.75v3.2h-2.75zM66.85 43h2.75v3.2h-2.75zM77.6 43h2.75v3.2h-2.75zM101.25 43h2.75v3.2h-2.75zM53.95 45.6h2.75v3.2h-2.75zM66.85 45.6h4.9v3.2h-4.9zM101.25 45.6h2.75v3.2h-2.75zM66.85 48.2h4.9v3.2h-4.9zM101.25 48.2h2.75v3.2h-2.75zM62.55 50.8h7.05v3.2h-7.05zM71.15 50.8h2.75v3.2h-2.75zM75.45 50.8h2.75v3.2h-2.75zM101.25 50.8h2.75v3.2h-2.75zM58.25 53.4h7.05v3.2h-7.05zM71.15 53.4h2.75v3.2h-2.75zM101.25 53.4h2.75v3.2h-2.75zM58.25 56h4.9v3.2h-4.9zM64.7 56h2.75v3.2h-2.75zM64.7 58.6h4.9v3.2h-4.9zM71.15 58.6h2.75v3.2h-2.75zM64.7 61.2h7.05v3.2h-7.05zM101.25 61.2h2.75v3.2h-2.75zM64.7 63.8h2.75v3.2h-2.75zM69 66.4h4.9v3.2h-4.9zM103.4 66.4h2.75v3.2h-2.75zM69 69h2.75v3.2h-2.75zM103.4 69h2.75v3.2h-2.75zM69 71.6h4.9v3.2h-4.9zM105.55 71.6h2.75v3.2h-2.75zM109.85 74.2h2.75v3.2h-2.75zM62.55 76.8h2.75v3.2h-2.75zM71.15 76.8h4.9v3.2h-4.9zM112 76.8h4.9v3.2h-4.9zM62.55 79.4h2.75v3.2h-2.75zM75.45 79.4h2.75v3.2h-2.75zM64.7 82h2.75v3.2h-2.75zM64.7 84.6h2.75v3.2h-2.75zM69 89.8h2.75v3.2h-2.75z"/>
<path fill="#22c1b0" d="M109.85 35.2h2.75v3.2h-2.75zM116.3 35.2h7.05v3.2h-7.05zM109.85 37.8h2.75v3.2h-2.75zM73.3 40.4h2.75v3.2h-2.75zM124.9 40.4h2.75v3.2h-2.75zM69 43h2.75v3.2h-2.75zM103.4 43h2.75v3.2h-2.75zM64.7 45.6h2.75v3.2h-2.75zM77.6 45.6h2.75v3.2h-2.75zM53.95 48.2h2.75v3.2h-2.75zM62.55 48.2h4.9v3.2h-4.9zM71.15 48.2h2.75v3.2h-2.75zM56.1 50.8h2.75v3.2h-2.75zM69 50.8h2.75v3.2h-2.75zM73.3 50.8h2.75v3.2h-2.75zM64.7 53.4h2.75v3.2h-2.75zM69 53.4h2.75v3.2h-2.75zM101.25 56h2.75v3.2h-2.75zM101.25 58.6h2.75v3.2h-2.75zM66.85 63.8h4.9v3.2h-4.9zM66.85 66.4h2.75v3.2h-2.75zM62.55 69h4.9v3.2h-4.9zM71.15 69h2.75v3.2h-2.75zM105.55 69h2.75v3.2h-2.75zM116.3 69h4.9v3.2h-4.9zM64.7 71.6h4.9v3.2h-4.9zM107.7 71.6h4.9v3.2h-4.9zM69 74.2h4.9v3.2h-4.9zM112 74.2h4.9v3.2h-4.9zM64.7 76.8h2.75v3.2h-2.75zM64.7 79.4h11.35v3.2h-11.35zM66.85 82h2.75v3.2h-2.75zM77.6 82h2.75v3.2h-2.75zM66.85 87.2h2.75v3.2h-2.75zM71.15 89.8h2.75v3.2h-2.75zM75.45 89.8h2.75v3.2h-2.75z"/>
<path fill="#2cc4a6" d="M114.15 35.2h2.75v3.2h-2.75zM112 37.8h2.75v3.2h-2.75zM118.45 37.8h2.75v3.2h-2.75zM105.55 40.4h4.9v3.2h-4.9zM60.4 43h2.75v3.2h-2.75zM71.15 43h2.75v3.2h-2.75zM103.4 45.6h2.75v3.2h-2.75zM127.05 45.6h2.75v3.2h-2.75zM56.1 48.2h2.75v3.2h-2.75zM73.3 48.2h4.9v3.2h-4.9zM58.25 50.8h4.9v3.2h-4.9zM103.4 63.8h2.75v3.2h-2.75zM105.55 66.4h2.75v3.2h-2.75zM116.3 66.4h4.9v3.2h-4.9zM66.85 69h2.75v3.2h-2.75zM109.85 69h2.75v3.2h-2.75zM64.7 74.2h4.9v3.2h-4.9zM66.85 76.8h4.9v3.2h-4.9zM69 82h2.75v3.2h-2.75zM77.6 84.6h2.75v3.2h-2.75zM77.6 87.2h2.75v3.2h-2.75zM73.3 89.8h2.75v3.2h-2.75z"/>
<path fill="#34c79c" d="M114.15 37.8h4.9v3.2h-4.9zM120.6 37.8h2.75v3.2h-2.75zM109.85 40.4h2.75v3.2h-2.75zM56.1 43h4.9v3.2h-4.9zM73.3 43h4.9v3.2h-4.9zM105.55 43h4.9v3.2h-4.9zM124.9 43h2.75v3.2h-2.75zM62.55 45.6h2.75v3.2h-2.75zM71.15 45.6h2.75v3.2h-2.75zM105.55 45.6h2.75v3.2h-2.75zM60.4 48.2h2.75v3.2h-2.75zM103.4 48.2h2.75v3.2h-2.75zM127.05 48.2h2.75v3.2h-2.75zM127.05 50.8h2.75v3.2h-2.75zM103.4 53.4h2.75v3.2h-2.75zM103.4 61.2h2.75v3.2h-2.75zM118.45 63.8h2.75v3.2h-2.75zM114.15 66.4h2.75v3.2h-2.75zM107.7 69h2.75v3.2h-2.75zM73.3 82h4.9v3.2h-4.9zM66.85 84.6h2.75v3.2h-2.75zM69 87.2h2.75v3.2h-2.75z"/>
<path fill="#3dc990" d="M112 40.4h9.2v3.2h-9.2zM122.75 40.4h2.75v3.2h-2.75zM109.85 43h2.75v3.2h-2.75zM114.15 43h2.75v3.2h-2.75zM56.1 45.6h2.75v3.2h-2.75zM75.45 45.6h2.75v3.2h-2.75zM107.7 45.6h2.75v3.2h-2.75zM58.25 48.2h2.75v3.2h-2.75zM105.55 48.2h2.75v3.2h-2.75zM103.4 50.8h2.75v3.2h-2.75zM103.4 56h2.75v3.2h-2.75zM103.4 58.6h2.75v3.2h-2.75zM118.45 61.2h2.75v3.2h-2.75zM105.55 63.8h2.75v3.2h-2.75zM116.3 63.8h2.75v3.2h-2.75zM107.7 66.4h2.75v3.2h-2.75zM71.15 82h2.75v3.2h-2.75z"/>
<path fill="#4bcb84" d="M120.6 40.4h2.75v3.2h-2.75zM112 43h2.75v3.2h-2.75zM60.4 45.6h2.75v3.2h-2.75zM73.3 45.6h2.75v3.2h-2.75zM122.75 58.6h2.75v3.2h-2.75zM105.55 61.2h2.75v3.2h-2.75zM116.3 61.2h2.75v3.2h-2.75zM107.7 63.8h2.75v3.2h-2.75zM114.15 63.8h2.75v3.2h-2.75zM109.85 66.4h4.9v3.2h-4.9zM69 84.6h2.75v3.2h-2.75zM75.45 84.6h2.75v3.2h-2.75zM73.3 87.2h4.9v3.2h-4.9z"/>
<path fill="#5ccc76" d="M58.25 45.6h2.75v3.2h-2.75zM109.85 45.6h2.75v3.2h-2.75zM124.9 45.6h2.75v3.2h-2.75zM107.7 48.2h2.75v3.2h-2.75zM118.45 58.6h2.75v3.2h-2.75zM114.15 61.2h2.75v3.2h-2.75zM109.85 63.8h4.9v3.2h-4.9zM71.15 84.6h4.9v3.2h-4.9zM71.15 87.2h2.75v3.2h-2.75z"/>
<path fill="#6dcd67" d="M116.3 43h4.9v3.2h-4.9zM122.75 43h2.75v3.2h-2.75zM112 45.6h2.75v3.2h-2.75zM105.55 50.8h2.75v3.2h-2.75zM105.55 53.4h2.75v3.2h-2.75zM116.3 58.6h2.75v3.2h-2.75zM120.6 58.6h2.75v3.2h-2.75z"/>
<path fill="#81cc59" d="M120.6 43h2.75v3.2h-2.75zM114.15 45.6h2.75v3.2h-2.75zM109.85 48.2h7.05v3.2h-7.05zM124.9 48.2h2.75v3.2h-2.75zM124.9 50.8h2.75v3.2h-2.75zM124.9 53.4h2.75v3.2h-2.75zM105.55 56h2.75v3.2h-2.75zM116.3 56h2.75v3.2h-2.75zM122.75 56h2.75v3.2h-2.75zM105.55 58.6h2.75v3.2h-2.75zM114.15 58.6h2.75v3.2h-2.75zM107.7 61.2h2.75v3.2h-2.75zM112 61.2h2.75v3.2h-2.75z"/>
<path fill="#94ca4a" d="M116.3 45.6h2.75v3.2h-2.75zM107.7 50.8h2.75v3.2h-2.75zM112 50.8h2.75v3.2h-2.75zM114.15 56h2.75v3.2h-2.75zM112 58.6h2.75v3.2h-2.75zM109.85 61.2h2.75v3.2h-2.75z"/>
<path fill="#a6c83c" d="M122.75 45.6h2.75v3.2h-2.75zM109.85 50.8h2.75v3.2h-2.75zM114.15 50.8h2.75v3.2h-2.75zM107.7 53.4h2.75v3.2h-2.75zM112 53.4h7.05v3.2h-7.05zM107.7 56h2.75v3.2h-2.75zM112 56h2.75v3.2h-2.75zM118.45 56h4.9v3.2h-4.9zM107.7 58.6h2.75v3.2h-2.75z"/>
<path fill="#b8c431" d="M116.3 50.8h2.75v3.2h-2.75zM109.85 53.4h2.75v3.2h-2.75zM109.85 56h2.75v3.2h-2.75zM109.85 58.6h2.75v3.2h-2.75z"/>
<path fill="#c8c129" d="M118.45 45.6h4.9v3.2h-4.9zM116.3 48.2h2.75v3.2h-2.75zM122.75 53.4h2.75v3.2h-2.75z"/>
<path fill="#d7be28" d="M118.45 53.4h2.75v3.2h-2.75z"/>
<path fill="#e5bb2d" d="M122.75 48.2h2.75v3.2h-2.75z"/>
<path fill="#f1ba37" d="M118.45 48.2h2.75v3.2h-2.75zM118.45 50.8h2.75v3.2h-2.75zM122.75 50.8h2.75v3.2h-2.75zM120.6 53.4h2.75v3.2h-2.75z"/>
<path fill="#fbbc3d" d="M120.6 48.2h2.75v3.2h-2.75z"/>
<path fill="#feca33" d="M120.6 50.8h2.75v3.2h-2.75z"/>
</g>
<use href="#qh" fill="none" stroke="#0a0a0a" stroke-width="0.95" stroke-linejoin="round"/>
<rect x="0" y="0" width="137.2" height="104.2" fill="none" stroke="#999" stroke-width="0.9"/>
<path d="M18.92 104.2v-1.4M18.92 0v1.4M61.92 104.2v-1.4M61.92 0v1.4M104.92 104.2v-1.4M104.92 0v1.4M0 94.02h1.4M137.2 94.02h-1.4M0 73.22h1.4M137.2 73.22h-1.4M0 52.42h1.4M137.2 52.42h-1.4M0 31.62h1.4M137.2 31.62h-1.4M0 10.82h1.4M137.2 10.82h-1.4" stroke="#888" stroke-width="0.8" fill="none"/>
<text x="18.92" y="115.8" class="t" text-anchor="middle">90</text>
<text x="61.92" y="115.8" class="t" text-anchor="middle">95</text>
<text x="104.92" y="115.8" class="t" text-anchor="middle">100</text>
<text x="-3.1" y="97.12" class="t" text-anchor="end">32</text>
<text x="-3.1" y="76.32" class="t" text-anchor="end">34</text>
<text x="-3.1" y="55.52" class="t" text-anchor="end">36</text>
<text x="-3.1" y="34.72" class="t" text-anchor="end">38</text>
<text x="-3.1" y="13.92" class="t" text-anchor="end">40</text>
<text x="10.6" y="12.3" class="p">(e)</text>
<rect x="142.4" y="11" width="10.8" height="93.8" fill="url(#pg)" stroke="#999" stroke-width="0.4"/>
<text x="157.4" y="108.1" class="t">0</text>
<text x="157.4" y="75.3" class="t">10</text>
<text x="157.4" y="42.51" class="t">20</text>
<text x="150" y="6.4" class="m" text-anchor="middle">(mm)</text>
</g>
<g transform="translate(377.3 141.5)">
<g clip-path="url(#cq)" shape-rendering="crispEdges">
<path fill="#402bb8" d="M122.75 45.6h2.75v3.2h-2.75z"/>
<path fill="#4536d5" d="M122.75 43h2.75v3.2h-2.75zM116.3 50.8h4.9v3.2h-4.9z"/>
<path fill="#463de0" d="M120.6 45.6h2.75v3.2h-2.75zM118.45 53.4h2.75v3.2h-2.75zM118.45 58.6h2.75v3.2h-2.75zM118.45 61.2h2.75v3.2h-2.75z"/>
<path fill="#4744e9" d="M118.45 48.2h2.75v3.2h-2.75zM120.6 50.8h2.75v3.2h-2.75zM116.3 53.4h2.75v3.2h-2.75zM118.45 56h2.75v3.2h-2.75zM120.6 58.6h2.75v3.2h-2.75z"/>
<path fill="#484cef" d="M120.6 43h2.75v3.2h-2.75zM116.3 48.2h2.75v3.2h-2.75zM120.6 48.2h4.9v3.2h-4.9zM116.3 56h2.75v3.2h-2.75zM116.3 58.6h2.75v3.2h-2.75z"/>
<path fill="#4853f5" d="M118.45 45.6h2.75v3.2h-2.75zM114.15 48.2h2.75v3.2h-2.75zM58.25 50.8h4.9v3.2h-4.9zM114.15 50.8h2.75v3.2h-2.75zM58.25 53.4h7.05v3.2h-7.05zM73.3 53.4h2.75v3.2h-2.75zM114.15 53.4h2.75v3.2h-2.75zM120.6 53.4h2.75v3.2h-2.75zM120.6 56h2.75v3.2h-2.75zM105.55 63.8h2.75v3.2h-2.75zM105.55 66.4h4.9v3.2h-4.9z"/>
<path fill="#475bf9" d="M124.9 43h2.75v3.2h-2.75zM124.9 45.6h2.75v3.2h-2.75zM56.1 50.8h2.75v3.2h-2.75zM62.55 50.8h2.75v3.2h-2.75zM71.15 50.8h4.9v3.2h-4.9zM112 50.8h2.75v3.2h-2.75zM71.15 53.4h2.75v3.2h-2.75zM114.15 58.6h2.75v3.2h-2.75zM116.3 61.2h2.75v3.2h-2.75zM118.45 63.8h2.75v3.2h-2.75z"/>
<path fill="#4562fc" d="M122.75 40.4h2.75v3.2h-2.75zM112 45.6h7.05v3.2h-7.05zM73.3 48.2h2.75v3.2h-2.75zM112 48.2h2.75v3.2h-2.75zM64.7 50.8h4.9v3.2h-4.9zM109.85 50.8h2.75v3.2h-2.75zM56.1 53.4h2.75v3.2h-2.75zM64.7 53.4h4.9v3.2h-4.9zM112 53.4h2.75v3.2h-2.75zM60.4 56h2.75v3.2h-2.75zM112 56h4.9v3.2h-4.9zM107.7 63.8h2.75v3.2h-2.75zM103.4 66.4h2.75v3.2h-2.75z"/>
<path fill="#426afe" d="M120.6 40.4h2.75v3.2h-2.75zM114.15 43h7.05v3.2h-7.05zM69 50.8h2.75v3.2h-2.75zM75.45 50.8h2.75v3.2h-2.75zM122.75 50.8h2.75v3.2h-2.75zM53.95 53.4h2.75v3.2h-2.75zM69 53.4h2.75v3.2h-2.75zM75.45 53.4h2.75v3.2h-2.75zM109.85 53.4h2.75v3.2h-2.75zM58.25 56h2.75v3.2h-2.75zM62.55 56h4.9v3.2h-4.9zM71.15 56h4.9v3.2h-4.9zM109.85 56h2.75v3.2h-2.75zM109.85 58.6h4.9v3.2h-4.9zM122.75 58.6h2.75v3.2h-2.75zM105.55 61.2h2.75v3.2h-2.75zM114.15 61.2h2.75v3.2h-2.75zM103.4 63.8h2.75v3.2h-2.75zM105.55 69h4.9v3.2h-4.9zM73.3 84.6h2.75v3.2h-2.75z"/>
<path fill="#3c72ff" d="M116.3 40.4h2.75v3.2h-2.75zM112 43h2.75v3.2h-2.75zM109.85 45.6h2.75v3.2h-2.75zM58.25 48.2h9.2v3.2h-9.2zM71.15 48.2h2.75v3.2h-2.75zM107.7 48.2h4.9v3.2h-4.9zM124.9 48.2h2.75v3.2h-2.75zM53.95 50.8h2.75v3.2h-2.75zM107.7 50.8h2.75v3.2h-2.75zM107.7 53.4h2.75v3.2h-2.75zM122.75 53.4h2.75v3.2h-2.75zM66.85 56h4.9v3.2h-4.9zM107.7 58.6h2.75v3.2h-2.75zM107.7 61.2h7.05v3.2h-7.05zM109.85 63.8h4.9v3.2h-4.9zM116.3 63.8h2.75v3.2h-2.75zM109.85 66.4h2.75v3.2h-2.75z"/>
<path fill="#347afd" d="M112 40.4h4.9v3.2h-4.9zM118.45 40.4h2.75v3.2h-2.75zM109.85 43h2.75v3.2h-2.75zM56.1 48.2h2.75v3.2h-2.75zM66.85 48.2h4.9v3.2h-4.9zM51.8 50.8h2.75v3.2h-2.75zM51.8 53.4h2.75v3.2h-2.75zM105.55 53.4h2.75v3.2h-2.75zM53.95 56h4.9v3.2h-4.9zM75.45 56h2.75v3.2h-2.75zM105.55 56h4.9v3.2h-4.9zM122.75 56h2.75v3.2h-2.75zM62.55 58.6h2.75v3.2h-2.75zM105.55 58.6h2.75v3.2h-2.75zM103.4 61.2h2.75v3.2h-2.75zM114.15 63.8h2.75v3.2h-2.75zM112 66.4h4.9v3.2h-4.9zM103.4 69h2.75v3.2h-2.75zM109.85 69h2.75v3.2h-2.75zM73.3 82h2.75v3.2h-2.75zM71.15 84.6h2.75v3.2h-2.75zM75.45 84.6h2.75v3.2h-2.75zM71.15 87.2h4.9v3.2h-4.9z"/>
<path fill="#2f82fa" d="M116.3 35.2h2.75v3.2h-2.75zM112 37.8h7.05v3.2h-7.05zM109.85 40.4h2.75v3.2h-2.75zM124.9 40.4h2.75v3.2h-2.75zM107.7 43h2.75v3.2h-2.75zM107.7 45.6h2.75v3.2h-2.75zM75.45 48.2h2.75v3.2h-2.75zM105.55 48.2h2.75v3.2h-2.75zM105.55 50.8h2.75v3.2h-2.75zM77.6 53.4h2.75v3.2h-2.75zM124.9 53.4h2.75v3.2h-2.75zM103.4 56h2.75v3.2h-2.75zM56.1 58.6h2.75v3.2h-2.75zM60.4 58.6h2.75v3.2h-2.75zM64.7 58.6h11.35v3.2h-11.35zM64.7 61.2h4.9v3.2h-4.9zM60.4 66.4h4.9v3.2h-4.9zM66.85 66.4h2.75v3.2h-2.75zM101.25 66.4h2.75v3.2h-2.75zM116.3 66.4h4.9v3.2h-4.9zM62.55 69h2.75v3.2h-2.75zM69 69h2.75v3.2h-2.75zM60.4 71.6h4.9v3.2h-4.9zM66.85 71.6h2.75v3.2h-2.75zM105.55 71.6h2.75v3.2h-2.75zM109.85 71.6h2.75v3.2h-2.75zM62.55 74.2h4.9v3.2h-4.9zM69 74.2h2.75v3.2h-2.75zM64.7 76.8h4.9v3.2h-4.9zM62.55 79.4h2.75v3.2h-2.75zM66.85 79.4h2.75v3.2h-2.75zM69 82h4.9v3.2h-4.9zM66.85 84.6h4.9v3.2h-4.9zM69 87.2h2.75v3.2h-2.75zM75.45 87.2h2.75v3.2h-2.75z"/>
<path fill="#2d89f5" d="M103.4 30h2.75v3.2h-2.75zM107.7 30h4.9v3.2h-4.9zM109.85 32.6h7.05v3.2h-7.05zM114.15 35.2h2.75v3.2h-2.75zM120.6 35.2h2.75v3.2h-2.75zM109.85 37.8h2.75v3.2h-2.75zM118.45 37.8h2.75v3.2h-2.75zM122.75 37.8h2.75v3.2h-2.75zM107.7 40.4h2.75v3.2h-2.75zM71.15 45.6h2.75v3.2h-2.75zM127.05 45.6h2.75v3.2h-2.75zM53.95 48.2h2.75v3.2h-2.75zM77.6 50.8h2.75v3.2h-2.75zM103.4 50.8h2.75v3.2h-2.75zM124.9 50.8h2.75v3.2h-2.75zM103.4 53.4h2.75v3.2h-2.75zM51.8 56h2.75v3.2h-2.75zM53.95 58.6h2.75v3.2h-2.75zM58.25 58.6h2.75v3.2h-2.75zM75.45 58.6h2.75v3.2h-2.75zM103.4 58.6h2.75v3.2h-2.75zM56.1 61.2h7.05v3.2h-7.05zM69 61.2h4.9v3.2h-4.9zM62.55 63.8h4.9v3.2h-4.9zM58.25 66.4h2.75v3.2h-2.75zM64.7 66.4h2.75v3.2h-2.75zM71.15 66.4h2.75v3.2h-2.75zM58.25 69h4.9v3.2h-4.9zM64.7 69h4.9v3.2h-4.9zM71.15 69h2.75v3.2h-2.75zM116.3 69h4.9v3.2h-4.9zM64.7 71.6h2.75v3.2h-2.75zM69 71.6h4.9v3.2h-4.9zM103.4 71.6h2.75v3.2h-2.75zM107.7 71.6h2.75v3.2h-2.75zM58.25 74.2h4.9v3.2h-4.9zM66.85 74.2h2.75v3.2h-2.75zM71.15 74.2h2.75v3.2h-2.75zM60.4 76.8h4.9v3.2h-4.9zM69 76.8h7.05v3.2h-7.05zM64.7 79.4h2.75v3.2h-2.75zM69 79.4h7.05v3.2h-7.05zM62.55 82h2.75v3.2h-2.75zM77.6 84.6h2.75v3.2h-2.75zM77.6 87.2h2.75v3.2h-2.75zM73.3 89.8h2.75v3.2h-2.75z"/>
<path fill="#2c90f0" d="M99.1 30h4.9v3.2h-4.9zM105.55 30h2.75v3.2h-2.75zM107.7 32.6h2.75v3.2h-2.75zM109.85 35.2h4.9v3.2h-4.9zM118.45 35.2h2.75v3.2h-2.75zM120.6 37.8h2.75v3.2h-2.75zM69 45.6h2.75v3.2h-2.75zM105.55 45.6h2.75v3.2h-2.75zM51.8 48.2h2.75v3.2h-2.75zM103.4 48.2h2.75v3.2h-2.75zM127.05 48.2h2.75v3.2h-2.75zM49.65 50.8h2.75v3.2h-2.75zM49.65 53.4h2.75v3.2h-2.75zM47.5 56h4.9v3.2h-4.9zM77.6 56h2.75v3.2h-2.75zM51.8 61.2h2.75v3.2h-2.75zM62.55 61.2h2.75v3.2h-2.75zM73.3 61.2h2.75v3.2h-2.75zM101.25 61.2h2.75v3.2h-2.75zM56.1 63.8h7.05v3.2h-7.05zM66.85 63.8h7.05v3.2h-7.05zM75.45 63.8h2.75v3.2h-2.75zM101.25 63.8h2.75v3.2h-2.75zM53.95 66.4h4.9v3.2h-4.9zM69 66.4h2.75v3.2h-2.75zM53.95 69h4.9v3.2h-4.9zM73.3 69h4.9v3.2h-4.9zM101.25 69h2.75v3.2h-2.75zM56.1 71.6h4.9v3.2h-4.9zM73.3 71.6h4.9v3.2h-4.9zM101.25 71.6h2.75v3.2h-2.75zM73.3 74.2h2.75v3.2h-2.75zM112 74.2h2.75v3.2h-2.75zM112 76.8h2.75v3.2h-2.75zM60.4 79.4h2.75v3.2h-2.75zM64.7 82h4.9v3.2h-4.9zM75.45 82h4.9v3.2h-4.9zM66.85 87.2h2.75v3.2h-2.75zM66.85 89.8h7.05v3.2h-7.05z"/>
<path fill="#2797eb" d="M103.4 32.6h4.9v3.2h-4.9zM107.7 35.2h2.75v3.2h-2.75zM107.7 37.8h2.75v3.2h-2.75zM105.55 43h2.75v3.2h-2.75zM60.4 45.6h4.9v3.2h-4.9zM66.85 45.6h2.75v3.2h-2.75zM73.3 45.6h2.75v3.2h-2.75zM103.4 45.6h2.75v3.2h-2.75zM77.6 48.2h2.75v3.2h-2.75zM101.25 50.8h2.75v3.2h-2.75zM127.05 50.8h2.75v3.2h-2.75zM47.5 53.4h2.75v3.2h-2.75zM79.75 53.4h2.75v3.2h-2.75zM101.25 53.4h2.75v3.2h-2.75zM79.75 56h2.75v3.2h-2.75zM99.1 56h4.9v3.2h-4.9zM49.65 58.6h4.9v3.2h-4.9zM77.6 58.6h2.75v3.2h-2.75zM101.25 58.6h2.75v3.2h-2.75zM49.65 61.2h2.75v3.2h-2.75zM53.95 61.2h2.75v3.2h-2.75zM75.45 61.2h2.75v3.2h-2.75zM49.65 63.8h7.05v3.2h-7.05zM73.3 63.8h2.75v3.2h-2.75zM51.8 66.4h2.75v3.2h-2.75zM73.3 66.4h4.9v3.2h-4.9zM75.45 74.2h4.9v3.2h-4.9zM103.4 74.2h9.2v3.2h-9.2zM114.15 74.2h2.75v3.2h-2.75zM58.25 76.8h2.75v3.2h-2.75zM75.45 76.8h9.2v3.2h-9.2zM92.65 76.8h2.75v3.2h-2.75zM96.95 76.8h7.05v3.2h-7.05zM114.15 76.8h4.9v3.2h-4.9zM75.45 79.4h2.75v3.2h-2.75zM81.9 79.4h2.75v3.2h-2.75zM94.8 79.4h2.75v3.2h-2.75zM105.55 79.4h2.75v3.2h-2.75zM79.75 82h4.9v3.2h-4.9zM96.95 82h2.75v3.2h-2.75zM105.55 82h2.75v3.2h-2.75zM64.7 84.6h2.75v3.2h-2.75zM79.75 84.6h2.75v3.2h-2.75zM79.75 87.2h2.75v3.2h-2.75zM75.45 89.8h4.9v3.2h-4.9zM69 92.4h7.05v3.2h-7.05z"/>
<path fill="#259de7" d="M92.65 30h7.05v3.2h-7.05zM101.25 32.6h2.75v3.2h-2.75zM58.25 45.6h2.75v3.2h-2.75zM64.7 45.6h2.75v3.2h-2.75zM75.45 45.6h2.75v3.2h-2.75zM49.65 48.2h2.75v3.2h-2.75zM101.25 48.2h2.75v3.2h-2.75zM47.5 50.8h2.75v3.2h-2.75zM99.1 50.8h2.75v3.2h-2.75zM43.2 53.4h4.9v3.2h-4.9zM99.1 53.4h2.75v3.2h-2.75zM45.35 56h2.75v3.2h-2.75zM96.95 56h2.75v3.2h-2.75zM47.5 58.6h2.75v3.2h-2.75zM77.6 63.8h2.75v3.2h-2.75zM77.6 69h4.9v3.2h-4.9zM77.6 71.6h9.2v3.2h-9.2zM96.95 71.6h4.9v3.2h-4.9zM79.75 74.2h4.9v3.2h-4.9zM92.65 74.2h2.75v3.2h-2.75zM101.25 74.2h2.75v3.2h-2.75zM94.8 76.8h2.75v3.2h-2.75zM103.4 76.8h9.2v3.2h-9.2zM77.6 79.4h4.9v3.2h-4.9zM96.95 79.4h9.2v3.2h-9.2zM107.7 79.4h2.75v3.2h-2.75zM101.25 82h4.9v3.2h-4.9zM107.7 82h2.75v3.2h-2.75zM81.9 84.6h2.75v3.2h-2.75zM105.55 84.6h4.9v3.2h-4.9zM107.7 87.2h2.75v3.2h-2.75z"/>
<path fill="#21a3e3" d="M94.8 32.6h7.05v3.2h-7.05zM103.4 35.2h4.9v3.2h-4.9zM105.55 37.8h2.75v3.2h-2.75zM105.55 40.4h2.75v3.2h-2.75zM69 43h2.75v3.2h-2.75zM53.95 45.6h4.9v3.2h-4.9zM99.1 48.2h2.75v3.2h-2.75zM45.35 50.8h2.75v3.2h-2.75zM79.75 50.8h2.75v3.2h-2.75zM84.05 53.4h2.75v3.2h-2.75zM90.5 53.4h2.75v3.2h-2.75zM94.8 53.4h4.9v3.2h-4.9zM81.9 56h2.75v3.2h-2.75zM86.2 56h2.75v3.2h-2.75zM94.8 56h2.75v3.2h-2.75zM79.75 58.6h4.9v3.2h-4.9zM96.95 58.6h4.9v3.2h-4.9zM77.6 61.2h4.9v3.2h-4.9zM99.1 61.2h2.75v3.2h-2.75zM79.75 63.8h2.75v3.2h-2.75zM99.1 63.8h2.75v3.2h-2.75zM77.6 66.4h4.9v3.2h-4.9zM99.1 66.4h2.75v3.2h-2.75zM99.1 69h2.75v3.2h-2.75zM86.2 71.6h2.75v3.2h-2.75zM90.5 71.6h2.75v3.2h-2.75zM94.8 71.6h2.75v3.2h-2.75zM94.8 74.2h7.05v3.2h-7.05zM99.1 82h2.75v3.2h-2.75z"/>
<path fill="#1da9e0" d="M77.6 27.4h2.75v3.2h-2.75zM81.9 27.4h7.05v3.2h-7.05zM86.2 30h7.05v3.2h-7.05zM90.5 32.6h4.9v3.2h-4.9zM103.4 37.8h2.75v3.2h-2.75zM71.15 43h2.75v3.2h-2.75zM103.4 43h2.75v3.2h-2.75zM99.1 45.6h4.9v3.2h-4.9zM38.9 48.2h2.75v3.2h-2.75zM43.2 48.2h2.75v3.2h-2.75zM47.5 48.2h2.75v3.2h-2.75zM41.05 50.8h4.9v3.2h-4.9zM90.5 50.8h2.75v3.2h-2.75zM96.95 50.8h2.75v3.2h-2.75zM81.9 53.4h2.75v3.2h-2.75zM88.35 53.4h2.75v3.2h-2.75zM92.65 53.4h2.75v3.2h-2.75zM84.05 56h2.75v3.2h-2.75zM90.5 56h4.9v3.2h-4.9zM84.05 58.6h2.75v3.2h-2.75zM94.8 58.6h2.75v3.2h-2.75zM81.9 61.2h2.75v3.2h-2.75zM96.95 61.2h2.75v3.2h-2.75zM96.95 66.4h2.75v3.2h-2.75zM81.9 69h2.75v3.2h-2.75zM96.95 69h2.75v3.2h-2.75zM88.35 71.6h2.75v3.2h-2.75zM92.65 71.6h2.75v3.2h-2.75z"/>
<path fill="#17aeda" d="M75.45 27.4h2.75v3.2h-2.75zM79.75 27.4h2.75v3.2h-2.75zM75.45 30h4.9v3.2h-4.9zM84.05 30h2.75v3.2h-2.75zM88.35 32.6h2.75v3.2h-2.75zM99.1 35.2h4.9v3.2h-4.9zM71.15 40.4h2.75v3.2h-2.75zM103.4 40.4h2.75v3.2h-2.75zM58.25 43h2.75v3.2h-2.75zM62.55 43h7.05v3.2h-7.05zM73.3 43h4.9v3.2h-4.9zM49.65 45.6h4.9v3.2h-4.9zM77.6 45.6h2.75v3.2h-2.75zM96.95 45.6h2.75v3.2h-2.75zM41.05 48.2h2.75v3.2h-2.75zM45.35 48.2h2.75v3.2h-2.75zM79.75 48.2h2.75v3.2h-2.75zM94.8 48.2h4.9v3.2h-4.9zM81.9 50.8h2.75v3.2h-2.75zM88.35 50.8h2.75v3.2h-2.75zM92.65 50.8h4.9v3.2h-4.9zM86.2 53.4h2.75v3.2h-2.75zM88.35 56h2.75v3.2h-2.75zM92.65 58.6h2.75v3.2h-2.75zM81.9 63.8h2.75v3.2h-2.75zM96.95 63.8h2.75v3.2h-2.75zM81.9 66.4h2.75v3.2h-2.75zM94.8 66.4h2.75v3.2h-2.75zM84.05 69h2.75v3.2h-2.75zM90.5 69h7.05v3.2h-7.05z"/>
<path fill="#0cb3d3" d="M71.15 27.4h4.9v3.2h-4.9zM79.75 30h4.9v3.2h-4.9zM73.3 32.6h4.9v3.2h-4.9zM79.75 32.6h2.75v3.2h-2.75zM92.65 35.2h7.05v3.2h-7.05zM69 40.4h2.75v3.2h-2.75zM73.3 40.4h2.75v3.2h-2.75zM101.25 40.4h2.75v3.2h-2.75zM56.1 43h2.75v3.2h-2.75zM60.4 43h2.75v3.2h-2.75zM101.25 43h2.75v3.2h-2.75zM38.9 45.6h11.35v3.2h-11.35zM81.9 48.2h2.75v3.2h-2.75zM90.5 48.2h4.9v3.2h-4.9zM84.05 50.8h4.9v3.2h-4.9zM86.2 58.6h7.05v3.2h-7.05zM84.05 61.2h2.75v3.2h-2.75zM94.8 61.2h2.75v3.2h-2.75zM84.05 63.8h2.75v3.2h-2.75zM84.05 66.4h2.75v3.2h-2.75zM92.65 66.4h2.75v3.2h-2.75zM86.2 69h4.9v3.2h-4.9z"/>
<path fill="#02b7cb" d="M64.7 24.8h2.75v3.2h-2.75zM69 27.4h2.75v3.2h-2.75zM69 30h2.75v3.2h-2.75zM73.3 30h2.75v3.2h-2.75zM71.15 32.6h2.75v3.2h-2.75zM77.6 32.6h2.75v3.2h-2.75zM81.9 32.6h7.05v3.2h-7.05zM69 35.2h2.75v3.2h-2.75zM73.3 35.2h4.9v3.2h-4.9zM84.05 35.2h2.75v3.2h-2.75zM66.85 37.8h11.35v3.2h-11.35zM99.1 37.8h4.9v3.2h-4.9zM62.55 40.4h7.05v3.2h-7.05zM75.45 40.4h2.75v3.2h-2.75zM96.95 40.4h2.75v3.2h-2.75zM53.95 43h2.75v3.2h-2.75zM92.65 43h9.2v3.2h-9.2zM79.75 45.6h2.75v3.2h-2.75zM94.8 45.6h2.75v3.2h-2.75zM84.05 48.2h7.05v3.2h-7.05zM86.2 61.2h2.75v3.2h-2.75zM90.5 61.2h4.9v3.2h-4.9zM92.65 63.8h4.9v3.2h-4.9zM86.2 66.4h2.75v3.2h-2.75zM90.5 66.4h2.75v3.2h-2.75z"/>
<path fill="#03bbc2" d="M36.75 24.8h2.75v3.2h-2.75zM53.95 24.8h11.35v3.2h-11.35zM26 27.4h7.05v3.2h-7.05zM64.7 27.4h4.9v3.2h-4.9zM66.85 30h2.75v3.2h-2.75zM71.15 30h2.75v3.2h-2.75zM69 32.6h2.75v3.2h-2.75zM64.7 35.2h4.9v3.2h-4.9zM71.15 35.2h2.75v3.2h-2.75zM77.6 35.2h4.9v3.2h-4.9zM88.35 35.2h4.9v3.2h-4.9zM62.55 37.8h4.9v3.2h-4.9zM77.6 37.8h4.9v3.2h-4.9zM94.8 37.8h4.9v3.2h-4.9zM60.4 40.4h2.75v3.2h-2.75zM77.6 40.4h2.75v3.2h-2.75zM94.8 40.4h2.75v3.2h-2.75zM99.1 40.4h2.75v3.2h-2.75zM38.9 43h2.75v3.2h-2.75zM43.2 43h7.05v3.2h-7.05zM51.8 43h2.75v3.2h-2.75zM77.6 43h4.9v3.2h-4.9zM81.9 45.6h2.75v3.2h-2.75zM92.65 45.6h2.75v3.2h-2.75zM88.35 61.2h2.75v3.2h-2.75zM86.2 63.8h2.75v3.2h-2.75zM88.35 66.4h2.75v3.2h-2.75z"/>
<path fill="#12beb9" d="M38.9 24.8h4.9v3.2h-4.9zM47.5 24.8h2.75v3.2h-2.75zM51.8 24.8h2.75v3.2h-2.75zM58.25 27.4h7.05v3.2h-7.05zM28.15 30h4.9v3.2h-4.9zM62.55 30h2.75v3.2h-2.75zM30.3 32.6h2.75v3.2h-2.75zM64.7 32.6h4.9v3.2h-4.9zM81.9 35.2h2.75v3.2h-2.75zM86.2 35.2h2.75v3.2h-2.75zM81.9 37.8h2.75v3.2h-2.75zM88.35 37.8h7.05v3.2h-7.05zM34.6 40.4h2.75v3.2h-2.75zM53.95 40.4h2.75v3.2h-2.75zM58.25 40.4h2.75v3.2h-2.75zM90.5 40.4h4.9v3.2h-4.9zM36.75 43h2.75v3.2h-2.75zM41.05 43h2.75v3.2h-2.75zM49.65 43h2.75v3.2h-2.75zM81.9 43h2.75v3.2h-2.75zM90.5 45.6h2.75v3.2h-2.75zM88.35 63.8h4.9v3.2h-4.9z"/>
<path fill="#22c1b0" d="M43.2 24.8h4.9v3.2h-4.9zM49.65 24.8h2.75v3.2h-2.75zM32.45 27.4h4.9v3.2h-4.9zM56.1 27.4h2.75v3.2h-2.75zM32.45 30h2.75v3.2h-2.75zM60.4 30h2.75v3.2h-2.75zM64.7 30h2.75v3.2h-2.75zM32.45 32.6h4.9v3.2h-4.9zM62.55 32.6h2.75v3.2h-2.75zM58.25 35.2h2.75v3.2h-2.75zM62.55 35.2h2.75v3.2h-2.75zM58.25 37.8h4.9v3.2h-4.9zM84.05 37.8h2.75v3.2h-2.75zM51.8 40.4h2.75v3.2h-2.75zM56.1 40.4h2.75v3.2h-2.75zM79.75 40.4h2.75v3.2h-2.75zM86.2 43h7.05v3.2h-7.05zM84.05 45.6h7.05v3.2h-7.05z"/>
<path fill="#2cc4a6" d="M36.75 27.4h9.2v3.2h-9.2zM47.5 27.4h9.2v3.2h-9.2zM34.6 30h2.75v3.2h-2.75zM58.25 30h2.75v3.2h-2.75zM56.1 32.6h7.05v3.2h-7.05zM30.3 35.2h4.9v3.2h-4.9zM56.1 35.2h2.75v3.2h-2.75zM60.4 35.2h2.75v3.2h-2.75zM32.45 37.8h9.2v3.2h-9.2zM51.8 37.8h7.05v3.2h-7.05zM86.2 37.8h2.75v3.2h-2.75zM36.75 40.4h15.65v3.2h-15.65zM81.9 40.4h4.9v3.2h-4.9zM88.35 40.4h2.75v3.2h-2.75zM84.05 43h2.75v3.2h-2.75z"/>
<path fill="#34c79c" d="M45.35 27.4h2.75v3.2h-2.75zM36.75 30h4.9v3.2h-4.9zM51.8 30h7.05v3.2h-7.05zM36.75 32.6h2.75v3.2h-2.75zM34.6 35.2h7.05v3.2h-7.05zM41.05 37.8h4.9v3.2h-4.9zM47.5 37.8h2.75v3.2h-2.75zM86.2 40.4h2.75v3.2h-2.75z"/>
<path fill="#3dc990" d="M43.2 30h4.9v3.2h-4.9zM49.65 30h2.75v3.2h-2.75zM38.9 32.6h4.9v3.2h-4.9zM47.5 32.6h9.2v3.2h-9.2zM43.2 35.2h4.9v3.2h-4.9zM49.65 35.2h7.05v3.2h-7.05zM45.35 37.8h2.75v3.2h-2.75zM49.65 37.8h2.75v3.2h-2.75z"/>
<path fill="#4bcb84" d="M41.05 30h2.75v3.2h-2.75zM47.5 30h2.75v3.2h-2.75zM43.2 32.6h4.9v3.2h-4.9zM41.05 35.2h2.75v3.2h-2.75zM47.5 35.2h2.75v3.2h-2.75z"/>
</g>
<use href="#qh" fill="none" stroke="#0a0a0a" stroke-width="0.95" stroke-linejoin="round"/>
<rect x="0" y="0" width="137.2" height="104.2" fill="none" stroke="#999" stroke-width="0.9"/>
<path d="M18.92 104.2v-1.4M18.92 0v1.4M61.92 104.2v-1.4M61.92 0v1.4M104.92 104.2v-1.4M104.92 0v1.4M0 94.02h1.4M137.2 94.02h-1.4M0 73.22h1.4M137.2 73.22h-1.4M0 52.42h1.4M137.2 52.42h-1.4M0 31.62h1.4M137.2 31.62h-1.4M0 10.82h1.4M137.2 10.82h-1.4" stroke="#888" stroke-width="0.8" fill="none"/>
<text x="18.92" y="115.8" class="t" text-anchor="middle">90</text>
<text x="61.92" y="115.8" class="t" text-anchor="middle">95</text>
<text x="104.92" y="115.8" class="t" text-anchor="middle">100</text>
<text x="-3.1" y="97.12" class="t" text-anchor="end">32</text>
<text x="-3.1" y="76.32" class="t" text-anchor="end">34</text>
<text x="-3.1" y="55.52" class="t" text-anchor="end">36</text>
<text x="-3.1" y="34.72" class="t" text-anchor="end">38</text>
<text x="-3.1" y="13.92" class="t" text-anchor="end">40</text>
<text x="10.6" y="12.3" class="p">(f)</text>
<rect x="142.4" y="11" width="10.8" height="93.8" fill="url(#pg)" stroke="#999" stroke-width="0.4"/>
<text x="157.4" y="87.55" class="t">-5</text>
<text x="157.4" y="61.2" class="t">0</text>
<text x="157.4" y="34.85" class="t">5</text>
<text x="148.8" y="6.4" class="m" text-anchor="middle">(mm)</text>
</g>
<g transform="translate(35.5 265.7)">
<g clip-path="url(#cq)" shape-rendering="crispEdges">
<path fill="#3c72ff" d="M24.28 59.12h12.64v2.68h-12.64zM20.84 61.2h17.8v2.68h-17.8zM19.12 63.28h21.24v2.68h-21.24zM19.12 65.36h22.96v2.68h-22.96zM19.12 67.44h22.96v2.68h-22.96zM19.12 69.52h21.24v2.68h-21.24zM20.84 71.6h19.52v2.68h-19.52zM24.28 73.68h12.64v2.68h-12.64z"/>
<path fill="#347afd" d="M70.72 30h4.04v2.68h-4.04zM19.12 52.88h16.08v2.68h-16.08zM13.96 54.96h31.56v2.68h-31.56zM13.96 57.04h38.44v2.68h-38.44zM13.96 59.12h10.92v2.68h-10.92zM36.32 59.12h22.96v2.68h-22.96zM13.96 61.2h7.48v2.68h-7.48zM38.04 61.2h28.12v2.68h-28.12zM13.96 63.28h5.76v2.68h-5.76zM39.76 63.28h28.12v2.68h-28.12zM15.68 65.36h4.04v2.68h-4.04zM41.48 65.36h24.68v2.68h-24.68zM15.68 67.44h4.04v2.68h-4.04zM41.48 67.44h21.24v2.68h-21.24zM15.68 69.52h4.04v2.68h-4.04zM39.76 69.52h21.24v2.68h-21.24zM15.68 71.6h5.76v2.68h-5.76zM39.76 71.6h19.52v2.68h-19.52zM15.68 73.68h9.2v2.68h-9.2zM36.32 73.68h21.24v2.68h-21.24zM17.4 75.76h38.44v2.68h-38.44zM19.12 77.84h35v2.68h-35zM20.84 79.92h31.56v2.68h-31.56zM31.16 82h19.52v2.68h-19.52zM32.88 84.08h17.8v2.68h-17.8zM41.48 86.16h7.48v2.68h-7.48z"/>
<path fill="#2f82fa" d="M53.52 15.44h5.76v2.68h-5.76zM56.96 17.52h9.2v2.68h-9.2zM77.6 17.52h7.48v2.68h-7.48zM60.4 19.6h9.2v2.68h-9.2zM77.6 19.6h9.2v2.68h-9.2zM87.92 19.6h10.92v2.68h-10.92zM62.12 21.68h9.2v2.68h-9.2zM77.6 21.68h19.52v2.68h-19.52zM62.12 23.76h12.64v2.68h-12.64zM77.6 23.76h12.64v2.68h-12.64zM62.12 25.84h24.68v2.68h-24.68zM60.4 27.92h24.68v2.68h-24.68zM60.4 30h10.92v2.68h-10.92zM74.16 30h10.92v2.68h-10.92zM62.12 32.08h21.24v2.68h-21.24zM63.84 34.16h17.8v2.68h-17.8zM12.24 50.8h24.68v2.68h-24.68zM12.24 52.88h7.48v2.68h-7.48zM34.6 52.88h16.08v2.68h-16.08zM44.92 54.96h28.12v2.68h-28.12zM51.8 57.04h40.16v2.68h-40.16zM58.68 59.12h35v2.68h-35zM65.56 61.2h29.84v2.68h-29.84zM67.28 63.28h29.84v2.68h-29.84zM65.56 65.36h33.28v2.68h-33.28zM62.12 67.44h38.44v2.68h-38.44zM60.4 69.52h43.6v2.68h-43.6zM58.68 71.6h48.76v2.68h-48.76zM56.96 73.68h60.8v2.68h-60.8zM55.24 75.76h12.64v2.68h-12.64zM91.36 75.76h28.12v2.68h-28.12zM53.52 77.84h10.92v2.68h-10.92zM93.08 77.84h26.4v2.68h-26.4zM51.8 79.92h10.92v2.68h-10.92zM93.08 79.92h26.4v2.68h-26.4zM50.08 82h10.92v2.68h-10.92zM94.8 82h22.96v2.68h-22.96zM50.08 84.08h10.92v2.68h-10.92zM98.24 84.08h17.8v2.68h-17.8zM48.36 86.16h10.92v2.68h-10.92zM105.12 86.16h9.2v2.68h-9.2zM48.36 88.24h5.76v2.68h-5.76zM106.84 88.24h4.04v2.68h-4.04z"/>
<path fill="#2d89f5" d="M50.08 15.44h4.04v2.68h-4.04zM46.64 17.52h10.92v2.68h-10.92zM51.8 19.6h9.2v2.68h-9.2zM53.52 21.68h9.2v2.68h-9.2zM96.52 21.68h4.04v2.68h-4.04zM55.24 23.76h7.48v2.68h-7.48zM89.64 23.76h14.36v2.68h-14.36zM56.96 25.84h5.76v2.68h-5.76zM86.2 25.84h9.2v2.68h-9.2zM56.96 27.92h4.04v2.68h-4.04zM84.48 27.92h7.48v2.68h-7.48zM56.96 30h4.04v2.68h-4.04zM84.48 30h5.76v2.68h-5.76zM58.68 32.08h4.04v2.68h-4.04zM82.76 32.08h5.76v2.68h-5.76zM58.68 34.16h5.76v2.68h-5.76zM81.04 34.16h7.48v2.68h-7.48zM63.84 36.24h22.96v2.68h-22.96zM17.4 48.72h17.8v2.68h-17.8zM36.32 50.8h12.64v2.68h-12.64zM50.08 52.88h22.96v2.68h-22.96zM72.44 54.96h21.24v2.68h-21.24zM91.36 57.04h5.76v2.68h-5.76zM93.08 59.12h5.76v2.68h-5.76zM94.8 61.2h5.76v2.68h-5.76zM96.52 63.28h5.76v2.68h-5.76zM98.24 65.36h5.76v2.68h-5.76zM99.96 67.44h7.48v2.68h-7.48zM103.4 69.52h19.52v2.68h-19.52zM106.84 71.6h7.48v2.68h-7.48zM117.16 71.6h4.04v2.68h-4.04zM67.28 75.76h17.8v2.68h-17.8zM63.84 77.84h22.96v2.68h-22.96zM62.12 79.92h7.48v2.68h-7.48zM82.76 79.92h4.04v2.68h-4.04zM60.4 82h5.76v2.68h-5.76zM60.4 84.08h5.76v2.68h-5.76zM58.68 86.16h5.76v2.68h-5.76zM58.68 88.24h5.76v2.68h-5.76zM62.12 90.32h4.04v2.68h-4.04zM63.84 92.4h4.04v2.68h-4.04zM63.84 94.48h7.48v2.68h-7.48zM69 96.56h4.04v2.68h-4.04z"/>
<path fill="#2c90f0" d="M39.76 17.52h7.48v2.68h-7.48zM41.48 19.6h10.92v2.68h-10.92zM48.36 21.68h5.76v2.68h-5.76zM50.08 23.76h5.76v2.68h-5.76zM51.8 25.84h5.76v2.68h-5.76zM94.8 25.84h14.36v2.68h-14.36zM53.52 27.92h4.04v2.68h-4.04zM91.36 27.92h7.48v2.68h-7.48zM53.52 30h4.04v2.68h-4.04zM89.64 30h5.76v2.68h-5.76zM53.52 32.08h5.76v2.68h-5.76zM87.92 32.08h5.76v2.68h-5.76zM55.24 34.16h4.04v2.68h-4.04zM87.92 34.16h5.76v2.68h-5.76zM58.68 36.24h5.76v2.68h-5.76zM86.2 36.24h7.48v2.68h-7.48zM65.56 38.32h24.68v2.68h-24.68zM26 46.64h4.04v2.68h-4.04zM34.6 48.72h10.92v2.68h-10.92zM48.36 50.8h14.36v2.68h-14.36zM72.44 52.88h19.52v2.68h-19.52zM93.08 54.96h4.04v2.68h-4.04zM96.52 57.04h4.04v2.68h-4.04zM98.24 59.12h4.04v2.68h-4.04zM99.96 61.2h4.04v2.68h-4.04zM101.68 63.28h4.04v2.68h-4.04zM103.4 65.36h5.76v2.68h-5.76zM120.6 65.36h2.32v2.68h-2.32zM106.84 67.44h16.08v2.68h-16.08zM69 79.92h14.36v2.68h-14.36zM65.56 82h7.48v2.68h-7.48zM79.32 82h5.76v2.68h-5.76zM65.56 84.08h4.04v2.68h-4.04zM82.76 84.08h2.32v2.68h-2.32zM63.84 86.16h5.76v2.68h-5.76zM82.76 86.16h2.32v2.68h-2.32zM63.84 88.24h5.76v2.68h-5.76zM82.76 88.24h2.32v2.68h-2.32zM65.56 90.32h5.76v2.68h-5.76zM81.04 90.32h2.32v2.68h-2.32zM67.28 92.4h12.64v2.68h-12.64zM70.72 94.48h7.48v2.68h-7.48z"/>
<path fill="#2797eb" d="M32.88 19.6h9.2v2.68h-9.2zM39.76 21.68h9.2v2.68h-9.2zM44.92 23.76h5.76v2.68h-5.76zM48.36 25.84h4.04v2.68h-4.04zM50.08 27.92h4.04v2.68h-4.04zM98.24 27.92h12.64v2.68h-12.64zM50.08 30h4.04v2.68h-4.04zM94.8 30h7.48v2.68h-7.48zM50.08 32.08h4.04v2.68h-4.04zM93.08 32.08h5.76v2.68h-5.76zM51.8 34.16h4.04v2.68h-4.04zM93.08 34.16h5.76v2.68h-5.76zM53.52 36.24h5.76v2.68h-5.76zM93.08 36.24h5.76v2.68h-5.76zM58.68 38.32h7.48v2.68h-7.48zM89.64 38.32h7.48v2.68h-7.48zM74.16 40.4h19.52v2.68h-19.52zM24.28 44.56h4.04v2.68h-4.04zM29.44 46.64h12.64v2.68h-12.64zM44.92 48.72h10.92v2.68h-10.92zM62.12 50.8h26.4v2.68h-26.4zM91.36 52.88h5.76v2.68h-5.76zM96.52 54.96h4.04v2.68h-4.04zM99.96 57.04h2.32v2.68h-2.32zM101.68 59.12h2.32v2.68h-2.32zM103.4 61.2h2.32v2.68h-2.32zM105.12 63.28h4.04v2.68h-4.04zM120.6 63.28h2.32v2.68h-2.32zM108.56 65.36h12.64v2.68h-12.64zM72.44 82h7.48v2.68h-7.48zM69 84.08h14.36v2.68h-14.36zM69 86.16h14.36v2.68h-14.36zM69 88.24h14.36v2.68h-14.36zM70.72 90.32h10.92v2.68h-10.92z"/>
<path fill="#259de7" d="M26 21.68h14.36v2.68h-14.36zM20.84 23.76h7.48v2.68h-7.48zM38.04 23.76h7.48v2.68h-7.48zM19.12 25.84h4.04v2.68h-4.04zM43.2 25.84h5.76v2.68h-5.76zM44.92 27.92h5.76v2.68h-5.76zM46.64 30h4.04v2.68h-4.04zM101.68 30h12.64v2.68h-12.64zM46.64 32.08h4.04v2.68h-4.04zM98.24 32.08h7.48v2.68h-7.48zM115.44 32.08h2.32v2.68h-2.32zM46.64 34.16h5.76v2.68h-5.76zM98.24 34.16h5.76v2.68h-5.76zM120.6 34.16h2.32v2.68h-2.32zM46.64 36.24h7.48v2.68h-7.48zM98.24 36.24h4.04v2.68h-4.04zM50.08 38.32h9.2v2.68h-9.2zM96.52 38.32h5.76v2.68h-5.76zM60.4 40.4h14.36v2.68h-14.36zM93.08 40.4h7.48v2.68h-7.48zM24.28 42.48h7.48v2.68h-7.48zM86.2 42.48h9.2v2.68h-9.2zM27.72 44.56h12.64v2.68h-12.64zM41.48 46.64h9.2v2.68h-9.2zM55.24 48.72h16.08v2.68h-16.08zM87.92 50.8h9.2v2.68h-9.2zM96.52 52.88h4.04v2.68h-4.04zM99.96 54.96h2.32v2.68h-2.32zM101.68 57.04h2.32v2.68h-2.32zM103.4 59.12h2.32v2.68h-2.32zM105.12 61.2h4.04v2.68h-4.04zM120.6 61.2h4.04v2.68h-4.04zM108.56 63.28h12.64v2.68h-12.64z"/>
<path fill="#21a3e3" d="M27.72 23.76h10.92v2.68h-10.92zM22.56 25.84h21.24v2.68h-21.24zM19.12 27.92h7.48v2.68h-7.48zM39.76 27.92h5.76v2.68h-5.76zM20.84 30h4.04v2.68h-4.04zM41.48 30h5.76v2.68h-5.76zM20.84 32.08h4.04v2.68h-4.04zM41.48 32.08h5.76v2.68h-5.76zM105.12 32.08h10.92v2.68h-10.92zM22.56 34.16h4.04v2.68h-4.04zM39.76 34.16h7.48v2.68h-7.48zM103.4 34.16h7.48v2.68h-7.48zM113.72 34.16h7.48v2.68h-7.48zM26 36.24h21.24v2.68h-21.24zM101.68 36.24h5.76v2.68h-5.76zM120.6 36.24h4.04v2.68h-4.04zM27.72 38.32h22.96v2.68h-22.96zM101.68 38.32h4.04v2.68h-4.04zM125.76 38.32h2.32v2.68h-2.32zM26 40.4h35v2.68h-35zM99.96 40.4h4.04v2.68h-4.04zM31.16 42.48h19.52v2.68h-19.52zM65.56 42.48h21.24v2.68h-21.24zM94.8 42.48h5.76v2.68h-5.76zM39.76 44.56h12.64v2.68h-12.64zM84.48 44.56h12.64v2.68h-12.64zM50.08 46.64h14.36v2.68h-14.36zM70.72 48.72h26.4v2.68h-26.4zM96.52 50.8h4.04v2.68h-4.04zM99.96 52.88h2.32v2.68h-2.32zM101.68 54.96h2.32v2.68h-2.32zM103.4 57.04h4.04v2.68h-4.04zM105.12 59.12h4.04v2.68h-4.04zM124.04 59.12h2.32v2.68h-2.32zM108.56 61.2h12.64v2.68h-12.64z"/>
<path fill="#1da9e0" d="M26 27.92h14.36v2.68h-14.36zM24.28 30h17.8v2.68h-17.8zM24.28 32.08h17.8v2.68h-17.8zM26 34.16h14.36v2.68h-14.36zM110.28 34.16h4.04v2.68h-4.04zM106.84 36.24h14.36v2.68h-14.36zM105.12 38.32h4.04v2.68h-4.04zM124.04 38.32h2.32v2.68h-2.32zM103.4 40.4h2.32v2.68h-2.32zM50.08 42.48h16.08v2.68h-16.08zM99.96 42.48h4.04v2.68h-4.04zM51.8 44.56h33.28v2.68h-33.28zM96.52 44.56h5.76v2.68h-5.76zM63.84 46.64h36.72v2.68h-36.72zM96.52 48.72h5.76v2.68h-5.76zM99.96 50.8h4.04v2.68h-4.04zM101.68 52.88h4.04v2.68h-4.04zM129.2 52.88h2.32v2.68h-2.32zM103.4 54.96h4.04v2.68h-4.04zM106.84 57.04h2.32v2.68h-2.32zM125.76 57.04h2.32v2.68h-2.32zM108.56 59.12h5.76v2.68h-5.76zM115.44 59.12h9.2v2.68h-9.2z"/>
<path fill="#17aeda" d="M108.56 38.32h16.08v2.68h-16.08zM105.12 40.4h4.04v2.68h-4.04zM125.76 40.4h2.32v2.68h-2.32zM103.4 42.48h4.04v2.68h-4.04zM101.68 44.56h4.04v2.68h-4.04zM99.96 46.64h4.04v2.68h-4.04zM129.2 46.64h2.32v2.68h-2.32zM101.68 48.72h2.32v2.68h-2.32zM103.4 50.8h2.32v2.68h-2.32zM129.2 50.8h2.32v2.68h-2.32zM105.12 52.88h2.32v2.68h-2.32zM106.84 54.96h2.32v2.68h-2.32zM108.56 57.04h4.04v2.68h-4.04zM124.04 57.04h2.32v2.68h-2.32zM113.72 59.12h2.32v2.68h-2.32z"/>
<path fill="#0cb3d3" d="M108.56 40.4h10.92v2.68h-10.92zM106.84 42.48h4.04v2.68h-4.04zM105.12 44.56h4.04v2.68h-4.04zM103.4 46.64h4.04v2.68h-4.04zM103.4 48.72h4.04v2.68h-4.04zM129.2 48.72h2.32v2.68h-2.32zM105.12 50.8h2.32v2.68h-2.32zM106.84 52.88h2.32v2.68h-2.32zM127.48 52.88h2.32v2.68h-2.32zM108.56 54.96h4.04v2.68h-4.04zM125.76 54.96h2.32v2.68h-2.32zM112 57.04h12.64v2.68h-12.64z"/>
<path fill="#02b7cb" d="M118.88 40.4h7.48v2.68h-7.48zM110.28 42.48h7.48v2.68h-7.48zM108.56 44.56h4.04v2.68h-4.04zM127.48 44.56h2.32v2.68h-2.32zM106.84 46.64h4.04v2.68h-4.04zM106.84 48.72h4.04v2.68h-4.04zM106.84 50.8h4.04v2.68h-4.04zM108.56 52.88h5.76v2.68h-5.76zM112 54.96h9.2v2.68h-9.2zM124.04 54.96h2.32v2.68h-2.32z"/>
<path fill="#03bbc2" d="M117.16 42.48h4.04v2.68h-4.04zM125.76 42.48h2.32v2.68h-2.32zM112 44.56h5.76v2.68h-5.76zM110.28 46.64h7.48v2.68h-7.48zM127.48 46.64h2.32v2.68h-2.32zM110.28 48.72h5.76v2.68h-5.76zM110.28 50.8h7.48v2.68h-7.48zM127.48 50.8h2.32v2.68h-2.32zM113.72 52.88h5.76v2.68h-5.76zM120.6 54.96h4.04v2.68h-4.04z"/>
<path fill="#12beb9" d="M120.6 42.48h5.76v2.68h-5.76zM117.16 44.56h4.04v2.68h-4.04zM117.16 46.64h2.32v2.68h-2.32zM115.44 48.72h4.04v2.68h-4.04zM127.48 48.72h2.32v2.68h-2.32zM117.16 50.8h2.32v2.68h-2.32zM118.88 52.88h4.04v2.68h-4.04zM125.76 52.88h2.32v2.68h-2.32z"/>
<path fill="#22c1b0" d="M120.6 44.56h2.32v2.68h-2.32zM125.76 44.56h2.32v2.68h-2.32zM118.88 46.64h2.32v2.68h-2.32zM118.88 48.72h2.32v2.68h-2.32zM118.88 50.8h2.32v2.68h-2.32zM125.76 50.8h2.32v2.68h-2.32zM122.32 52.88h4.04v2.68h-4.04z"/>
<path fill="#2cc4a6" d="M122.32 44.56h4.04v2.68h-4.04zM120.6 46.64h2.32v2.68h-2.32zM125.76 46.64h2.32v2.68h-2.32zM120.6 48.72h2.32v2.68h-2.32zM125.76 48.72h2.32v2.68h-2.32zM120.6 50.8h2.32v2.68h-2.32z"/>
<path fill="#34c79c" d="M122.32 46.64h4.04v2.68h-4.04zM122.32 50.8h4.04v2.68h-4.04z"/>
<path fill="#3dc990" d="M122.32 48.72h4.04v2.68h-4.04z"/>
</g>
<use href="#qh" fill="none" stroke="#0a0a0a" stroke-width="0.95" stroke-linejoin="round"/>
<rect x="0" y="0" width="137.2" height="104.2" fill="none" stroke="#999" stroke-width="0.9"/>
<path d="M18.92 104.2v-1.4M18.92 0v1.4M61.92 104.2v-1.4M61.92 0v1.4M104.92 104.2v-1.4M104.92 0v1.4M0 94.02h1.4M137.2 94.02h-1.4M0 73.22h1.4M137.2 73.22h-1.4M0 52.42h1.4M137.2 52.42h-1.4M0 31.62h1.4M137.2 31.62h-1.4M0 10.82h1.4M137.2 10.82h-1.4" stroke="#888" stroke-width="0.8" fill="none"/>
<text x="18.92" y="115.8" class="t" text-anchor="middle">90</text>
<text x="61.92" y="115.8" class="t" text-anchor="middle">95</text>
<text x="104.92" y="115.8" class="t" text-anchor="middle">100</text>
<text x="-3.1" y="97.12" class="t" text-anchor="end">32</text>
<text x="-3.1" y="76.32" class="t" text-anchor="end">34</text>
<text x="-3.1" y="55.52" class="t" text-anchor="end">36</text>
<text x="-3.1" y="34.72" class="t" text-anchor="end">38</text>
<text x="-3.1" y="13.92" class="t" text-anchor="end">40</text>
<text x="10.6" y="12.3" class="p">(g)</text>
<text transform="translate(-16 52.1) rotate(-90)" class="b" text-anchor="middle">Latitude</text>
</g>
<g transform="translate(190.3 265.7)">
<g clip-path="url(#cq)" shape-rendering="crispEdges">
<path fill="#3c72ff" d="M84.05 61.2h2.75v3.2h-2.75zM88.35 61.2h2.75v3.2h-2.75zM84.05 63.8h2.75v3.2h-2.75zM88.35 63.8h2.75v3.2h-2.75zM86.2 66.4h2.75v3.2h-2.75z"/>
<path fill="#347afd" d="M86.2 58.6h2.75v3.2h-2.75zM81.9 61.2h2.75v3.2h-2.75zM86.2 61.2h2.75v3.2h-2.75zM90.5 61.2h4.9v3.2h-4.9zM79.75 63.8h4.9v3.2h-4.9zM86.2 63.8h2.75v3.2h-2.75zM90.5 63.8h2.75v3.2h-2.75zM81.9 66.4h2.75v3.2h-2.75zM88.35 66.4h4.9v3.2h-4.9zM86.2 69h2.75v3.2h-2.75z"/>
<path fill="#2f82fa" d="M51.8 24.8h4.9v3.2h-4.9zM58.25 24.8h2.75v3.2h-2.75zM62.55 24.8h2.75v3.2h-2.75zM71.15 27.4h2.75v3.2h-2.75zM75.45 27.4h2.75v3.2h-2.75zM86.2 32.6h2.75v3.2h-2.75zM81.9 58.6h4.9v3.2h-4.9zM88.35 58.6h7.05v3.2h-7.05zM79.75 61.2h2.75v3.2h-2.75zM92.65 63.8h2.75v3.2h-2.75zM79.75 66.4h2.75v3.2h-2.75zM84.05 66.4h2.75v3.2h-2.75zM92.65 66.4h2.75v3.2h-2.75zM84.05 69h2.75v3.2h-2.75zM88.35 69h4.9v3.2h-4.9zM90.5 71.6h2.75v3.2h-2.75z"/>
<path fill="#2d89f5" d="M43.2 24.8h4.9v3.2h-4.9zM60.4 24.8h2.75v3.2h-2.75zM64.7 24.8h2.75v3.2h-2.75zM45.35 27.4h11.35v3.2h-11.35zM60.4 27.4h4.9v3.2h-4.9zM66.85 27.4h2.75v3.2h-2.75zM73.3 27.4h2.75v3.2h-2.75zM77.6 27.4h11.35v3.2h-11.35zM30.3 30h2.75v3.2h-2.75zM34.6 30h2.75v3.2h-2.75zM45.35 30h7.05v3.2h-7.05zM53.95 30h4.9v3.2h-4.9zM71.15 30h2.75v3.2h-2.75zM84.05 30h11.35v3.2h-11.35zM56.1 32.6h2.75v3.2h-2.75zM71.15 32.6h2.75v3.2h-2.75zM75.45 32.6h2.75v3.2h-2.75zM79.75 32.6h7.05v3.2h-7.05zM90.5 32.6h4.9v3.2h-4.9zM86.2 35.2h7.05v3.2h-7.05zM86.2 37.8h2.75v3.2h-2.75zM84.05 56h11.35v3.2h-11.35zM79.75 58.6h2.75v3.2h-2.75zM77.6 61.2h2.75v3.2h-2.75zM94.8 66.4h2.75v3.2h-2.75zM79.75 69h4.9v3.2h-4.9zM92.65 69h4.9v3.2h-4.9zM81.9 71.6h9.2v3.2h-9.2zM92.65 71.6h2.75v3.2h-2.75zM92.65 74.2h2.75v3.2h-2.75zM94.8 79.4h2.75v3.2h-2.75z"/>
<path fill="#2c90f0" d="M38.9 24.8h4.9v3.2h-4.9zM47.5 24.8h4.9v3.2h-4.9zM56.1 24.8h2.75v3.2h-2.75zM26 27.4h19.95v3.2h-19.95zM56.1 27.4h4.9v3.2h-4.9zM64.7 27.4h2.75v3.2h-2.75zM69 27.4h2.75v3.2h-2.75zM32.45 30h2.75v3.2h-2.75zM36.75 30h9.2v3.2h-9.2zM51.8 30h2.75v3.2h-2.75zM58.25 30h13.5v3.2h-13.5zM73.3 30h11.35v3.2h-11.35zM94.8 30h4.9v3.2h-4.9zM30.3 32.6h4.9v3.2h-4.9zM43.2 32.6h2.75v3.2h-2.75zM47.5 32.6h9.2v3.2h-9.2zM58.25 32.6h7.05v3.2h-7.05zM66.85 32.6h4.9v3.2h-4.9zM73.3 32.6h2.75v3.2h-2.75zM77.6 32.6h2.75v3.2h-2.75zM88.35 32.6h2.75v3.2h-2.75zM94.8 32.6h2.75v3.2h-2.75zM30.3 35.2h4.9v3.2h-4.9zM41.05 35.2h2.75v3.2h-2.75zM47.5 35.2h4.9v3.2h-4.9zM53.95 35.2h2.75v3.2h-2.75zM77.6 35.2h9.2v3.2h-9.2zM92.65 35.2h4.9v3.2h-4.9zM34.6 37.8h2.75v3.2h-2.75zM84.05 37.8h2.75v3.2h-2.75zM88.35 37.8h9.2v3.2h-9.2zM36.75 40.4h2.75v3.2h-2.75zM92.65 40.4h2.75v3.2h-2.75zM86.2 43h7.05v3.2h-7.05zM88.35 45.6h2.75v3.2h-2.75zM90.5 48.2h2.75v3.2h-2.75zM86.2 50.8h9.2v3.2h-9.2zM84.05 53.4h9.2v3.2h-9.2zM94.8 53.4h2.75v3.2h-2.75zM79.75 56h4.9v3.2h-4.9zM94.8 58.6h2.75v3.2h-2.75zM94.8 61.2h2.75v3.2h-2.75zM75.45 63.8h4.9v3.2h-4.9zM94.8 63.8h2.75v3.2h-2.75zM77.6 66.4h2.75v3.2h-2.75zM96.95 69h2.75v3.2h-2.75zM79.75 71.6h2.75v3.2h-2.75zM94.8 71.6h2.75v3.2h-2.75zM81.9 74.2h2.75v3.2h-2.75zM94.8 74.2h2.75v3.2h-2.75zM92.65 76.8h7.05v3.2h-7.05zM96.95 79.4h4.9v3.2h-4.9zM96.95 82h4.9v3.2h-4.9z"/>
<path fill="#2797eb" d="M36.75 24.8h2.75v3.2h-2.75zM28.15 30h2.75v3.2h-2.75zM99.1 30h7.05v3.2h-7.05zM34.6 32.6h9.2v3.2h-9.2zM45.35 32.6h2.75v3.2h-2.75zM64.7 32.6h2.75v3.2h-2.75zM96.95 32.6h4.9v3.2h-4.9zM34.6 35.2h2.75v3.2h-2.75zM38.9 35.2h2.75v3.2h-2.75zM43.2 35.2h4.9v3.2h-4.9zM51.8 35.2h2.75v3.2h-2.75zM56.1 35.2h4.9v3.2h-4.9zM62.55 35.2h2.75v3.2h-2.75zM69 35.2h9.2v3.2h-9.2zM96.95 35.2h2.75v3.2h-2.75zM32.45 37.8h2.75v3.2h-2.75zM36.75 37.8h4.9v3.2h-4.9zM47.5 37.8h9.2v3.2h-9.2zM77.6 37.8h7.05v3.2h-7.05zM34.6 40.4h2.75v3.2h-2.75zM38.9 40.4h4.9v3.2h-4.9zM47.5 40.4h2.75v3.2h-2.75zM84.05 40.4h9.2v3.2h-9.2zM94.8 40.4h2.75v3.2h-2.75zM36.75 43h7.05v3.2h-7.05zM45.35 43h2.75v3.2h-2.75zM92.65 43h4.9v3.2h-4.9zM41.05 45.6h2.75v3.2h-2.75zM84.05 45.6h4.9v3.2h-4.9zM90.5 45.6h7.05v3.2h-7.05zM38.9 48.2h7.05v3.2h-7.05zM92.65 48.2h4.9v3.2h-4.9zM79.75 53.4h4.9v3.2h-4.9zM92.65 53.4h2.75v3.2h-2.75zM96.95 53.4h2.75v3.2h-2.75zM77.6 56h2.75v3.2h-2.75zM94.8 56h2.75v3.2h-2.75zM77.6 58.6h2.75v3.2h-2.75zM49.65 61.2h2.75v3.2h-2.75zM75.45 61.2h2.75v3.2h-2.75zM96.95 61.2h2.75v3.2h-2.75zM49.65 63.8h4.9v3.2h-4.9zM96.95 63.8h2.75v3.2h-2.75zM51.8 66.4h4.9v3.2h-4.9zM96.95 66.4h2.75v3.2h-2.75zM77.6 69h2.75v3.2h-2.75zM96.95 71.6h2.75v3.2h-2.75zM96.95 74.2h2.75v3.2h-2.75zM81.9 76.8h2.75v3.2h-2.75zM99.1 76.8h4.9v3.2h-4.9zM81.9 79.4h2.75v3.2h-2.75zM101.25 79.4h2.75v3.2h-2.75zM81.9 82h2.75v3.2h-2.75zM103.4 82h4.9v3.2h-4.9zM107.7 84.6h2.75v3.2h-2.75zM107.7 87.2h2.75v3.2h-2.75zM69 92.4h2.75v3.2h-2.75z"/>
<path fill="#259de7" d="M101.25 32.6h4.9v3.2h-4.9zM36.75 35.2h2.75v3.2h-2.75zM60.4 35.2h2.75v3.2h-2.75zM64.7 35.2h4.9v3.2h-4.9zM99.1 35.2h2.75v3.2h-2.75zM41.05 37.8h7.05v3.2h-7.05zM62.55 37.8h2.75v3.2h-2.75zM75.45 37.8h2.75v3.2h-2.75zM96.95 37.8h4.9v3.2h-4.9zM43.2 40.4h4.9v3.2h-4.9zM49.65 40.4h2.75v3.2h-2.75zM77.6 40.4h7.05v3.2h-7.05zM96.95 40.4h4.9v3.2h-4.9zM47.5 43h4.9v3.2h-4.9zM79.75 43h7.05v3.2h-7.05zM96.95 43h2.75v3.2h-2.75zM38.9 45.6h2.75v3.2h-2.75zM43.2 45.6h2.75v3.2h-2.75zM47.5 45.6h2.75v3.2h-2.75zM96.95 45.6h2.75v3.2h-2.75zM45.35 48.2h2.75v3.2h-2.75zM81.9 48.2h9.2v3.2h-9.2zM41.05 50.8h9.2v3.2h-9.2zM81.9 50.8h4.9v3.2h-4.9zM94.8 50.8h2.75v3.2h-2.75zM43.2 53.4h7.05v3.2h-7.05zM45.35 56h2.75v3.2h-2.75zM96.95 56h2.75v3.2h-2.75zM47.5 58.6h7.05v3.2h-7.05zM75.45 58.6h2.75v3.2h-2.75zM96.95 58.6h2.75v3.2h-2.75zM53.95 61.2h2.75v3.2h-2.75zM73.3 61.2h2.75v3.2h-2.75zM99.1 61.2h2.75v3.2h-2.75zM53.95 63.8h2.75v3.2h-2.75zM73.3 63.8h2.75v3.2h-2.75zM99.1 63.8h2.75v3.2h-2.75zM75.45 66.4h2.75v3.2h-2.75zM99.1 66.4h2.75v3.2h-2.75zM53.95 69h4.9v3.2h-4.9zM75.45 69h2.75v3.2h-2.75zM99.1 69h2.75v3.2h-2.75zM56.1 71.6h2.75v3.2h-2.75zM99.1 71.6h2.75v3.2h-2.75zM79.75 74.2h2.75v3.2h-2.75zM99.1 74.2h4.9v3.2h-4.9zM105.55 79.4h2.75v3.2h-2.75zM101.25 82h2.75v3.2h-2.75zM81.9 84.6h2.75v3.2h-2.75zM105.55 84.6h2.75v3.2h-2.75zM73.3 92.4h2.75v3.2h-2.75z"/>
<path fill="#21a3e3" d="M105.55 30h4.9v3.2h-4.9zM105.55 32.6h2.75v3.2h-2.75zM101.25 35.2h2.75v3.2h-2.75zM58.25 37.8h2.75v3.2h-2.75zM64.7 37.8h9.2v3.2h-9.2zM101.25 37.8h2.75v3.2h-2.75zM51.8 40.4h2.75v3.2h-2.75zM43.2 43h2.75v3.2h-2.75zM99.1 43h4.9v3.2h-4.9zM45.35 45.6h2.75v3.2h-2.75zM49.65 45.6h2.75v3.2h-2.75zM81.9 45.6h2.75v3.2h-2.75zM99.1 45.6h2.75v3.2h-2.75zM79.75 48.2h2.75v3.2h-2.75zM96.95 48.2h2.75v3.2h-2.75zM79.75 50.8h2.75v3.2h-2.75zM96.95 50.8h4.9v3.2h-4.9zM49.65 53.4h2.75v3.2h-2.75zM77.6 53.4h2.75v3.2h-2.75zM99.1 53.4h2.75v3.2h-2.75zM47.5 56h7.05v3.2h-7.05zM75.45 56h2.75v3.2h-2.75zM99.1 56h2.75v3.2h-2.75zM56.1 58.6h2.75v3.2h-2.75zM73.3 58.6h2.75v3.2h-2.75zM99.1 58.6h2.75v3.2h-2.75zM51.8 61.2h2.75v3.2h-2.75zM56.1 61.2h2.75v3.2h-2.75zM71.15 61.2h2.75v3.2h-2.75zM56.1 63.8h2.75v3.2h-2.75zM71.15 63.8h2.75v3.2h-2.75zM56.1 66.4h4.9v3.2h-4.9zM73.3 66.4h2.75v3.2h-2.75zM101.25 69h2.75v3.2h-2.75zM58.25 71.6h2.75v3.2h-2.75zM77.6 71.6h2.75v3.2h-2.75zM101.25 71.6h2.75v3.2h-2.75zM58.25 74.2h2.75v3.2h-2.75zM77.6 74.2h2.75v3.2h-2.75zM58.25 76.8h2.75v3.2h-2.75zM79.75 76.8h2.75v3.2h-2.75zM103.4 76.8h4.9v3.2h-4.9zM60.4 79.4h2.75v3.2h-2.75zM103.4 79.4h2.75v3.2h-2.75zM107.7 82h2.75v3.2h-2.75zM64.7 84.6h2.75v3.2h-2.75zM66.85 89.8h4.9v3.2h-4.9zM77.6 89.8h2.75v3.2h-2.75zM71.15 92.4h2.75v3.2h-2.75z"/>
<path fill="#1da9e0" d="M109.85 30h2.75v3.2h-2.75zM107.7 32.6h2.75v3.2h-2.75zM112 32.6h2.75v3.2h-2.75zM103.4 35.2h7.05v3.2h-7.05zM56.1 37.8h2.75v3.2h-2.75zM60.4 37.8h2.75v3.2h-2.75zM73.3 37.8h2.75v3.2h-2.75zM53.95 40.4h2.75v3.2h-2.75zM75.45 40.4h2.75v3.2h-2.75zM101.25 40.4h4.9v3.2h-4.9zM51.8 43h2.75v3.2h-2.75zM51.8 45.6h2.75v3.2h-2.75zM79.75 45.6h2.75v3.2h-2.75zM101.25 45.6h2.75v3.2h-2.75zM47.5 48.2h4.9v3.2h-4.9zM99.1 48.2h4.9v3.2h-4.9zM49.65 50.8h2.75v3.2h-2.75zM101.25 50.8h2.75v3.2h-2.75zM51.8 53.4h2.75v3.2h-2.75zM53.95 56h2.75v3.2h-2.75zM53.95 58.6h2.75v3.2h-2.75zM71.15 58.6h2.75v3.2h-2.75zM101.25 58.6h2.75v3.2h-2.75zM69 61.2h2.75v3.2h-2.75zM101.25 61.2h2.75v3.2h-2.75zM58.25 63.8h2.75v3.2h-2.75zM101.25 63.8h2.75v3.2h-2.75zM60.4 66.4h2.75v3.2h-2.75zM101.25 66.4h2.75v3.2h-2.75zM58.25 69h2.75v3.2h-2.75zM73.3 69h2.75v3.2h-2.75zM75.45 71.6h2.75v3.2h-2.75zM103.4 71.6h2.75v3.2h-2.75zM103.4 74.2h2.75v3.2h-2.75zM60.4 76.8h2.75v3.2h-2.75zM107.7 76.8h2.75v3.2h-2.75zM79.75 79.4h2.75v3.2h-2.75zM107.7 79.4h2.75v3.2h-2.75zM62.55 82h2.75v3.2h-2.75zM79.75 82h2.75v3.2h-2.75zM79.75 87.2h2.75v3.2h-2.75zM71.15 89.8h2.75v3.2h-2.75zM75.45 89.8h2.75v3.2h-2.75z"/>
<path fill="#17aeda" d="M109.85 32.6h2.75v3.2h-2.75zM109.85 35.2h4.9v3.2h-4.9zM116.3 35.2h2.75v3.2h-2.75zM120.6 35.2h2.75v3.2h-2.75zM103.4 37.8h4.9v3.2h-4.9zM64.7 40.4h4.9v3.2h-4.9zM105.55 40.4h2.75v3.2h-2.75zM77.6 43h2.75v3.2h-2.75zM103.4 43h2.75v3.2h-2.75zM127.05 45.6h2.75v3.2h-2.75zM51.8 48.2h2.75v3.2h-2.75zM77.6 48.2h2.75v3.2h-2.75zM51.8 50.8h2.75v3.2h-2.75zM77.6 50.8h2.75v3.2h-2.75zM53.95 53.4h2.75v3.2h-2.75zM75.45 53.4h2.75v3.2h-2.75zM101.25 53.4h2.75v3.2h-2.75zM71.15 56h4.9v3.2h-4.9zM101.25 56h2.75v3.2h-2.75zM58.25 58.6h7.05v3.2h-7.05zM66.85 58.6h4.9v3.2h-4.9zM58.25 61.2h11.35v3.2h-11.35zM60.4 63.8h2.75v3.2h-2.75zM64.7 63.8h7.05v3.2h-7.05zM62.55 66.4h2.75v3.2h-2.75zM69 66.4h4.9v3.2h-4.9zM60.4 69h2.75v3.2h-2.75zM103.4 69h2.75v3.2h-2.75zM60.4 71.6h2.75v3.2h-2.75zM60.4 74.2h2.75v3.2h-2.75zM73.3 74.2h4.9v3.2h-4.9zM105.55 74.2h7.05v3.2h-7.05zM75.45 76.8h4.9v3.2h-4.9zM112 76.8h7.05v3.2h-7.05zM62.55 79.4h4.9v3.2h-4.9zM64.7 82h2.75v3.2h-2.75zM79.75 84.6h2.75v3.2h-2.75zM66.85 87.2h2.75v3.2h-2.75zM73.3 89.8h2.75v3.2h-2.75z"/>
<path fill="#0cb3d3" d="M114.15 32.6h2.75v3.2h-2.75zM114.15 35.2h2.75v3.2h-2.75zM118.45 35.2h2.75v3.2h-2.75zM107.7 37.8h4.9v3.2h-4.9zM120.6 37.8h4.9v3.2h-4.9zM56.1 40.4h2.75v3.2h-2.75zM62.55 40.4h2.75v3.2h-2.75zM69 40.4h7.05v3.2h-7.05zM107.7 40.4h2.75v3.2h-2.75zM124.9 40.4h2.75v3.2h-2.75zM53.95 43h2.75v3.2h-2.75zM64.7 43h4.9v3.2h-4.9zM77.6 45.6h2.75v3.2h-2.75zM103.4 45.6h2.75v3.2h-2.75zM103.4 48.2h2.75v3.2h-2.75zM127.05 48.2h2.75v3.2h-2.75zM127.05 50.8h2.75v3.2h-2.75zM56.1 56h4.9v3.2h-4.9zM69 56h2.75v3.2h-2.75zM64.7 58.6h2.75v3.2h-2.75zM62.55 63.8h2.75v3.2h-2.75zM64.7 66.4h4.9v3.2h-4.9zM103.4 66.4h2.75v3.2h-2.75zM62.55 69h2.75v3.2h-2.75zM71.15 69h2.75v3.2h-2.75zM64.7 71.6h2.75v3.2h-2.75zM71.15 71.6h4.9v3.2h-4.9zM105.55 71.6h2.75v3.2h-2.75zM62.55 74.2h4.9v3.2h-4.9zM114.15 74.2h2.75v3.2h-2.75zM62.55 76.8h4.9v3.2h-4.9zM73.3 76.8h2.75v3.2h-2.75zM109.85 76.8h2.75v3.2h-2.75zM66.85 79.4h2.75v3.2h-2.75zM77.6 79.4h2.75v3.2h-2.75zM66.85 84.6h2.75v3.2h-2.75zM69 87.2h2.75v3.2h-2.75z"/>
<path fill="#02b7cb" d="M112 37.8h4.9v3.2h-4.9zM118.45 37.8h2.75v3.2h-2.75zM58.25 40.4h4.9v3.2h-4.9zM109.85 40.4h4.9v3.2h-4.9zM122.75 40.4h2.75v3.2h-2.75zM62.55 43h2.75v3.2h-2.75zM69 43h2.75v3.2h-2.75zM105.55 43h4.9v3.2h-4.9zM103.4 50.8h2.75v3.2h-2.75zM56.1 53.4h2.75v3.2h-2.75zM66.85 53.4h4.9v3.2h-4.9zM73.3 53.4h2.75v3.2h-2.75zM103.4 53.4h2.75v3.2h-2.75zM60.4 56h9.2v3.2h-9.2zM103.4 61.2h2.75v3.2h-2.75zM103.4 63.8h2.75v3.2h-2.75zM64.7 69h7.05v3.2h-7.05zM62.55 71.6h2.75v3.2h-2.75zM66.85 71.6h2.75v3.2h-2.75zM66.85 74.2h7.05v3.2h-7.05zM112 74.2h2.75v3.2h-2.75zM66.85 76.8h7.05v3.2h-7.05zM69 79.4h2.75v3.2h-2.75zM73.3 79.4h4.9v3.2h-4.9zM66.85 82h4.9v3.2h-4.9zM77.6 82h2.75v3.2h-2.75zM77.6 87.2h2.75v3.2h-2.75z"/>
<path fill="#03bbc2" d="M116.3 37.8h2.75v3.2h-2.75zM75.45 43h2.75v3.2h-2.75zM109.85 43h2.75v3.2h-2.75zM53.95 45.6h2.75v3.2h-2.75zM64.7 45.6h4.9v3.2h-4.9zM105.55 45.6h4.9v3.2h-4.9zM66.85 48.2h2.75v3.2h-2.75zM53.95 50.8h2.75v3.2h-2.75zM66.85 50.8h2.75v3.2h-2.75zM62.55 53.4h4.9v3.2h-4.9zM71.15 53.4h2.75v3.2h-2.75zM103.4 56h2.75v3.2h-2.75zM103.4 58.6h2.75v3.2h-2.75zM118.45 66.4h2.75v3.2h-2.75zM69 71.6h2.75v3.2h-2.75zM107.7 71.6h4.9v3.2h-4.9zM71.15 79.4h2.75v3.2h-2.75zM69 84.6h2.75v3.2h-2.75z"/>
<path fill="#12beb9" d="M114.15 40.4h7.05v3.2h-7.05zM71.15 43h2.75v3.2h-2.75zM114.15 43h2.75v3.2h-2.75zM69 45.6h2.75v3.2h-2.75zM109.85 45.6h2.75v3.2h-2.75zM53.95 48.2h2.75v3.2h-2.75zM62.55 48.2h4.9v3.2h-4.9zM75.45 48.2h2.75v3.2h-2.75zM105.55 48.2h2.75v3.2h-2.75zM64.7 50.8h2.75v3.2h-2.75zM69 50.8h2.75v3.2h-2.75zM75.45 50.8h2.75v3.2h-2.75zM58.25 53.4h4.9v3.2h-4.9zM116.3 63.8h4.9v3.2h-4.9zM114.15 66.4h4.9v3.2h-4.9zM105.55 69h2.75v3.2h-2.75zM109.85 69h2.75v3.2h-2.75zM116.3 69h4.9v3.2h-4.9zM77.6 84.6h2.75v3.2h-2.75zM71.15 87.2h2.75v3.2h-2.75z"/>
<path fill="#22c1b0" d="M120.6 40.4h2.75v3.2h-2.75zM56.1 43h2.75v3.2h-2.75zM112 43h2.75v3.2h-2.75zM124.9 43h2.75v3.2h-2.75zM62.55 45.6h2.75v3.2h-2.75zM75.45 45.6h2.75v3.2h-2.75zM69 48.2h2.75v3.2h-2.75zM112 48.2h2.75v3.2h-2.75zM62.55 50.8h2.75v3.2h-2.75zM73.3 50.8h2.75v3.2h-2.75zM105.55 50.8h2.75v3.2h-2.75zM124.9 53.4h2.75v3.2h-2.75zM122.75 58.6h2.75v3.2h-2.75zM116.3 61.2h2.75v3.2h-2.75zM112 66.4h2.75v3.2h-2.75zM71.15 82h7.05v3.2h-7.05zM71.15 84.6h2.75v3.2h-2.75zM73.3 87.2h4.9v3.2h-4.9z"/>
<path fill="#2cc4a6" d="M58.25 43h4.9v3.2h-4.9zM73.3 43h2.75v3.2h-2.75zM116.3 43h2.75v3.2h-2.75zM56.1 45.6h2.75v3.2h-2.75zM112 45.6h4.9v3.2h-4.9zM56.1 48.2h2.75v3.2h-2.75zM107.7 48.2h4.9v3.2h-4.9zM124.9 48.2h2.75v3.2h-2.75zM56.1 50.8h2.75v3.2h-2.75zM60.4 50.8h2.75v3.2h-2.75zM71.15 50.8h2.75v3.2h-2.75zM112 50.8h2.75v3.2h-2.75zM105.55 53.4h2.75v3.2h-2.75zM114.15 58.6h4.9v3.2h-4.9zM120.6 58.6h2.75v3.2h-2.75zM112 61.2h4.9v3.2h-4.9zM118.45 61.2h2.75v3.2h-2.75zM112 63.8h4.9v3.2h-4.9zM105.55 66.4h2.75v3.2h-2.75zM107.7 69h2.75v3.2h-2.75zM75.45 84.6h2.75v3.2h-2.75z"/>
<path fill="#34c79c" d="M71.15 45.6h4.9v3.2h-4.9zM60.4 48.2h2.75v3.2h-2.75zM71.15 48.2h4.9v3.2h-4.9zM114.15 48.2h2.75v3.2h-2.75zM58.25 50.8h2.75v3.2h-2.75zM107.7 50.8h4.9v3.2h-4.9zM114.15 50.8h2.75v3.2h-2.75zM124.9 50.8h2.75v3.2h-2.75zM112 53.4h4.9v3.2h-4.9zM112 56h2.75v3.2h-2.75zM122.75 56h2.75v3.2h-2.75zM112 58.6h2.75v3.2h-2.75zM118.45 58.6h2.75v3.2h-2.75zM105.55 63.8h2.75v3.2h-2.75zM109.85 66.4h2.75v3.2h-2.75z"/>
<path fill="#3dc990" d="M58.25 45.6h4.9v3.2h-4.9zM116.3 45.6h2.75v3.2h-2.75zM58.25 48.2h2.75v3.2h-2.75zM105.55 56h2.75v3.2h-2.75zM114.15 56h4.9v3.2h-4.9zM73.3 84.6h2.75v3.2h-2.75z"/>
<path fill="#4bcb84" d="M118.45 43h2.75v3.2h-2.75zM124.9 45.6h2.75v3.2h-2.75zM109.85 53.4h2.75v3.2h-2.75zM118.45 56h4.9v3.2h-4.9zM105.55 58.6h2.75v3.2h-2.75zM105.55 61.2h2.75v3.2h-2.75zM109.85 63.8h2.75v3.2h-2.75zM107.7 66.4h2.75v3.2h-2.75z"/>
<path fill="#5ccc76" d="M116.3 53.4h2.75v3.2h-2.75zM122.75 53.4h2.75v3.2h-2.75z"/>
<path fill="#6dcd67" d="M120.6 43h2.75v3.2h-2.75zM116.3 48.2h2.75v3.2h-2.75zM116.3 50.8h2.75v3.2h-2.75zM107.7 53.4h2.75v3.2h-2.75zM109.85 56h2.75v3.2h-2.75z"/>
<path fill="#81cc59" d="M109.85 58.6h2.75v3.2h-2.75zM109.85 61.2h2.75v3.2h-2.75z"/>
<path fill="#94ca4a" d="M122.75 43h2.75v3.2h-2.75zM118.45 53.4h2.75v3.2h-2.75zM107.7 63.8h2.75v3.2h-2.75z"/>
<path fill="#a6c83c" d="M118.45 45.6h2.75v3.2h-2.75zM122.75 50.8h2.75v3.2h-2.75zM120.6 53.4h2.75v3.2h-2.75zM107.7 56h2.75v3.2h-2.75z"/>
<path fill="#b8c431" d="M122.75 48.2h2.75v3.2h-2.75zM107.7 58.6h2.75v3.2h-2.75zM107.7 61.2h2.75v3.2h-2.75z"/>
<path fill="#d7be28" d="M118.45 48.2h2.75v3.2h-2.75zM118.45 50.8h2.75v3.2h-2.75z"/>
<path fill="#e5bb2d" d="M120.6 45.6h2.75v3.2h-2.75z"/>
<path fill="#f1ba37" d="M120.6 50.8h2.75v3.2h-2.75z"/>
<path fill="#fbbc3d" d="M120.6 48.2h2.75v3.2h-2.75z"/>
<path fill="#feca33" d="M122.75 45.6h2.75v3.2h-2.75z"/>
</g>
<use href="#qh" fill="none" stroke="#0a0a0a" stroke-width="0.95" stroke-linejoin="round"/>
<rect x="0" y="0" width="137.2" height="104.2" fill="none" stroke="#999" stroke-width="0.9"/>
<path d="M18.92 104.2v-1.4M18.92 0v1.4M61.92 104.2v-1.4M61.92 0v1.4M104.92 104.2v-1.4M104.92 0v1.4M0 94.02h1.4M137.2 94.02h-1.4M0 73.22h1.4M137.2 73.22h-1.4M0 52.42h1.4M137.2 52.42h-1.4M0 31.62h1.4M137.2 31.62h-1.4M0 10.82h1.4M137.2 10.82h-1.4" stroke="#888" stroke-width="0.8" fill="none"/>
<text x="18.92" y="115.8" class="t" text-anchor="middle">90</text>
<text x="61.92" y="115.8" class="t" text-anchor="middle">95</text>
<text x="104.92" y="115.8" class="t" text-anchor="middle">100</text>
<text x="-3.1" y="97.12" class="t" text-anchor="end">32</text>
<text x="-3.1" y="76.32" class="t" text-anchor="end">34</text>
<text x="-3.1" y="55.52" class="t" text-anchor="end">36</text>
<text x="-3.1" y="34.72" class="t" text-anchor="end">38</text>
<text x="-3.1" y="13.92" class="t" text-anchor="end">40</text>
<text x="10.6" y="12.3" class="p">(h)</text>
<rect x="142.4" y="11" width="10.8" height="93.8" fill="url(#pg)" stroke="#999" stroke-width="0.4"/>
<text x="157.4" y="108.1" class="t">0</text>
<text x="157.4" y="81.45" class="t">5</text>
<text x="157.4" y="54.8" class="t">10</text>
<text x="157.4" y="28.16" class="t">15</text>
<text x="150" y="6.4" class="m" text-anchor="middle">(mm)</text>
</g>
<g transform="translate(377.3 265.7)">
<g clip-path="url(#cq)" shape-rendering="crispEdges">
<path fill="#4331c7" d="M122.75 45.6h2.75v3.2h-2.75z"/>
<path fill="#4744e9" d="M120.6 45.6h2.75v3.2h-2.75z"/>
<path fill="#484cef" d="M103.4 63.8h4.9v3.2h-4.9zM105.55 66.4h2.75v3.2h-2.75z"/>
<path fill="#4853f5" d="M122.75 43h2.75v3.2h-2.75zM122.75 48.2h2.75v3.2h-2.75zM58.25 53.4h2.75v3.2h-2.75zM116.3 53.4h4.9v3.2h-4.9zM116.3 56h4.9v3.2h-4.9zM105.55 61.2h2.75v3.2h-2.75zM103.4 66.4h2.75v3.2h-2.75z"/>
<path fill="#475bf9" d="M120.6 43h2.75v3.2h-2.75zM124.9 45.6h2.75v3.2h-2.75zM120.6 48.2h2.75v3.2h-2.75zM116.3 50.8h4.9v3.2h-4.9zM56.1 53.4h2.75v3.2h-2.75zM60.4 53.4h2.75v3.2h-2.75zM120.6 53.4h2.75v3.2h-2.75zM103.4 61.2h2.75v3.2h-2.75zM107.7 63.8h2.75v3.2h-2.75z"/>
<path fill="#4562fc" d="M118.45 48.2h2.75v3.2h-2.75zM58.25 50.8h4.9v3.2h-4.9zM114.15 50.8h2.75v3.2h-2.75zM114.15 53.4h2.75v3.2h-2.75zM114.15 56h2.75v3.2h-2.75zM118.45 58.6h2.75v3.2h-2.75zM107.7 66.4h2.75v3.2h-2.75z"/>
<path fill="#426afe" d="M114.15 48.2h4.9v3.2h-4.9zM56.1 50.8h2.75v3.2h-2.75zM62.55 50.8h2.75v3.2h-2.75zM71.15 50.8h4.9v3.2h-4.9zM120.6 50.8h2.75v3.2h-2.75zM53.95 53.4h2.75v3.2h-2.75zM62.55 53.4h2.75v3.2h-2.75zM73.3 53.4h2.75v3.2h-2.75zM109.85 53.4h4.9v3.2h-4.9zM58.25 56h2.75v3.2h-2.75zM109.85 56h2.75v3.2h-2.75zM120.6 56h2.75v3.2h-2.75zM105.55 58.6h4.9v3.2h-4.9zM112 58.6h2.75v3.2h-2.75zM107.7 61.2h4.9v3.2h-4.9zM105.55 69h2.75v3.2h-2.75z"/>
<path fill="#3c72ff" d="M124.9 43h2.75v3.2h-2.75zM112 45.6h2.75v3.2h-2.75zM116.3 45.6h4.9v3.2h-4.9zM71.15 48.2h2.75v3.2h-2.75zM109.85 48.2h4.9v3.2h-4.9zM53.95 50.8h2.75v3.2h-2.75zM69 50.8h2.75v3.2h-2.75zM109.85 50.8h4.9v3.2h-4.9zM122.75 50.8h2.75v3.2h-2.75zM64.7 53.4h2.75v3.2h-2.75zM71.15 53.4h2.75v3.2h-2.75zM107.7 53.4h2.75v3.2h-2.75zM56.1 56h2.75v3.2h-2.75zM60.4 56h4.9v3.2h-4.9zM105.55 56h2.75v3.2h-2.75zM112 56h2.75v3.2h-2.75zM103.4 58.6h2.75v3.2h-2.75zM109.85 58.6h2.75v3.2h-2.75zM114.15 58.6h4.9v3.2h-4.9zM101.25 63.8h2.75v3.2h-2.75zM109.85 63.8h2.75v3.2h-2.75zM101.25 66.4h2.75v3.2h-2.75zM103.4 69h2.75v3.2h-2.75z"/>
<path fill="#347afd" d="M120.6 40.4h2.75v3.2h-2.75zM112 43h4.9v3.2h-4.9zM114.15 45.6h2.75v3.2h-2.75zM73.3 48.2h2.75v3.2h-2.75zM124.9 48.2h2.75v3.2h-2.75zM64.7 50.8h2.75v3.2h-2.75zM75.45 50.8h2.75v3.2h-2.75zM107.7 50.8h2.75v3.2h-2.75zM66.85 53.4h4.9v3.2h-4.9zM53.95 56h2.75v3.2h-2.75zM73.3 56h2.75v3.2h-2.75zM103.4 56h2.75v3.2h-2.75zM107.7 56h2.75v3.2h-2.75zM101.25 61.2h2.75v3.2h-2.75zM112 61.2h9.2v3.2h-9.2zM112 63.8h2.75v3.2h-2.75zM109.85 66.4h2.75v3.2h-2.75zM107.7 69h2.75v3.2h-2.75zM73.3 84.6h2.75v3.2h-2.75zM73.3 87.2h2.75v3.2h-2.75z"/>
<path fill="#2f82fa" d="M122.75 40.4h2.75v3.2h-2.75zM116.3 43h4.9v3.2h-4.9zM109.85 45.6h2.75v3.2h-2.75zM56.1 48.2h7.05v3.2h-7.05zM69 48.2h2.75v3.2h-2.75zM107.7 48.2h2.75v3.2h-2.75zM66.85 50.8h2.75v3.2h-2.75zM105.55 50.8h2.75v3.2h-2.75zM75.45 53.4h2.75v3.2h-2.75zM105.55 53.4h2.75v3.2h-2.75zM64.7 56h9.2v3.2h-9.2zM56.1 58.6h2.75v3.2h-2.75zM60.4 58.6h4.9v3.2h-4.9zM120.6 58.6h2.75v3.2h-2.75zM114.15 63.8h2.75v3.2h-2.75zM114.15 66.4h2.75v3.2h-2.75zM105.55 71.6h2.75v3.2h-2.75zM73.3 82h2.75v3.2h-2.75zM71.15 84.6h2.75v3.2h-2.75zM75.45 84.6h2.75v3.2h-2.75zM71.15 87.2h2.75v3.2h-2.75z"/>
<path fill="#2d89f5" d="M112 32.6h2.75v3.2h-2.75zM116.3 37.8h2.75v3.2h-2.75zM112 40.4h9.2v3.2h-9.2zM124.9 40.4h2.75v3.2h-2.75zM109.85 43h2.75v3.2h-2.75zM107.7 45.6h2.75v3.2h-2.75zM53.95 48.2h2.75v3.2h-2.75zM62.55 48.2h4.9v3.2h-4.9zM75.45 48.2h2.75v3.2h-2.75zM105.55 48.2h2.75v3.2h-2.75zM51.8 50.8h2.75v3.2h-2.75zM103.4 50.8h2.75v3.2h-2.75zM51.8 53.4h2.75v3.2h-2.75zM103.4 53.4h2.75v3.2h-2.75zM122.75 53.4h2.75v3.2h-2.75zM75.45 56h2.75v3.2h-2.75zM101.25 56h2.75v3.2h-2.75zM122.75 56h2.75v3.2h-2.75zM58.25 58.6h2.75v3.2h-2.75zM69 58.6h7.05v3.2h-7.05zM101.25 58.6h2.75v3.2h-2.75zM60.4 61.2h7.05v3.2h-7.05zM62.55 63.8h2.75v3.2h-2.75zM116.3 63.8h4.9v3.2h-4.9zM62.55 66.4h2.75v3.2h-2.75zM66.85 66.4h2.75v3.2h-2.75zM112 66.4h2.75v3.2h-2.75zM64.7 69h7.05v3.2h-7.05zM101.25 69h2.75v3.2h-2.75zM109.85 69h2.75v3.2h-2.75zM116.3 69h2.75v3.2h-2.75zM62.55 71.6h9.2v3.2h-9.2zM107.7 71.6h2.75v3.2h-2.75zM62.55 74.2h7.05v3.2h-7.05zM71.15 74.2h2.75v3.2h-2.75zM62.55 76.8h2.75v3.2h-2.75zM64.7 79.4h2.75v3.2h-2.75zM69 79.4h2.75v3.2h-2.75zM73.3 79.4h2.75v3.2h-2.75zM64.7 82h2.75v3.2h-2.75zM71.15 82h2.75v3.2h-2.75zM69 84.6h2.75v3.2h-2.75zM69 87.2h2.75v3.2h-2.75zM75.45 87.2h2.75v3.2h-2.75z"/>
<path fill="#2c90f0" d="M101.25 30h2.75v3.2h-2.75zM109.85 30h2.75v3.2h-2.75zM107.7 32.6h4.9v3.2h-4.9zM114.15 32.6h2.75v3.2h-2.75zM114.15 35.2h4.9v3.2h-4.9zM112 37.8h4.9v3.2h-4.9zM118.45 37.8h4.9v3.2h-4.9zM109.85 40.4h2.75v3.2h-2.75zM107.7 43h2.75v3.2h-2.75zM71.15 45.6h4.9v3.2h-4.9zM105.55 45.6h2.75v3.2h-2.75zM127.05 45.6h2.75v3.2h-2.75zM103.4 48.2h2.75v3.2h-2.75zM124.9 50.8h2.75v3.2h-2.75zM49.65 53.4h2.75v3.2h-2.75zM101.25 53.4h2.75v3.2h-2.75zM49.65 56h4.9v3.2h-4.9zM77.6 56h2.75v3.2h-2.75zM51.8 58.6h4.9v3.2h-4.9zM64.7 58.6h4.9v3.2h-4.9zM75.45 58.6h2.75v3.2h-2.75zM122.75 58.6h2.75v3.2h-2.75zM53.95 61.2h7.05v3.2h-7.05zM66.85 61.2h2.75v3.2h-2.75zM71.15 61.2h2.75v3.2h-2.75zM56.1 63.8h4.9v3.2h-4.9zM64.7 63.8h9.2v3.2h-9.2zM56.1 66.4h7.05v3.2h-7.05zM64.7 66.4h2.75v3.2h-2.75zM69 66.4h4.9v3.2h-4.9zM116.3 66.4h4.9v3.2h-4.9zM56.1 69h9.2v3.2h-9.2zM73.3 69h2.75v3.2h-2.75zM118.45 69h2.75v3.2h-2.75zM56.1 71.6h7.05v3.2h-7.05zM71.15 71.6h4.9v3.2h-4.9zM101.25 71.6h4.9v3.2h-4.9zM109.85 71.6h2.75v3.2h-2.75zM58.25 74.2h4.9v3.2h-4.9zM69 74.2h2.75v3.2h-2.75zM103.4 74.2h7.05v3.2h-7.05zM114.15 74.2h2.75v3.2h-2.75zM58.25 76.8h2.75v3.2h-2.75zM64.7 76.8h4.9v3.2h-4.9zM71.15 76.8h7.05v3.2h-7.05zM60.4 79.4h2.75v3.2h-2.75zM66.85 79.4h2.75v3.2h-2.75zM71.15 79.4h2.75v3.2h-2.75zM62.55 82h2.75v3.2h-2.75zM66.85 82h4.9v3.2h-4.9zM75.45 82h2.75v3.2h-2.75zM64.7 84.6h4.9v3.2h-4.9zM77.6 84.6h2.75v3.2h-2.75zM66.85 87.2h2.75v3.2h-2.75zM77.6 87.2h2.75v3.2h-2.75zM66.85 89.8h4.9v3.2h-4.9zM73.3 89.8h7.05v3.2h-7.05zM71.15 92.4h2.75v3.2h-2.75z"/>
<path fill="#2797eb" d="M99.1 30h2.75v3.2h-2.75zM103.4 30h7.05v3.2h-7.05zM109.85 35.2h4.9v3.2h-4.9zM118.45 35.2h4.9v3.2h-4.9zM109.85 37.8h2.75v3.2h-2.75zM122.75 37.8h2.75v3.2h-2.75zM105.55 43h2.75v3.2h-2.75zM69 45.6h2.75v3.2h-2.75zM75.45 45.6h2.75v3.2h-2.75zM66.85 48.2h2.75v3.2h-2.75zM101.25 48.2h2.75v3.2h-2.75zM49.65 50.8h2.75v3.2h-2.75zM77.6 50.8h2.75v3.2h-2.75zM99.1 50.8h4.9v3.2h-4.9zM47.5 53.4h2.75v3.2h-2.75zM77.6 53.4h2.75v3.2h-2.75zM99.1 53.4h2.75v3.2h-2.75zM124.9 53.4h2.75v3.2h-2.75zM99.1 56h2.75v3.2h-2.75zM47.5 58.6h4.9v3.2h-4.9zM99.1 58.6h2.75v3.2h-2.75zM51.8 61.2h2.75v3.2h-2.75zM69 61.2h2.75v3.2h-2.75zM73.3 61.2h4.9v3.2h-4.9zM99.1 61.2h2.75v3.2h-2.75zM51.8 63.8h4.9v3.2h-4.9zM60.4 63.8h2.75v3.2h-2.75zM73.3 63.8h4.9v3.2h-4.9zM99.1 63.8h2.75v3.2h-2.75zM51.8 66.4h4.9v3.2h-4.9zM73.3 66.4h4.9v3.2h-4.9zM99.1 66.4h2.75v3.2h-2.75zM71.15 69h2.75v3.2h-2.75zM75.45 69h2.75v3.2h-2.75zM75.45 71.6h2.75v3.2h-2.75zM99.1 71.6h2.75v3.2h-2.75zM73.3 74.2h4.9v3.2h-4.9zM109.85 74.2h4.9v3.2h-4.9zM60.4 76.8h2.75v3.2h-2.75zM69 76.8h2.75v3.2h-2.75zM77.6 76.8h2.75v3.2h-2.75zM81.9 76.8h2.75v3.2h-2.75zM101.25 76.8h2.75v3.2h-2.75zM107.7 76.8h4.9v3.2h-4.9zM114.15 76.8h4.9v3.2h-4.9zM62.55 79.4h2.75v3.2h-2.75zM75.45 79.4h7.05v3.2h-7.05zM94.8 79.4h2.75v3.2h-2.75zM99.1 79.4h2.75v3.2h-2.75zM103.4 79.4h7.05v3.2h-7.05zM77.6 82h2.75v3.2h-2.75zM81.9 82h2.75v3.2h-2.75zM99.1 82h2.75v3.2h-2.75zM105.55 82h4.9v3.2h-4.9zM79.75 84.6h2.75v3.2h-2.75zM79.75 87.2h2.75v3.2h-2.75zM71.15 89.8h2.75v3.2h-2.75z"/>
<path fill="#259de7" d="M92.65 30h4.9v3.2h-4.9zM99.1 32.6h9.2v3.2h-9.2zM107.7 35.2h2.75v3.2h-2.75zM107.7 40.4h2.75v3.2h-2.75zM58.25 45.6h7.05v3.2h-7.05zM103.4 45.6h2.75v3.2h-2.75zM51.8 48.2h2.75v3.2h-2.75zM77.6 48.2h2.75v3.2h-2.75zM99.1 48.2h2.75v3.2h-2.75zM43.2 53.4h4.9v3.2h-4.9zM96.95 53.4h2.75v3.2h-2.75zM45.35 56h4.9v3.2h-4.9zM96.95 56h2.75v3.2h-2.75zM77.6 58.6h4.9v3.2h-4.9zM49.65 61.2h2.75v3.2h-2.75zM49.65 63.8h2.75v3.2h-2.75zM77.6 63.8h2.75v3.2h-2.75zM53.95 69h2.75v3.2h-2.75zM77.6 71.6h4.9v3.2h-4.9zM77.6 74.2h7.05v3.2h-7.05zM96.95 74.2h7.05v3.2h-7.05zM79.75 76.8h2.75v3.2h-2.75zM92.65 76.8h2.75v3.2h-2.75zM96.95 76.8h4.9v3.2h-4.9zM103.4 76.8h4.9v3.2h-4.9zM112 76.8h2.75v3.2h-2.75zM81.9 79.4h2.75v3.2h-2.75zM96.95 79.4h2.75v3.2h-2.75zM101.25 79.4h2.75v3.2h-2.75zM79.75 82h2.75v3.2h-2.75zM96.95 82h2.75v3.2h-2.75zM101.25 82h4.9v3.2h-4.9zM81.9 84.6h2.75v3.2h-2.75zM105.55 84.6h4.9v3.2h-4.9zM107.7 87.2h2.75v3.2h-2.75zM69 92.4h2.75v3.2h-2.75zM73.3 92.4h2.75v3.2h-2.75z"/>
<path fill="#21a3e3" d="M86.2 27.4h2.75v3.2h-2.75zM96.95 30h2.75v3.2h-2.75zM94.8 32.6h4.9v3.2h-4.9zM107.7 37.8h2.75v3.2h-2.75zM71.15 43h2.75v3.2h-2.75zM103.4 43h2.75v3.2h-2.75zM56.1 45.6h2.75v3.2h-2.75zM64.7 45.6h4.9v3.2h-4.9zM99.1 45.6h4.9v3.2h-4.9zM49.65 48.2h2.75v3.2h-2.75zM96.95 48.2h2.75v3.2h-2.75zM127.05 48.2h2.75v3.2h-2.75zM41.05 50.8h2.75v3.2h-2.75zM45.35 50.8h4.9v3.2h-4.9zM79.75 50.8h2.75v3.2h-2.75zM96.95 50.8h2.75v3.2h-2.75zM79.75 53.4h2.75v3.2h-2.75zM84.05 53.4h2.75v3.2h-2.75zM90.5 53.4h7.05v3.2h-7.05zM79.75 56h4.9v3.2h-4.9zM86.2 56h2.75v3.2h-2.75zM81.9 58.6h2.75v3.2h-2.75zM96.95 58.6h2.75v3.2h-2.75zM77.6 61.2h2.75v3.2h-2.75zM79.75 63.8h2.75v3.2h-2.75zM77.6 66.4h2.75v3.2h-2.75zM77.6 69h4.9v3.2h-4.9zM99.1 69h2.75v3.2h-2.75zM81.9 71.6h2.75v3.2h-2.75zM96.95 71.6h2.75v3.2h-2.75zM92.65 74.2h4.9v3.2h-4.9zM94.8 76.8h2.75v3.2h-2.75z"/>
<path fill="#1da9e0" d="M77.6 27.4h2.75v3.2h-2.75zM81.9 27.4h4.9v3.2h-4.9zM84.05 30h9.2v3.2h-9.2zM92.65 32.6h2.75v3.2h-2.75zM99.1 35.2h4.9v3.2h-4.9zM105.55 35.2h2.75v3.2h-2.75zM105.55 40.4h2.75v3.2h-2.75zM66.85 43h4.9v3.2h-4.9zM73.3 43h2.75v3.2h-2.75zM53.95 45.6h2.75v3.2h-2.75zM77.6 45.6h2.75v3.2h-2.75zM96.95 45.6h2.75v3.2h-2.75zM47.5 48.2h2.75v3.2h-2.75zM94.8 48.2h2.75v3.2h-2.75zM43.2 50.8h2.75v3.2h-2.75zM92.65 50.8h4.9v3.2h-4.9zM81.9 53.4h2.75v3.2h-2.75zM86.2 53.4h2.75v3.2h-2.75zM84.05 56h2.75v3.2h-2.75zM88.35 56h9.2v3.2h-9.2zM84.05 58.6h2.75v3.2h-2.75zM92.65 58.6h4.9v3.2h-4.9zM79.75 61.2h2.75v3.2h-2.75zM79.75 66.4h2.75v3.2h-2.75zM96.95 66.4h2.75v3.2h-2.75zM94.8 71.6h2.75v3.2h-2.75z"/>
<path fill="#17aeda" d="M64.7 24.8h2.75v3.2h-2.75zM73.3 27.4h4.9v3.2h-4.9zM79.75 27.4h2.75v3.2h-2.75zM75.45 30h4.9v3.2h-4.9zM81.9 30h2.75v3.2h-2.75zM81.9 32.6h2.75v3.2h-2.75zM90.5 32.6h2.75v3.2h-2.75zM94.8 35.2h4.9v3.2h-4.9zM103.4 35.2h2.75v3.2h-2.75zM101.25 37.8h7.05v3.2h-7.05zM69 40.4h2.75v3.2h-2.75zM60.4 43h7.05v3.2h-7.05zM99.1 43h4.9v3.2h-4.9zM51.8 45.6h2.75v3.2h-2.75zM43.2 48.2h4.9v3.2h-4.9zM79.75 48.2h2.75v3.2h-2.75zM92.65 48.2h2.75v3.2h-2.75zM81.9 50.8h4.9v3.2h-4.9zM90.5 50.8h2.75v3.2h-2.75zM88.35 53.4h2.75v3.2h-2.75zM86.2 58.6h7.05v3.2h-7.05zM81.9 61.2h4.9v3.2h-4.9zM96.95 61.2h2.75v3.2h-2.75zM81.9 63.8h2.75v3.2h-2.75zM96.95 63.8h2.75v3.2h-2.75zM81.9 66.4h2.75v3.2h-2.75zM81.9 69h2.75v3.2h-2.75zM94.8 69h4.9v3.2h-4.9zM84.05 71.6h4.9v3.2h-4.9zM92.65 71.6h2.75v3.2h-2.75z"/>
<path fill="#0cb3d3" d="M58.25 24.8h2.75v3.2h-2.75zM62.55 24.8h2.75v3.2h-2.75zM71.15 27.4h2.75v3.2h-2.75zM66.85 30h2.75v3.2h-2.75zM71.15 30h4.9v3.2h-4.9zM79.75 30h2.75v3.2h-2.75zM71.15 32.6h11.35v3.2h-11.35zM84.05 32.6h7.05v3.2h-7.05zM71.15 35.2h2.75v3.2h-2.75zM75.45 35.2h4.9v3.2h-4.9zM88.35 35.2h7.05v3.2h-7.05zM71.15 37.8h4.9v3.2h-4.9zM94.8 37.8h4.9v3.2h-4.9zM71.15 40.4h4.9v3.2h-4.9zM94.8 40.4h2.75v3.2h-2.75zM99.1 40.4h2.75v3.2h-2.75zM103.4 40.4h2.75v3.2h-2.75zM53.95 43h7.05v3.2h-7.05zM75.45 43h4.9v3.2h-4.9zM94.8 43h4.9v3.2h-4.9zM38.9 45.6h4.9v3.2h-4.9zM49.65 45.6h2.75v3.2h-2.75zM94.8 45.6h2.75v3.2h-2.75zM38.9 48.2h4.9v3.2h-4.9zM86.2 50.8h4.9v3.2h-4.9zM86.2 61.2h2.75v3.2h-2.75zM92.65 61.2h4.9v3.2h-4.9zM84.05 69h4.9v3.2h-4.9zM88.35 71.6h4.9v3.2h-4.9z"/>
<path fill="#02b7cb" d="M51.8 24.8h4.9v3.2h-4.9zM60.4 24.8h2.75v3.2h-2.75zM26 27.4h2.75v3.2h-2.75zM64.7 27.4h7.05v3.2h-7.05zM62.55 30h4.9v3.2h-4.9zM69 30h2.75v3.2h-2.75zM69 32.6h2.75v3.2h-2.75zM66.85 35.2h4.9v3.2h-4.9zM73.3 35.2h2.75v3.2h-2.75zM79.75 35.2h2.75v3.2h-2.75zM75.45 37.8h4.9v3.2h-4.9zM92.65 37.8h2.75v3.2h-2.75zM99.1 37.8h2.75v3.2h-2.75zM60.4 40.4h9.2v3.2h-9.2zM75.45 40.4h4.9v3.2h-4.9zM92.65 40.4h2.75v3.2h-2.75zM96.95 40.4h2.75v3.2h-2.75zM101.25 40.4h2.75v3.2h-2.75zM43.2 45.6h7.05v3.2h-7.05zM92.65 45.6h2.75v3.2h-2.75zM81.9 48.2h2.75v3.2h-2.75zM86.2 48.2h7.05v3.2h-7.05zM88.35 61.2h4.9v3.2h-4.9zM94.8 63.8h2.75v3.2h-2.75zM84.05 66.4h2.75v3.2h-2.75zM92.65 69h2.75v3.2h-2.75z"/>
<path fill="#03bbc2" d="M36.75 24.8h7.05v3.2h-7.05zM45.35 24.8h7.05v3.2h-7.05zM56.1 24.8h2.75v3.2h-2.75zM28.15 27.4h4.9v3.2h-4.9zM58.25 27.4h7.05v3.2h-7.05zM28.15 30h2.75v3.2h-2.75zM66.85 32.6h2.75v3.2h-2.75zM62.55 35.2h2.75v3.2h-2.75zM81.9 35.2h7.05v3.2h-7.05zM60.4 37.8h11.35v3.2h-11.35zM81.9 37.8h2.75v3.2h-2.75zM90.5 37.8h2.75v3.2h-2.75zM56.1 40.4h4.9v3.2h-4.9zM79.75 40.4h2.75v3.2h-2.75zM36.75 43h4.9v3.2h-4.9zM49.65 43h4.9v3.2h-4.9zM79.75 43h2.75v3.2h-2.75zM92.65 43h2.75v3.2h-2.75zM79.75 45.6h2.75v3.2h-2.75zM88.35 45.6h2.75v3.2h-2.75zM84.05 48.2h2.75v3.2h-2.75zM84.05 63.8h2.75v3.2h-2.75zM92.65 63.8h2.75v3.2h-2.75zM94.8 66.4h2.75v3.2h-2.75zM88.35 69h4.9v3.2h-4.9z"/>
<path fill="#12beb9" d="M43.2 24.8h2.75v3.2h-2.75zM32.45 27.4h7.05v3.2h-7.05zM49.65 27.4h2.75v3.2h-2.75zM56.1 27.4h2.75v3.2h-2.75zM30.3 30h4.9v3.2h-4.9zM60.4 30h2.75v3.2h-2.75zM30.3 32.6h4.9v3.2h-4.9zM60.4 32.6h7.05v3.2h-7.05zM60.4 35.2h2.75v3.2h-2.75zM64.7 35.2h2.75v3.2h-2.75zM32.45 37.8h2.75v3.2h-2.75zM58.25 37.8h2.75v3.2h-2.75zM79.75 37.8h2.75v3.2h-2.75zM84.05 37.8h2.75v3.2h-2.75zM88.35 37.8h2.75v3.2h-2.75zM34.6 40.4h2.75v3.2h-2.75zM38.9 40.4h2.75v3.2h-2.75zM43.2 40.4h2.75v3.2h-2.75zM49.65 40.4h2.75v3.2h-2.75zM53.95 40.4h2.75v3.2h-2.75zM81.9 40.4h2.75v3.2h-2.75zM86.2 40.4h7.05v3.2h-7.05zM41.05 43h9.2v3.2h-9.2zM81.9 43h2.75v3.2h-2.75zM81.9 45.6h4.9v3.2h-4.9zM90.5 45.6h2.75v3.2h-2.75zM127.05 50.8h2.75v3.2h-2.75zM86.2 63.8h2.75v3.2h-2.75zM90.5 63.8h2.75v3.2h-2.75zM86.2 66.4h2.75v3.2h-2.75zM90.5 66.4h4.9v3.2h-4.9z"/>
<path fill="#22c1b0" d="M38.9 27.4h4.9v3.2h-4.9zM45.35 27.4h4.9v3.2h-4.9zM51.8 27.4h4.9v3.2h-4.9zM34.6 30h7.05v3.2h-7.05zM49.65 30h2.75v3.2h-2.75zM58.25 30h2.75v3.2h-2.75zM34.6 32.6h4.9v3.2h-4.9zM56.1 32.6h2.75v3.2h-2.75zM30.3 35.2h2.75v3.2h-2.75zM58.25 35.2h2.75v3.2h-2.75zM56.1 37.8h2.75v3.2h-2.75zM86.2 37.8h2.75v3.2h-2.75zM36.75 40.4h2.75v3.2h-2.75zM45.35 40.4h4.9v3.2h-4.9zM51.8 40.4h2.75v3.2h-2.75zM84.05 43h2.75v3.2h-2.75zM88.35 43h4.9v3.2h-4.9zM86.2 45.6h2.75v3.2h-2.75zM88.35 63.8h2.75v3.2h-2.75zM88.35 66.4h2.75v3.2h-2.75z"/>
<path fill="#2cc4a6" d="M43.2 27.4h2.75v3.2h-2.75zM41.05 30h9.2v3.2h-9.2zM51.8 30h7.05v3.2h-7.05zM43.2 32.6h2.75v3.2h-2.75zM51.8 32.6h4.9v3.2h-4.9zM58.25 32.6h2.75v3.2h-2.75zM32.45 35.2h2.75v3.2h-2.75zM36.75 35.2h2.75v3.2h-2.75zM53.95 35.2h4.9v3.2h-4.9zM34.6 37.8h9.2v3.2h-9.2zM49.65 37.8h7.05v3.2h-7.05zM41.05 40.4h2.75v3.2h-2.75zM84.05 40.4h2.75v3.2h-2.75zM86.2 43h2.75v3.2h-2.75z"/>
<path fill="#34c79c" d="M38.9 32.6h4.9v3.2h-4.9zM45.35 32.6h4.9v3.2h-4.9zM34.6 35.2h2.75v3.2h-2.75zM38.9 35.2h7.05v3.2h-7.05zM47.5 35.2h7.05v3.2h-7.05zM43.2 37.8h7.05v3.2h-7.05z"/>
<path fill="#3dc990" d="M49.65 32.6h2.75v3.2h-2.75zM45.35 35.2h2.75v3.2h-2.75z"/>
</g>
<use href="#qh" fill="none" stroke="#0a0a0a" stroke-width="0.95" stroke-linejoin="round"/>
<rect x="0" y="0" width="137.2" height="104.2" fill="none" stroke="#999" stroke-width="0.9"/>
<path d="M18.92 104.2v-1.4M18.92 0v1.4M61.92 104.2v-1.4M61.92 0v1.4M104.92 104.2v-1.4M104.92 0v1.4M0 94.02h1.4M137.2 94.02h-1.4M0 73.22h1.4M137.2 73.22h-1.4M0 52.42h1.4M137.2 52.42h-1.4M0 31.62h1.4M137.2 31.62h-1.4M0 10.82h1.4M137.2 10.82h-1.4" stroke="#888" stroke-width="0.8" fill="none"/>
<text x="18.92" y="115.8" class="t" text-anchor="middle">90</text>
<text x="61.92" y="115.8" class="t" text-anchor="middle">95</text>
<text x="104.92" y="115.8" class="t" text-anchor="middle">100</text>
<text x="-3.1" y="97.12" class="t" text-anchor="end">32</text>
<text x="-3.1" y="76.32" class="t" text-anchor="end">34</text>
<text x="-3.1" y="55.52" class="t" text-anchor="end">36</text>
<text x="-3.1" y="34.72" class="t" text-anchor="end">38</text>
<text x="-3.1" y="13.92" class="t" text-anchor="end">40</text>
<text x="10.6" y="12.3" class="p">(i)</text>
<rect x="142.4" y="11" width="10.8" height="93.8" fill="url(#pg)" stroke="#999" stroke-width="0.4"/>
<text x="157.4" y="90.51" class="t">-5</text>
<text x="157.4" y="61.2" class="t">0</text>
<text x="157.4" y="31.89" class="t">5</text>
<text x="148.8" y="6.4" class="m" text-anchor="middle">(mm)</text>
</g>
<g transform="translate(35.5 388)">
<g clip-path="url(#cq)" shape-rendering="crispEdges">
<path fill="#475bf9" d="M70.72 27.92h12.64v2.68h-12.64zM70.72 30h14.36v2.68h-14.36zM70.72 32.08h12.64v2.68h-12.64zM24.28 59.12h17.8v2.68h-17.8zM19.12 61.2h26.4v2.68h-26.4zM17.4 63.28h31.56v2.68h-31.56zM15.68 65.36h35v2.68h-35zM15.68 67.44h36.72v2.68h-36.72zM15.68 69.52h36.72v2.68h-36.72zM15.68 71.6h36.72v2.68h-36.72zM15.68 73.68h36.72v2.68h-36.72zM17.4 75.76h35v2.68h-35zM19.12 77.84h31.56v2.68h-31.56zM20.84 79.92h26.4v2.68h-26.4zM31.16 82h12.64v2.68h-12.64zM32.88 84.08h4.04v2.68h-4.04z"/>
<path fill="#4562fc" d="M55.24 15.44h4.04v2.68h-4.04zM60.4 17.52h5.76v2.68h-5.76zM77.6 17.52h7.48v2.68h-7.48zM63.84 19.6h5.76v2.68h-5.76zM77.6 19.6h9.2v2.68h-9.2zM87.92 19.6h10.92v2.68h-10.92zM65.56 21.68h5.76v2.68h-5.76zM77.6 21.68h22.96v2.68h-22.96zM65.56 23.76h9.2v2.68h-9.2zM77.6 23.76h26.4v2.68h-26.4zM63.84 25.84h45.32v2.68h-45.32zM63.84 27.92h7.48v2.68h-7.48zM82.76 27.92h28.12v2.68h-28.12zM63.84 30h7.48v2.68h-7.48zM84.48 30h29.84v2.68h-29.84zM65.56 32.08h5.76v2.68h-5.76zM82.76 32.08h35v2.68h-35zM69 34.16h47.04v2.68h-47.04zM99.96 36.24h14.36v2.68h-14.36zM17.4 48.72h21.24v2.68h-21.24zM12.24 50.8h45.32v2.68h-45.32zM12.24 52.88h57.36v2.68h-57.36zM13.96 54.96h67.68v2.68h-67.68zM13.96 57.04h83.16v2.68h-83.16zM13.96 59.12h10.92v2.68h-10.92zM41.48 59.12h69.4v2.68h-69.4zM13.96 61.2h5.76v2.68h-5.76zM44.92 61.2h69.4v2.68h-69.4zM13.96 63.28h4.04v2.68h-4.04zM48.36 63.28h69.4v2.68h-69.4zM50.08 65.36h69.4v2.68h-69.4zM51.8 67.44h71.12v2.68h-71.12zM51.8 69.52h71.12v2.68h-71.12zM51.8 71.6h62.52v2.68h-62.52zM117.16 71.6h4.04v2.68h-4.04zM51.8 73.68h65.96v2.68h-65.96zM51.8 75.76h33.28v2.68h-33.28zM91.36 75.76h28.12v2.68h-28.12zM50.08 77.84h36.72v2.68h-36.72zM93.08 77.84h26.4v2.68h-26.4zM46.64 79.92h40.16v2.68h-40.16zM93.08 79.92h26.4v2.68h-26.4zM43.2 82h41.88v2.68h-41.88zM94.8 82h22.96v2.68h-22.96zM36.32 84.08h48.76v2.68h-48.76zM98.24 84.08h17.8v2.68h-17.8zM41.48 86.16h43.6v2.68h-43.6zM105.12 86.16h9.2v2.68h-9.2zM48.36 88.24h5.76v2.68h-5.76zM58.68 88.24h26.4v2.68h-26.4zM106.84 88.24h4.04v2.68h-4.04zM62.12 90.32h21.24v2.68h-21.24zM63.84 92.4h16.08v2.68h-16.08zM63.84 94.48h14.36v2.68h-14.36zM69 96.56h4.04v2.68h-4.04z"/>
<path fill="#426afe" d="M50.08 15.44h5.76v2.68h-5.76zM41.48 17.52h19.52v2.68h-19.52zM50.08 19.6h14.36v2.68h-14.36zM55.24 21.68h10.92v2.68h-10.92zM56.96 23.76h9.2v2.68h-9.2zM58.68 25.84h5.76v2.68h-5.76zM58.68 27.92h5.76v2.68h-5.76zM60.4 30h4.04v2.68h-4.04zM62.12 32.08h4.04v2.68h-4.04zM63.84 34.16h5.76v2.68h-5.76zM115.44 34.16h7.48v2.68h-7.48zM70.72 36.24h29.84v2.68h-29.84zM113.72 36.24h5.76v2.68h-5.76zM94.8 38.32h22.96v2.68h-22.96zM105.12 40.4h10.92v2.68h-10.92zM24.28 44.56h2.32v2.68h-2.32zM26 46.64h21.24v2.68h-21.24zM38.04 48.72h22.96v2.68h-22.96zM56.96 50.8h17.8v2.68h-17.8zM69 52.88h19.52v2.68h-19.52zM81.04 54.96h22.96v2.68h-22.96zM96.52 57.04h17.8v2.68h-17.8zM110.28 59.12h7.48v2.68h-7.48zM113.72 61.2h7.48v2.68h-7.48zM117.16 63.28h5.76v2.68h-5.76zM118.88 65.36h4.04v2.68h-4.04z"/>
<path fill="#3c72ff" d="M39.76 17.52h2.32v2.68h-2.32zM38.04 19.6h12.64v2.68h-12.64zM46.64 21.68h9.2v2.68h-9.2zM51.8 23.76h5.76v2.68h-5.76zM53.52 25.84h5.76v2.68h-5.76zM55.24 27.92h4.04v2.68h-4.04zM56.96 30h4.04v2.68h-4.04zM58.68 32.08h4.04v2.68h-4.04zM60.4 34.16h4.04v2.68h-4.04zM65.56 36.24h5.76v2.68h-5.76zM118.88 36.24h5.76v2.68h-5.76zM79.32 38.32h16.08v2.68h-16.08zM117.16 38.32h4.04v2.68h-4.04zM96.52 40.4h9.2v2.68h-9.2zM115.44 40.4h2.32v2.68h-2.32zM24.28 42.48h2.32v2.68h-2.32zM106.84 42.48h9.2v2.68h-9.2zM26 44.56h17.8v2.68h-17.8zM46.64 46.64h12.64v2.68h-12.64zM60.4 48.72h10.92v2.68h-10.92zM74.16 50.8h10.92v2.68h-10.92zM87.92 52.88h14.36v2.68h-14.36zM103.4 54.96h10.92v2.68h-10.92zM113.72 57.04h4.04v2.68h-4.04zM117.16 59.12h4.04v2.68h-4.04zM120.6 61.2h4.04v2.68h-4.04z"/>
<path fill="#347afd" d="M32.88 19.6h5.76v2.68h-5.76zM26 21.68h2.32v2.68h-2.32zM38.04 21.68h9.2v2.68h-9.2zM44.92 23.76h7.48v2.68h-7.48zM50.08 25.84h4.04v2.68h-4.04zM51.8 27.92h4.04v2.68h-4.04zM53.52 30h4.04v2.68h-4.04zM53.52 32.08h5.76v2.68h-5.76zM56.96 34.16h4.04v2.68h-4.04zM62.12 36.24h4.04v2.68h-4.04zM70.72 38.32h9.2v2.68h-9.2zM120.6 38.32h7.48v2.68h-7.48zM89.64 40.4h7.48v2.68h-7.48zM117.16 40.4h4.04v2.68h-4.04zM26 42.48h14.36v2.68h-14.36zM99.96 42.48h7.48v2.68h-7.48zM115.44 42.48h4.04v2.68h-4.04zM43.2 44.56h10.92v2.68h-10.92zM108.56 44.56h7.48v2.68h-7.48zM58.68 46.64h7.48v2.68h-7.48zM70.72 48.72h9.2v2.68h-9.2zM84.48 50.8h10.92v2.68h-10.92zM101.68 52.88h12.64v2.68h-12.64zM113.72 54.96h4.04v2.68h-4.04zM117.16 57.04h4.04v2.68h-4.04zM120.6 59.12h5.76v2.68h-5.76z"/>
<path fill="#2f82fa" d="M27.72 21.68h10.92v2.68h-10.92zM20.84 23.76h5.76v2.68h-5.76zM38.04 23.76h7.48v2.68h-7.48zM19.12 25.84h2.32v2.68h-2.32zM44.92 25.84h5.76v2.68h-5.76zM46.64 27.92h5.76v2.68h-5.76zM48.36 30h5.76v2.68h-5.76zM50.08 32.08h4.04v2.68h-4.04zM51.8 34.16h5.76v2.68h-5.76zM56.96 36.24h5.76v2.68h-5.76zM65.56 38.32h5.76v2.68h-5.76zM26 40.4h10.92v2.68h-10.92zM79.32 40.4h10.92v2.68h-10.92zM120.6 40.4h7.48v2.68h-7.48zM39.76 42.48h10.92v2.68h-10.92zM93.08 42.48h7.48v2.68h-7.48zM118.88 42.48h2.32v2.68h-2.32zM53.52 44.56h9.2v2.68h-9.2zM101.68 44.56h7.48v2.68h-7.48zM115.44 44.56h4.04v2.68h-4.04zM65.56 46.64h9.2v2.68h-9.2zM108.56 46.64h7.48v2.68h-7.48zM79.32 48.72h9.2v2.68h-9.2zM94.8 50.8h19.52v2.68h-19.52zM113.72 52.88h4.04v2.68h-4.04zM117.16 54.96h2.32v2.68h-2.32zM120.6 57.04h7.48v2.68h-7.48z"/>
<path fill="#2d89f5" d="M26 23.76h12.64v2.68h-12.64zM20.84 25.84h7.48v2.68h-7.48zM38.04 25.84h7.48v2.68h-7.48zM19.12 27.92h4.04v2.68h-4.04zM43.2 27.92h4.04v2.68h-4.04zM44.92 30h4.04v2.68h-4.04zM44.92 32.08h5.76v2.68h-5.76zM44.92 34.16h7.48v2.68h-7.48zM46.64 36.24h10.92v2.68h-10.92zM27.72 38.32h12.64v2.68h-12.64zM55.24 38.32h10.92v2.68h-10.92zM36.32 40.4h16.08v2.68h-16.08zM69 40.4h10.92v2.68h-10.92zM50.08 42.48h10.92v2.68h-10.92zM84.48 42.48h9.2v2.68h-9.2zM120.6 42.48h2.32v2.68h-2.32zM125.76 42.48h2.32v2.68h-2.32zM62.12 44.56h9.2v2.68h-9.2zM94.8 44.56h7.48v2.68h-7.48zM118.88 44.56h2.32v2.68h-2.32zM127.48 44.56h2.32v2.68h-2.32zM74.16 46.64h9.2v2.68h-9.2zM99.96 46.64h9.2v2.68h-9.2zM115.44 46.64h4.04v2.68h-4.04zM129.2 46.64h2.32v2.68h-2.32zM87.92 48.72h29.84v2.68h-29.84zM129.2 48.72h2.32v2.68h-2.32zM113.72 50.8h5.76v2.68h-5.76zM129.2 50.8h2.32v2.68h-2.32zM117.16 52.88h4.04v2.68h-4.04zM129.2 52.88h2.32v2.68h-2.32zM118.88 54.96h4.04v2.68h-4.04zM125.76 54.96h2.32v2.68h-2.32z"/>
<path fill="#2c90f0" d="M27.72 25.84h10.92v2.68h-10.92zM22.56 27.92h21.24v2.68h-21.24zM20.84 30h7.48v2.68h-7.48zM38.04 30h7.48v2.68h-7.48zM20.84 32.08h9.2v2.68h-9.2zM34.6 32.08h10.92v2.68h-10.92zM22.56 34.16h22.96v2.68h-22.96zM26 36.24h21.24v2.68h-21.24zM39.76 38.32h16.08v2.68h-16.08zM51.8 40.4h17.8v2.68h-17.8zM60.4 42.48h24.68v2.68h-24.68zM122.32 42.48h4.04v2.68h-4.04zM70.72 44.56h24.68v2.68h-24.68zM120.6 44.56h2.32v2.68h-2.32zM125.76 44.56h2.32v2.68h-2.32zM82.76 46.64h17.8v2.68h-17.8zM118.88 46.64h2.32v2.68h-2.32zM127.48 46.64h2.32v2.68h-2.32zM117.16 48.72h4.04v2.68h-4.04zM127.48 48.72h2.32v2.68h-2.32zM118.88 50.8h2.32v2.68h-2.32zM127.48 50.8h2.32v2.68h-2.32zM120.6 52.88h2.32v2.68h-2.32zM125.76 52.88h4.04v2.68h-4.04zM122.32 54.96h4.04v2.68h-4.04z"/>
<path fill="#2797eb" d="M27.72 30h10.92v2.68h-10.92zM29.44 32.08h5.76v2.68h-5.76zM122.32 44.56h4.04v2.68h-4.04zM120.6 46.64h7.48v2.68h-7.48zM120.6 48.72h7.48v2.68h-7.48zM120.6 50.8h7.48v2.68h-7.48zM122.32 52.88h4.04v2.68h-4.04z"/>
</g>
<use href="#qh" fill="none" stroke="#0a0a0a" stroke-width="0.95" stroke-linejoin="round"/>
<rect x="0" y="0" width="137.2" height="104.2" fill="none" stroke="#999" stroke-width="0.9"/>
<path d="M18.92 104.2v-1.4M18.92 0v1.4M61.92 104.2v-1.4M61.92 0v1.4M104.92 104.2v-1.4M104.92 0v1.4M0 94.02h1.4M137.2 94.02h-1.4M0 73.22h1.4M137.2 73.22h-1.4M0 52.42h1.4M137.2 52.42h-1.4M0 31.62h1.4M137.2 31.62h-1.4M0 10.82h1.4M137.2 10.82h-1.4" stroke="#888" stroke-width="0.8" fill="none"/>
<text x="18.92" y="115.8" class="t" text-anchor="middle">90</text>
<text x="61.92" y="115.8" class="t" text-anchor="middle">95</text>
<text x="104.92" y="115.8" class="t" text-anchor="middle">100</text>
<text x="-3.1" y="97.12" class="t" text-anchor="end">32</text>
<text x="-3.1" y="76.32" class="t" text-anchor="end">34</text>
<text x="-3.1" y="55.52" class="t" text-anchor="end">36</text>
<text x="-3.1" y="34.72" class="t" text-anchor="end">38</text>
<text x="-3.1" y="13.92" class="t" text-anchor="end">40</text>
<text x="10.6" y="12.3" class="p">(j)</text>
<text transform="translate(-16 52.1) rotate(-90)" class="b" text-anchor="middle">Latitude</text>
<text x="68.6" y="128" class="b" text-anchor="middle">Longitude</text>
</g>
<g transform="translate(190.3 388)">
<g clip-path="url(#cq)" shape-rendering="crispEdges">
<path fill="#475bf9" d="M90.5 32.6h2.75v3.2h-2.75zM94.8 32.6h2.75v3.2h-2.75zM88.35 66.4h2.75v3.2h-2.75z"/>
<path fill="#4562fc" d="M86.2 32.6h2.75v3.2h-2.75zM92.65 32.6h2.75v3.2h-2.75zM96.95 32.6h4.9v3.2h-4.9zM92.65 35.2h2.75v3.2h-2.75zM96.95 35.2h2.75v3.2h-2.75zM86.2 63.8h2.75v3.2h-2.75zM86.2 66.4h2.75v3.2h-2.75zM86.2 69h4.9v3.2h-4.9zM86.2 71.6h4.9v3.2h-4.9z"/>
<path fill="#426afe" d="M81.9 27.4h2.75v3.2h-2.75zM84.05 30h17.8v3.2h-17.8zM88.35 32.6h2.75v3.2h-2.75zM84.05 35.2h9.2v3.2h-9.2zM94.8 35.2h2.75v3.2h-2.75zM88.35 37.8h9.2v3.2h-9.2zM86.2 58.6h4.9v3.2h-4.9zM81.9 61.2h11.35v3.2h-11.35zM84.05 63.8h2.75v3.2h-2.75zM88.35 63.8h4.9v3.2h-4.9zM84.05 66.4h2.75v3.2h-2.75zM90.5 66.4h4.9v3.2h-4.9zM81.9 69h4.9v3.2h-4.9zM90.5 69h2.75v3.2h-2.75zM90.5 71.6h4.9v3.2h-4.9z"/>
<path fill="#3c72ff" d="M64.7 24.8h2.75v3.2h-2.75zM79.75 27.4h2.75v3.2h-2.75zM84.05 27.4h4.9v3.2h-4.9zM73.3 30h4.9v3.2h-4.9zM79.75 30h4.9v3.2h-4.9zM101.25 30h4.9v3.2h-4.9zM77.6 32.6h2.75v3.2h-2.75zM84.05 32.6h2.75v3.2h-2.75zM101.25 32.6h2.75v3.2h-2.75zM81.9 35.2h2.75v3.2h-2.75zM99.1 35.2h2.75v3.2h-2.75zM96.95 37.8h4.9v3.2h-4.9zM88.35 40.4h7.05v3.2h-7.05zM84.05 58.6h2.75v3.2h-2.75zM90.5 58.6h4.9v3.2h-4.9zM92.65 61.2h2.75v3.2h-2.75zM49.65 63.8h2.75v3.2h-2.75zM81.9 63.8h2.75v3.2h-2.75zM51.8 66.4h2.75v3.2h-2.75zM79.75 66.4h4.9v3.2h-4.9zM53.95 69h2.75v3.2h-2.75zM92.65 69h7.05v3.2h-7.05zM81.9 71.6h4.9v3.2h-4.9zM81.9 74.2h2.75v3.2h-2.75zM92.65 74.2h4.9v3.2h-4.9zM81.9 76.8h2.75v3.2h-2.75zM92.65 76.8h4.9v3.2h-4.9zM99.1 76.8h2.75v3.2h-2.75zM94.8 79.4h2.75v3.2h-2.75zM99.1 79.4h2.75v3.2h-2.75zM81.9 82h2.75v3.2h-2.75zM96.95 82h9.2v3.2h-9.2zM107.7 82h2.75v3.2h-2.75zM81.9 84.6h2.75v3.2h-2.75zM107.7 84.6h2.75v3.2h-2.75zM69 92.4h2.75v3.2h-2.75z"/>
<path fill="#347afd" d="M56.1 24.8h7.05v3.2h-7.05zM62.55 27.4h17.8v3.2h-17.8zM77.6 30h2.75v3.2h-2.75zM105.55 30h4.9v3.2h-4.9zM75.45 32.6h2.75v3.2h-2.75zM79.75 32.6h4.9v3.2h-4.9zM103.4 32.6h4.9v3.2h-4.9zM79.75 35.2h2.75v3.2h-2.75zM101.25 35.2h2.75v3.2h-2.75zM79.75 37.8h9.2v3.2h-9.2zM81.9 40.4h7.05v3.2h-7.05zM94.8 40.4h2.75v3.2h-2.75zM86.2 43h2.75v3.2h-2.75zM90.5 43h2.75v3.2h-2.75zM88.35 45.6h2.75v3.2h-2.75zM90.5 50.8h2.75v3.2h-2.75zM43.2 53.4h2.75v3.2h-2.75zM84.05 53.4h2.75v3.2h-2.75zM84.05 56h7.05v3.2h-7.05zM79.75 61.2h2.75v3.2h-2.75zM51.8 63.8h4.9v3.2h-4.9zM79.75 63.8h2.75v3.2h-2.75zM92.65 63.8h4.9v3.2h-4.9zM94.8 66.4h2.75v3.2h-2.75zM79.75 69h2.75v3.2h-2.75zM79.75 71.6h2.75v3.2h-2.75zM94.8 71.6h7.05v3.2h-7.05zM96.95 74.2h4.9v3.2h-4.9zM96.95 76.8h2.75v3.2h-2.75zM105.55 76.8h2.75v3.2h-2.75zM81.9 79.4h2.75v3.2h-2.75zM96.95 79.4h2.75v3.2h-2.75zM101.25 79.4h4.9v3.2h-4.9zM105.55 82h2.75v3.2h-2.75zM79.75 84.6h2.75v3.2h-2.75zM105.55 84.6h2.75v3.2h-2.75zM79.75 87.2h2.75v3.2h-2.75zM107.7 87.2h2.75v3.2h-2.75zM71.15 92.4h2.75v3.2h-2.75z"/>
<path fill="#2f82fa" d="M49.65 24.8h2.75v3.2h-2.75zM53.95 24.8h2.75v3.2h-2.75zM62.55 24.8h2.75v3.2h-2.75zM58.25 27.4h4.9v3.2h-4.9zM60.4 30h13.5v3.2h-13.5zM109.85 30h2.75v3.2h-2.75zM66.85 32.6h9.2v3.2h-9.2zM75.45 35.2h4.9v3.2h-4.9zM103.4 35.2h2.75v3.2h-2.75zM77.6 37.8h2.75v3.2h-2.75zM101.25 37.8h2.75v3.2h-2.75zM96.95 40.4h2.75v3.2h-2.75zM81.9 43h2.75v3.2h-2.75zM88.35 43h2.75v3.2h-2.75zM92.65 43h7.05v3.2h-7.05zM86.2 45.6h2.75v3.2h-2.75zM90.5 45.6h4.9v3.2h-4.9zM38.9 48.2h2.75v3.2h-2.75zM86.2 48.2h2.75v3.2h-2.75zM90.5 48.2h4.9v3.2h-4.9zM41.05 50.8h4.9v3.2h-4.9zM86.2 50.8h4.9v3.2h-4.9zM92.65 50.8h2.75v3.2h-2.75zM45.35 53.4h2.75v3.2h-2.75zM86.2 53.4h9.2v3.2h-9.2zM45.35 56h2.75v3.2h-2.75zM79.75 56h4.9v3.2h-4.9zM90.5 56h7.05v3.2h-7.05zM47.5 58.6h2.75v3.2h-2.75zM51.8 58.6h4.9v3.2h-4.9zM79.75 58.6h4.9v3.2h-4.9zM49.65 61.2h2.75v3.2h-2.75zM94.8 61.2h2.75v3.2h-2.75zM56.1 63.8h2.75v3.2h-2.75zM77.6 63.8h2.75v3.2h-2.75zM96.95 63.8h2.75v3.2h-2.75zM53.95 66.4h7.05v3.2h-7.05zM96.95 66.4h2.75v3.2h-2.75zM56.1 69h4.9v3.2h-4.9zM56.1 71.6h2.75v3.2h-2.75zM101.25 71.6h2.75v3.2h-2.75zM58.25 74.2h2.75v3.2h-2.75zM79.75 74.2h2.75v3.2h-2.75zM101.25 74.2h2.75v3.2h-2.75zM79.75 76.8h2.75v3.2h-2.75zM101.25 76.8h4.9v3.2h-4.9zM109.85 76.8h7.05v3.2h-7.05zM79.75 79.4h2.75v3.2h-2.75zM105.55 79.4h4.9v3.2h-4.9zM77.6 82h4.9v3.2h-4.9zM66.85 89.8h2.75v3.2h-2.75zM77.6 89.8h2.75v3.2h-2.75zM73.3 92.4h2.75v3.2h-2.75z"/>
<path fill="#2d89f5" d="M47.5 24.8h2.75v3.2h-2.75zM51.8 24.8h2.75v3.2h-2.75zM51.8 27.4h7.05v3.2h-7.05zM56.1 30h4.9v3.2h-4.9zM58.25 32.6h4.9v3.2h-4.9zM64.7 32.6h2.75v3.2h-2.75zM107.7 32.6h2.75v3.2h-2.75zM112 32.6h2.75v3.2h-2.75zM103.4 37.8h2.75v3.2h-2.75zM79.75 40.4h2.75v3.2h-2.75zM99.1 40.4h4.9v3.2h-4.9zM84.05 43h2.75v3.2h-2.75zM38.9 45.6h2.75v3.2h-2.75zM43.2 45.6h2.75v3.2h-2.75zM84.05 45.6h2.75v3.2h-2.75zM94.8 45.6h2.75v3.2h-2.75zM41.05 48.2h2.75v3.2h-2.75zM81.9 48.2h4.9v3.2h-4.9zM88.35 48.2h2.75v3.2h-2.75zM94.8 48.2h2.75v3.2h-2.75zM45.35 50.8h2.75v3.2h-2.75zM81.9 50.8h4.9v3.2h-4.9zM79.75 53.4h4.9v3.2h-4.9zM94.8 53.4h2.75v3.2h-2.75zM47.5 56h2.75v3.2h-2.75zM49.65 58.6h2.75v3.2h-2.75zM56.1 58.6h2.75v3.2h-2.75zM94.8 58.6h2.75v3.2h-2.75zM51.8 61.2h7.05v3.2h-7.05zM77.6 61.2h2.75v3.2h-2.75zM96.95 61.2h2.75v3.2h-2.75zM58.25 63.8h2.75v3.2h-2.75zM77.6 66.4h2.75v3.2h-2.75zM77.6 69h2.75v3.2h-2.75zM99.1 69h2.75v3.2h-2.75zM58.25 71.6h2.75v3.2h-2.75zM77.6 71.6h2.75v3.2h-2.75zM103.4 74.2h2.75v3.2h-2.75zM107.7 74.2h4.9v3.2h-4.9zM114.15 74.2h2.75v3.2h-2.75zM58.25 76.8h4.9v3.2h-4.9zM77.6 76.8h2.75v3.2h-2.75zM107.7 76.8h2.75v3.2h-2.75zM116.3 76.8h2.75v3.2h-2.75zM77.6 79.4h2.75v3.2h-2.75z"/>
<path fill="#2c90f0" d="M36.75 24.8h2.75v3.2h-2.75zM43.2 24.8h4.9v3.2h-4.9zM47.5 27.4h4.9v3.2h-4.9zM51.8 30h4.9v3.2h-4.9zM53.95 32.6h2.75v3.2h-2.75zM62.55 32.6h2.75v3.2h-2.75zM109.85 32.6h2.75v3.2h-2.75zM64.7 35.2h11.35v3.2h-11.35zM105.55 35.2h2.75v3.2h-2.75zM36.75 43h2.75v3.2h-2.75zM79.75 43h2.75v3.2h-2.75zM41.05 45.6h2.75v3.2h-2.75zM45.35 45.6h2.75v3.2h-2.75zM81.9 45.6h2.75v3.2h-2.75zM96.95 45.6h2.75v3.2h-2.75zM43.2 48.2h7.05v3.2h-7.05zM79.75 50.8h2.75v3.2h-2.75zM94.8 50.8h4.9v3.2h-4.9zM47.5 53.4h4.9v3.2h-4.9zM49.65 56h4.9v3.2h-4.9zM96.95 56h2.75v3.2h-2.75zM77.6 58.6h2.75v3.2h-2.75zM96.95 58.6h2.75v3.2h-2.75zM58.25 61.2h4.9v3.2h-4.9zM60.4 63.8h2.75v3.2h-2.75zM75.45 63.8h2.75v3.2h-2.75zM60.4 66.4h2.75v3.2h-2.75zM99.1 66.4h2.75v3.2h-2.75zM60.4 69h2.75v3.2h-2.75zM75.45 69h2.75v3.2h-2.75zM101.25 69h2.75v3.2h-2.75zM60.4 71.6h2.75v3.2h-2.75zM103.4 71.6h4.9v3.2h-4.9zM60.4 74.2h2.75v3.2h-2.75zM77.6 74.2h2.75v3.2h-2.75zM105.55 74.2h2.75v3.2h-2.75zM112 74.2h2.75v3.2h-2.75zM60.4 79.4h4.9v3.2h-4.9zM75.45 79.4h2.75v3.2h-2.75zM62.55 82h2.75v3.2h-2.75zM64.7 84.6h2.75v3.2h-2.75zM77.6 84.6h2.75v3.2h-2.75zM69 89.8h2.75v3.2h-2.75z"/>
<path fill="#2797eb" d="M38.9 24.8h4.9v3.2h-4.9zM43.2 27.4h4.9v3.2h-4.9zM49.65 30h2.75v3.2h-2.75zM49.65 32.6h4.9v3.2h-4.9zM56.1 32.6h2.75v3.2h-2.75zM114.15 32.6h2.75v3.2h-2.75zM53.95 35.2h11.35v3.2h-11.35zM107.7 35.2h2.75v3.2h-2.75zM118.45 35.2h4.9v3.2h-4.9zM58.25 37.8h2.75v3.2h-2.75zM75.45 37.8h2.75v3.2h-2.75zM105.55 37.8h2.75v3.2h-2.75zM124.9 40.4h2.75v3.2h-2.75zM43.2 43h2.75v3.2h-2.75zM99.1 43h2.75v3.2h-2.75zM47.5 45.6h2.75v3.2h-2.75zM79.75 48.2h2.75v3.2h-2.75zM96.95 48.2h2.75v3.2h-2.75zM47.5 50.8h4.9v3.2h-4.9zM99.1 50.8h2.75v3.2h-2.75zM51.8 53.4h2.75v3.2h-2.75zM77.6 53.4h2.75v3.2h-2.75zM96.95 53.4h2.75v3.2h-2.75zM53.95 56h2.75v3.2h-2.75zM77.6 56h2.75v3.2h-2.75zM58.25 58.6h2.75v3.2h-2.75zM75.45 58.6h2.75v3.2h-2.75zM99.1 58.6h2.75v3.2h-2.75zM73.3 61.2h4.9v3.2h-4.9zM62.55 63.8h2.75v3.2h-2.75zM73.3 63.8h2.75v3.2h-2.75zM99.1 63.8h2.75v3.2h-2.75zM62.55 66.4h2.75v3.2h-2.75zM75.45 66.4h2.75v3.2h-2.75zM109.85 71.6h2.75v3.2h-2.75zM75.45 74.2h2.75v3.2h-2.75zM75.45 76.8h2.75v3.2h-2.75zM75.45 82h2.75v3.2h-2.75zM66.85 87.2h2.75v3.2h-2.75zM77.6 87.2h2.75v3.2h-2.75zM75.45 89.8h2.75v3.2h-2.75z"/>
<path fill="#259de7" d="M36.75 27.4h7.05v3.2h-7.05zM47.5 32.6h2.75v3.2h-2.75zM49.65 35.2h4.9v3.2h-4.9zM109.85 35.2h2.75v3.2h-2.75zM116.3 35.2h2.75v3.2h-2.75zM47.5 37.8h11.35v3.2h-11.35zM60.4 37.8h2.75v3.2h-2.75zM64.7 37.8h7.05v3.2h-7.05zM122.75 37.8h2.75v3.2h-2.75zM34.6 40.4h2.75v3.2h-2.75zM45.35 40.4h7.05v3.2h-7.05zM77.6 40.4h2.75v3.2h-2.75zM103.4 40.4h2.75v3.2h-2.75zM38.9 43h4.9v3.2h-4.9zM45.35 43h7.05v3.2h-7.05zM101.25 43h2.75v3.2h-2.75zM79.75 45.6h2.75v3.2h-2.75zM99.1 45.6h2.75v3.2h-2.75zM49.65 48.2h2.75v3.2h-2.75zM127.05 48.2h2.75v3.2h-2.75zM127.05 50.8h2.75v3.2h-2.75zM56.1 56h7.05v3.2h-7.05zM75.45 56h2.75v3.2h-2.75zM99.1 56h2.75v3.2h-2.75zM60.4 58.6h2.75v3.2h-2.75zM64.7 58.6h2.75v3.2h-2.75zM71.15 58.6h4.9v3.2h-4.9zM62.55 61.2h7.05v3.2h-7.05zM99.1 61.2h2.75v3.2h-2.75zM62.55 69h2.75v3.2h-2.75zM103.4 69h2.75v3.2h-2.75zM118.45 69h2.75v3.2h-2.75zM62.55 71.6h2.75v3.2h-2.75zM75.45 71.6h2.75v3.2h-2.75zM107.7 71.6h2.75v3.2h-2.75zM62.55 76.8h2.75v3.2h-2.75zM73.3 79.4h2.75v3.2h-2.75zM64.7 82h4.9v3.2h-4.9zM73.3 82h2.75v3.2h-2.75zM66.85 84.6h2.75v3.2h-2.75zM71.15 89.8h4.9v3.2h-4.9z"/>
<path fill="#21a3e3" d="M32.45 27.4h4.9v3.2h-4.9zM45.35 30h4.9v3.2h-4.9zM45.35 32.6h2.75v3.2h-2.75zM47.5 35.2h2.75v3.2h-2.75zM114.15 35.2h2.75v3.2h-2.75zM41.05 37.8h2.75v3.2h-2.75zM45.35 37.8h2.75v3.2h-2.75zM62.55 37.8h2.75v3.2h-2.75zM71.15 37.8h4.9v3.2h-4.9zM120.6 37.8h2.75v3.2h-2.75zM36.75 40.4h4.9v3.2h-4.9zM43.2 40.4h2.75v3.2h-2.75zM51.8 40.4h2.75v3.2h-2.75zM64.7 40.4h4.9v3.2h-4.9zM77.6 43h2.75v3.2h-2.75zM49.65 45.6h2.75v3.2h-2.75zM101.25 45.6h2.75v3.2h-2.75zM127.05 45.6h2.75v3.2h-2.75zM77.6 48.2h2.75v3.2h-2.75zM99.1 48.2h2.75v3.2h-2.75zM51.8 50.8h2.75v3.2h-2.75zM77.6 50.8h2.75v3.2h-2.75zM53.95 53.4h2.75v3.2h-2.75zM99.1 53.4h2.75v3.2h-2.75zM62.55 56h4.9v3.2h-4.9zM62.55 58.6h2.75v3.2h-2.75zM66.85 58.6h4.9v3.2h-4.9zM69 61.2h4.9v3.2h-4.9zM73.3 66.4h2.75v3.2h-2.75zM101.25 66.4h2.75v3.2h-2.75zM116.3 66.4h4.9v3.2h-4.9zM116.3 69h2.75v3.2h-2.75zM62.55 74.2h2.75v3.2h-2.75zM64.7 79.4h2.75v3.2h-2.75zM69 82h2.75v3.2h-2.75zM69 84.6h2.75v3.2h-2.75zM75.45 84.6h2.75v3.2h-2.75zM69 87.2h2.75v3.2h-2.75z"/>
<path fill="#1da9e0" d="M30.3 27.4h2.75v3.2h-2.75zM30.3 30h2.75v3.2h-2.75zM43.2 30h2.75v3.2h-2.75zM30.3 32.6h2.75v3.2h-2.75zM41.05 32.6h4.9v3.2h-4.9zM43.2 35.2h4.9v3.2h-4.9zM112 35.2h2.75v3.2h-2.75zM32.45 37.8h9.2v3.2h-9.2zM43.2 37.8h2.75v3.2h-2.75zM107.7 37.8h2.75v3.2h-2.75zM118.45 37.8h2.75v3.2h-2.75zM41.05 40.4h2.75v3.2h-2.75zM53.95 40.4h9.2v3.2h-9.2zM105.55 40.4h2.75v3.2h-2.75zM103.4 43h2.75v3.2h-2.75zM101.25 48.2h2.75v3.2h-2.75zM56.1 53.4h2.75v3.2h-2.75zM66.85 56h4.9v3.2h-4.9zM64.7 63.8h2.75v3.2h-2.75zM71.15 63.8h2.75v3.2h-2.75zM101.25 63.8h2.75v3.2h-2.75zM114.15 66.4h2.75v3.2h-2.75zM73.3 69h2.75v3.2h-2.75zM107.7 69h4.9v3.2h-4.9zM73.3 71.6h2.75v3.2h-2.75zM73.3 76.8h2.75v3.2h-2.75zM71.15 82h2.75v3.2h-2.75z"/>
<path fill="#17aeda" d="M28.15 30h2.75v3.2h-2.75zM32.45 30h11.35v3.2h-11.35zM32.45 32.6h2.75v3.2h-2.75zM38.9 32.6h2.75v3.2h-2.75zM30.3 35.2h4.9v3.2h-4.9zM36.75 35.2h7.05v3.2h-7.05zM116.3 37.8h2.75v3.2h-2.75zM62.55 40.4h2.75v3.2h-2.75zM75.45 40.4h2.75v3.2h-2.75zM122.75 40.4h2.75v3.2h-2.75zM51.8 43h2.75v3.2h-2.75zM105.55 43h2.75v3.2h-2.75zM51.8 45.6h2.75v3.2h-2.75zM77.6 45.6h2.75v3.2h-2.75zM103.4 45.6h2.75v3.2h-2.75zM51.8 48.2h2.75v3.2h-2.75zM53.95 50.8h2.75v3.2h-2.75zM101.25 50.8h2.75v3.2h-2.75zM58.25 53.4h2.75v3.2h-2.75zM64.7 53.4h4.9v3.2h-4.9zM71.15 56h4.9v3.2h-4.9zM66.85 63.8h4.9v3.2h-4.9zM118.45 63.8h2.75v3.2h-2.75zM64.7 66.4h2.75v3.2h-2.75zM71.15 66.4h2.75v3.2h-2.75zM103.4 66.4h2.75v3.2h-2.75zM105.55 69h2.75v3.2h-2.75zM73.3 74.2h2.75v3.2h-2.75zM71.15 79.4h2.75v3.2h-2.75zM75.45 87.2h2.75v3.2h-2.75z"/>
<path fill="#0cb3d3" d="M34.6 32.6h4.9v3.2h-4.9zM34.6 35.2h2.75v3.2h-2.75zM69 40.4h2.75v3.2h-2.75zM107.7 40.4h2.75v3.2h-2.75zM118.45 40.4h4.9v3.2h-4.9zM53.95 43h2.75v3.2h-2.75zM64.7 43h4.9v3.2h-4.9zM124.9 43h2.75v3.2h-2.75zM103.4 48.2h2.75v3.2h-2.75zM60.4 53.4h4.9v3.2h-4.9zM75.45 53.4h2.75v3.2h-2.75zM101.25 53.4h2.75v3.2h-2.75zM122.75 58.6h2.75v3.2h-2.75zM101.25 61.2h2.75v3.2h-2.75zM112 66.4h2.75v3.2h-2.75zM71.15 76.8h2.75v3.2h-2.75zM71.15 84.6h4.9v3.2h-4.9z"/>
<path fill="#02b7cb" d="M62.55 43h2.75v3.2h-2.75zM107.7 43h2.75v3.2h-2.75zM64.7 45.6h2.75v3.2h-2.75zM105.55 45.6h4.9v3.2h-4.9zM62.55 50.8h7.05v3.2h-7.05zM69 53.4h2.75v3.2h-2.75zM101.25 56h2.75v3.2h-2.75zM101.25 58.6h2.75v3.2h-2.75zM114.15 63.8h4.9v3.2h-4.9zM64.7 76.8h2.75v3.2h-2.75zM66.85 79.4h4.9v3.2h-4.9zM71.15 87.2h2.75v3.2h-2.75z"/>
<path fill="#03bbc2" d="M114.15 37.8h2.75v3.2h-2.75zM116.3 40.4h2.75v3.2h-2.75zM60.4 43h2.75v3.2h-2.75zM69 43h2.75v3.2h-2.75zM66.85 45.6h2.75v3.2h-2.75zM64.7 48.2h4.9v3.2h-4.9zM105.55 48.2h2.75v3.2h-2.75zM56.1 50.8h2.75v3.2h-2.75zM103.4 50.8h2.75v3.2h-2.75zM124.9 50.8h2.75v3.2h-2.75zM71.15 53.4h2.75v3.2h-2.75zM124.9 53.4h2.75v3.2h-2.75zM109.85 66.4h2.75v3.2h-2.75zM64.7 69h2.75v3.2h-2.75zM71.15 69h2.75v3.2h-2.75zM64.7 74.2h2.75v3.2h-2.75zM73.3 87.2h2.75v3.2h-2.75z"/>
<path fill="#12beb9" d="M56.1 43h2.75v3.2h-2.75zM109.85 43h2.75v3.2h-2.75zM62.55 45.6h2.75v3.2h-2.75zM109.85 45.6h2.75v3.2h-2.75zM53.95 48.2h2.75v3.2h-2.75zM62.55 48.2h2.75v3.2h-2.75zM124.9 48.2h2.75v3.2h-2.75zM58.25 50.8h4.9v3.2h-4.9zM69 50.8h2.75v3.2h-2.75zM73.3 53.4h2.75v3.2h-2.75zM122.75 56h2.75v3.2h-2.75zM120.6 58.6h2.75v3.2h-2.75zM118.45 61.2h2.75v3.2h-2.75zM112 63.8h2.75v3.2h-2.75zM66.85 66.4h4.9v3.2h-4.9zM64.7 71.6h2.75v3.2h-2.75zM71.15 71.6h2.75v3.2h-2.75zM71.15 74.2h2.75v3.2h-2.75z"/>
<path fill="#22c1b0" d="M28.15 27.4h2.75v3.2h-2.75zM109.85 37.8h2.75v3.2h-2.75zM71.15 40.4h4.9v3.2h-4.9zM114.15 40.4h2.75v3.2h-2.75zM58.25 43h2.75v3.2h-2.75zM75.45 43h2.75v3.2h-2.75zM112 43h4.9v3.2h-4.9zM53.95 45.6h2.75v3.2h-2.75zM60.4 45.6h2.75v3.2h-2.75zM69 45.6h2.75v3.2h-2.75zM112 45.6h4.9v3.2h-4.9zM60.4 48.2h2.75v3.2h-2.75zM107.7 48.2h4.9v3.2h-4.9zM75.45 50.8h2.75v3.2h-2.75zM105.55 50.8h2.75v3.2h-2.75zM103.4 53.4h2.75v3.2h-2.75zM114.15 61.2h2.75v3.2h-2.75zM105.55 66.4h2.75v3.2h-2.75zM69 76.8h2.75v3.2h-2.75z"/>
<path fill="#2cc4a6" d="M109.85 40.4h2.75v3.2h-2.75zM116.3 43h2.75v3.2h-2.75zM56.1 45.6h2.75v3.2h-2.75zM58.25 48.2h2.75v3.2h-2.75zM69 48.2h2.75v3.2h-2.75zM112 48.2h2.75v3.2h-2.75zM112 61.2h2.75v3.2h-2.75zM116.3 61.2h2.75v3.2h-2.75zM107.7 66.4h2.75v3.2h-2.75zM66.85 76.8h2.75v3.2h-2.75z"/>
<path fill="#34c79c" d="M112 37.8h2.75v3.2h-2.75zM118.45 43h2.75v3.2h-2.75zM58.25 45.6h2.75v3.2h-2.75zM75.45 45.6h2.75v3.2h-2.75zM124.9 45.6h2.75v3.2h-2.75zM56.1 48.2h2.75v3.2h-2.75zM75.45 48.2h2.75v3.2h-2.75zM107.7 50.8h7.05v3.2h-7.05zM112 53.4h2.75v3.2h-2.75zM114.15 58.6h2.75v3.2h-2.75zM103.4 63.8h2.75v3.2h-2.75zM66.85 69h4.9v3.2h-4.9z"/>
<path fill="#3dc990" d="M26 27.4h2.75v3.2h-2.75zM112 40.4h2.75v3.2h-2.75zM120.6 43h2.75v3.2h-2.75zM114.15 48.2h2.75v3.2h-2.75zM114.15 50.8h2.75v3.2h-2.75zM122.75 53.4h2.75v3.2h-2.75zM114.15 56h2.75v3.2h-2.75zM109.85 63.8h2.75v3.2h-2.75zM69 74.2h2.75v3.2h-2.75z"/>
<path fill="#4bcb84" d="M71.15 50.8h2.75v3.2h-2.75zM114.15 53.4h2.75v3.2h-2.75zM103.4 56h2.75v3.2h-2.75zM112 56h2.75v3.2h-2.75zM120.6 56h2.75v3.2h-2.75zM112 58.6h2.75v3.2h-2.75zM118.45 58.6h2.75v3.2h-2.75zM66.85 71.6h4.9v3.2h-4.9zM66.85 74.2h2.75v3.2h-2.75z"/>
<path fill="#5ccc76" d="M116.3 45.6h2.75v3.2h-2.75zM105.55 53.4h2.75v3.2h-2.75zM109.85 53.4h2.75v3.2h-2.75zM116.3 58.6h2.75v3.2h-2.75z"/>
<path fill="#6dcd67" d="M71.15 43h2.75v3.2h-2.75zM73.3 50.8h2.75v3.2h-2.75zM118.45 56h2.75v3.2h-2.75zM103.4 61.2h2.75v3.2h-2.75z"/>
<path fill="#81cc59" d="M73.3 43h2.75v3.2h-2.75zM116.3 48.2h2.75v3.2h-2.75zM107.7 53.4h2.75v3.2h-2.75zM116.3 53.4h2.75v3.2h-2.75zM109.85 56h2.75v3.2h-2.75zM109.85 61.2h2.75v3.2h-2.75z"/>
<path fill="#94ca4a" d="M122.75 43h2.75v3.2h-2.75zM122.75 48.2h2.75v3.2h-2.75zM116.3 50.8h2.75v3.2h-2.75zM116.3 56h2.75v3.2h-2.75zM103.4 58.6h2.75v3.2h-2.75zM109.85 58.6h2.75v3.2h-2.75z"/>
<path fill="#a6c83c" d="M118.45 45.6h2.75v3.2h-2.75zM71.15 48.2h2.75v3.2h-2.75zM122.75 50.8h2.75v3.2h-2.75zM118.45 53.4h2.75v3.2h-2.75zM105.55 63.8h2.75v3.2h-2.75z"/>
<path fill="#b8c431" d="M71.15 45.6h2.75v3.2h-2.75zM120.6 53.4h2.75v3.2h-2.75zM107.7 63.8h2.75v3.2h-2.75z"/>
<path fill="#c8c129" d="M73.3 48.2h2.75v3.2h-2.75zM105.55 56h2.75v3.2h-2.75z"/>
<path fill="#d7be28" d="M73.3 45.6h2.75v3.2h-2.75zM120.6 45.6h2.75v3.2h-2.75zM107.7 56h2.75v3.2h-2.75z"/>
<path fill="#e5bb2d" d="M118.45 50.8h2.75v3.2h-2.75z"/>
<path fill="#f1ba37" d="M118.45 48.2h2.75v3.2h-2.75z"/>
<path fill="#fbbc3d" d="M107.7 61.2h2.75v3.2h-2.75z"/>
<path fill="#fec239" d="M122.75 45.6h2.75v3.2h-2.75zM120.6 48.2h2.75v3.2h-2.75zM120.6 50.8h2.75v3.2h-2.75zM105.55 58.6h4.9v3.2h-4.9zM105.55 61.2h2.75v3.2h-2.75z"/>
</g>
<use href="#qh" fill="none" stroke="#0a0a0a" stroke-width="0.95" stroke-linejoin="round"/>
<rect x="0" y="0" width="137.2" height="104.2" fill="none" stroke="#999" stroke-width="0.9"/>
<path d="M18.92 104.2v-1.4M18.92 0v1.4M61.92 104.2v-1.4M61.92 0v1.4M104.92 104.2v-1.4M104.92 0v1.4M0 94.02h1.4M137.2 94.02h-1.4M0 73.22h1.4M137.2 73.22h-1.4M0 52.42h1.4M137.2 52.42h-1.4M0 31.62h1.4M137.2 31.62h-1.4M0 10.82h1.4M137.2 10.82h-1.4" stroke="#888" stroke-width="0.8" fill="none"/>
<text x="18.92" y="115.8" class="t" text-anchor="middle">90</text>
<text x="61.92" y="115.8" class="t" text-anchor="middle">95</text>
<text x="104.92" y="115.8" class="t" text-anchor="middle">100</text>
<text x="-3.1" y="97.12" class="t" text-anchor="end">32</text>
<text x="-3.1" y="76.32" class="t" text-anchor="end">34</text>
<text x="-3.1" y="55.52" class="t" text-anchor="end">36</text>
<text x="-3.1" y="34.72" class="t" text-anchor="end">38</text>
<text x="-3.1" y="13.92" class="t" text-anchor="end">40</text>
<text x="10.6" y="12.3" class="p">(k)</text>
<text x="68.6" y="128" class="b" text-anchor="middle">Longitude</text>
<rect x="142.4" y="11" width="10.8" height="93.8" fill="url(#pg)" stroke="#999" stroke-width="0.4"/>
<text x="157.4" y="108.1" class="t">0</text>
<text x="157.4" y="85.22" class="t">2</text>
<text x="157.4" y="62.34" class="t">4</text>
<text x="157.4" y="39.47" class="t">6</text>
<text x="157.4" y="16.59" class="t">8</text>
<text x="150" y="6.4" class="m" text-anchor="middle">(mm)</text>
</g>
<g transform="translate(377.3 388)">
<g clip-path="url(#cq)" shape-rendering="crispEdges">
<path fill="#4536d5" d="M105.55 58.6h2.75v3.2h-2.75z"/>
<path fill="#4744e9" d="M120.6 45.6h2.75v3.2h-2.75zM103.4 58.6h2.75v3.2h-2.75zM103.4 61.2h4.9v3.2h-4.9z"/>
<path fill="#484cef" d="M122.75 45.6h2.75v3.2h-2.75zM73.3 48.2h2.75v3.2h-2.75z"/>
<path fill="#4853f5" d="M120.6 43h2.75v3.2h-2.75zM120.6 48.2h2.75v3.2h-2.75zM116.3 53.4h4.9v3.2h-4.9zM103.4 56h4.9v3.2h-4.9zM107.7 61.2h2.75v3.2h-2.75z"/>
<path fill="#475bf9" d="M122.75 43h2.75v3.2h-2.75zM73.3 45.6h2.75v3.2h-2.75zM71.15 48.2h2.75v3.2h-2.75zM116.3 50.8h4.9v3.2h-4.9zM118.45 56h2.75v3.2h-2.75zM107.7 58.6h2.75v3.2h-2.75zM105.55 63.8h2.75v3.2h-2.75z"/>
<path fill="#4562fc" d="M71.15 45.6h2.75v3.2h-2.75zM73.3 50.8h2.75v3.2h-2.75zM105.55 53.4h2.75v3.2h-2.75zM107.7 56h2.75v3.2h-2.75zM116.3 56h2.75v3.2h-2.75zM103.4 63.8h2.75v3.2h-2.75z"/>
<path fill="#426afe" d="M26 27.4h2.75v3.2h-2.75zM118.45 45.6h2.75v3.2h-2.75zM118.45 48.2h2.75v3.2h-2.75zM71.15 50.8h2.75v3.2h-2.75zM103.4 53.4h2.75v3.2h-2.75zM114.15 53.4h2.75v3.2h-2.75zM101.25 56h2.75v3.2h-2.75zM101.25 58.6h2.75v3.2h-2.75zM109.85 58.6h2.75v3.2h-2.75zM69 71.6h2.75v3.2h-2.75zM66.85 74.2h4.9v3.2h-4.9z"/>
<path fill="#3c72ff" d="M118.45 43h2.75v3.2h-2.75zM75.45 48.2h2.75v3.2h-2.75zM116.3 48.2h2.75v3.2h-2.75zM122.75 48.2h2.75v3.2h-2.75zM120.6 50.8h2.75v3.2h-2.75zM107.7 53.4h2.75v3.2h-2.75zM112 53.4h2.75v3.2h-2.75zM120.6 53.4h2.75v3.2h-2.75zM109.85 56h7.05v3.2h-7.05zM120.6 56h2.75v3.2h-2.75zM101.25 61.2h2.75v3.2h-2.75zM109.85 61.2h2.75v3.2h-2.75zM107.7 63.8h2.75v3.2h-2.75zM69 69h2.75v3.2h-2.75zM66.85 71.6h2.75v3.2h-2.75z"/>
<path fill="#347afd" d="M120.6 40.4h2.75v3.2h-2.75zM73.3 43h2.75v3.2h-2.75zM116.3 45.6h2.75v3.2h-2.75zM109.85 50.8h2.75v3.2h-2.75zM114.15 50.8h2.75v3.2h-2.75zM73.3 53.4h2.75v3.2h-2.75zM109.85 53.4h2.75v3.2h-2.75zM114.15 58.6h7.05v3.2h-7.05zM101.25 63.8h2.75v3.2h-2.75zM109.85 63.8h2.75v3.2h-2.75zM66.85 69h2.75v3.2h-2.75z"/>
<path fill="#2f82fa" d="M122.75 40.4h2.75v3.2h-2.75zM71.15 43h2.75v3.2h-2.75zM75.45 45.6h2.75v3.2h-2.75zM124.9 45.6h2.75v3.2h-2.75zM109.85 48.2h7.05v3.2h-7.05zM75.45 50.8h2.75v3.2h-2.75zM105.55 50.8h4.9v3.2h-4.9zM112 50.8h2.75v3.2h-2.75zM101.25 53.4h2.75v3.2h-2.75zM112 58.6h2.75v3.2h-2.75zM103.4 66.4h7.05v3.2h-7.05zM71.15 71.6h2.75v3.2h-2.75zM69 76.8h2.75v3.2h-2.75z"/>
<path fill="#2d89f5" d="M116.3 43h2.75v3.2h-2.75zM124.9 43h2.75v3.2h-2.75zM109.85 45.6h2.75v3.2h-2.75zM114.15 45.6h2.75v3.2h-2.75zM69 48.2h2.75v3.2h-2.75zM107.7 48.2h2.75v3.2h-2.75zM58.25 50.8h4.9v3.2h-4.9zM103.4 50.8h2.75v3.2h-2.75zM122.75 50.8h2.75v3.2h-2.75zM58.25 53.4h2.75v3.2h-2.75zM71.15 53.4h2.75v3.2h-2.75zM120.6 58.6h2.75v3.2h-2.75zM112 61.2h7.05v3.2h-7.05zM112 63.8h4.9v3.2h-4.9zM66.85 66.4h2.75v3.2h-2.75zM101.25 66.4h2.75v3.2h-2.75zM109.85 66.4h2.75v3.2h-2.75zM64.7 71.6h2.75v3.2h-2.75zM66.85 76.8h2.75v3.2h-2.75zM71.15 84.6h4.9v3.2h-4.9zM71.15 87.2h4.9v3.2h-4.9z"/>
<path fill="#2c90f0" d="M116.3 40.4h4.9v3.2h-4.9zM75.45 43h2.75v3.2h-2.75zM112 43h4.9v3.2h-4.9zM107.7 45.6h2.75v3.2h-2.75zM112 45.6h2.75v3.2h-2.75zM105.55 48.2h2.75v3.2h-2.75zM124.9 48.2h2.75v3.2h-2.75zM56.1 50.8h2.75v3.2h-2.75zM62.55 50.8h2.75v3.2h-2.75zM69 50.8h2.75v3.2h-2.75zM56.1 53.4h2.75v3.2h-2.75zM60.4 53.4h2.75v3.2h-2.75zM75.45 53.4h2.75v3.2h-2.75zM122.75 56h2.75v3.2h-2.75zM99.1 58.6h2.75v3.2h-2.75zM118.45 61.2h2.75v3.2h-2.75zM116.3 63.8h2.75v3.2h-2.75zM69 66.4h2.75v3.2h-2.75zM112 66.4h2.75v3.2h-2.75zM64.7 69h2.75v3.2h-2.75zM71.15 69h2.75v3.2h-2.75zM103.4 69h2.75v3.2h-2.75zM64.7 74.2h2.75v3.2h-2.75zM71.15 74.2h2.75v3.2h-2.75z"/>
<path fill="#2797eb" d="M120.6 37.8h2.75v3.2h-2.75zM73.3 40.4h2.75v3.2h-2.75zM112 40.4h2.75v3.2h-2.75zM107.7 43h4.9v3.2h-4.9zM69 45.6h2.75v3.2h-2.75zM56.1 48.2h7.05v3.2h-7.05zM103.4 48.2h2.75v3.2h-2.75zM64.7 50.8h2.75v3.2h-2.75zM101.25 50.8h2.75v3.2h-2.75zM53.95 53.4h2.75v3.2h-2.75zM62.55 53.4h2.75v3.2h-2.75zM69 53.4h2.75v3.2h-2.75zM122.75 53.4h2.75v3.2h-2.75zM58.25 56h4.9v3.2h-4.9zM73.3 56h2.75v3.2h-2.75zM99.1 56h2.75v3.2h-2.75zM122.75 58.6h2.75v3.2h-2.75zM99.1 61.2h2.75v3.2h-2.75zM69 63.8h2.75v3.2h-2.75zM99.1 63.8h2.75v3.2h-2.75zM71.15 66.4h2.75v3.2h-2.75zM114.15 66.4h4.9v3.2h-4.9zM105.55 69h7.05v3.2h-7.05zM109.85 71.6h2.75v3.2h-2.75zM71.15 76.8h2.75v3.2h-2.75zM66.85 79.4h4.9v3.2h-4.9zM75.45 84.6h2.75v3.2h-2.75zM75.45 87.2h2.75v3.2h-2.75z"/>
<path fill="#259de7" d="M28.15 27.4h2.75v3.2h-2.75zM112 35.2h4.9v3.2h-4.9zM120.6 35.2h2.75v3.2h-2.75zM114.15 37.8h2.75v3.2h-2.75zM118.45 37.8h2.75v3.2h-2.75zM122.75 37.8h2.75v3.2h-2.75zM71.15 40.4h2.75v3.2h-2.75zM109.85 40.4h2.75v3.2h-2.75zM114.15 40.4h2.75v3.2h-2.75zM124.9 40.4h2.75v3.2h-2.75zM105.55 45.6h2.75v3.2h-2.75zM127.05 45.6h2.75v3.2h-2.75zM53.95 48.2h2.75v3.2h-2.75zM62.55 48.2h2.75v3.2h-2.75zM101.25 48.2h2.75v3.2h-2.75zM51.8 50.8h4.9v3.2h-4.9zM66.85 50.8h2.75v3.2h-2.75zM77.6 50.8h2.75v3.2h-2.75zM96.95 50.8h2.75v3.2h-2.75zM124.9 50.8h4.9v3.2h-4.9zM64.7 53.4h2.75v3.2h-2.75zM96.95 53.4h4.9v3.2h-4.9zM124.9 53.4h2.75v3.2h-2.75zM56.1 56h2.75v3.2h-2.75zM66.85 56h2.75v3.2h-2.75zM71.15 56h2.75v3.2h-2.75zM58.25 58.6h2.75v3.2h-2.75zM66.85 63.8h2.75v3.2h-2.75zM71.15 63.8h2.75v3.2h-2.75zM118.45 63.8h2.75v3.2h-2.75zM64.7 66.4h2.75v3.2h-2.75zM118.45 66.4h2.75v3.2h-2.75zM62.55 69h2.75v3.2h-2.75zM116.3 69h2.75v3.2h-2.75zM62.55 71.6h2.75v3.2h-2.75zM73.3 71.6h2.75v3.2h-2.75zM105.55 71.6h2.75v3.2h-2.75zM107.7 74.2h2.75v3.2h-2.75zM62.55 76.8h4.9v3.2h-4.9zM107.7 76.8h2.75v3.2h-2.75zM112 76.8h2.75v3.2h-2.75zM71.15 79.4h2.75v3.2h-2.75zM69 82h4.9v3.2h-4.9zM66.85 84.6h4.9v3.2h-4.9zM66.85 87.2h4.9v3.2h-4.9zM69 89.8h9.2v3.2h-9.2z"/>
<path fill="#21a3e3" d="M105.55 30h2.75v3.2h-2.75zM109.85 30h2.75v3.2h-2.75zM107.7 32.6h9.2v3.2h-9.2zM109.85 35.2h2.75v3.2h-2.75zM116.3 35.2h4.9v3.2h-4.9zM109.85 37.8h4.9v3.2h-4.9zM116.3 37.8h2.75v3.2h-2.75zM75.45 40.4h2.75v3.2h-2.75zM69 43h2.75v3.2h-2.75zM105.55 43h2.75v3.2h-2.75zM58.25 45.6h7.05v3.2h-7.05zM103.4 45.6h2.75v3.2h-2.75zM64.7 48.2h4.9v3.2h-4.9zM77.6 48.2h2.75v3.2h-2.75zM127.05 48.2h2.75v3.2h-2.75zM99.1 50.8h2.75v3.2h-2.75zM43.2 53.4h2.75v3.2h-2.75zM51.8 53.4h2.75v3.2h-2.75zM66.85 53.4h2.75v3.2h-2.75zM77.6 53.4h2.75v3.2h-2.75zM51.8 56h4.9v3.2h-4.9zM62.55 56h2.75v3.2h-2.75zM69 56h2.75v3.2h-2.75zM75.45 56h2.75v3.2h-2.75zM81.9 56h2.75v3.2h-2.75zM96.95 56h2.75v3.2h-2.75zM49.65 58.6h7.05v3.2h-7.05zM60.4 58.6h2.75v3.2h-2.75zM69 58.6h9.2v3.2h-9.2zM96.95 58.6h2.75v3.2h-2.75zM51.8 61.2h7.05v3.2h-7.05zM64.7 61.2h2.75v3.2h-2.75zM69 61.2h4.9v3.2h-4.9zM51.8 63.8h2.75v3.2h-2.75zM58.25 63.8h2.75v3.2h-2.75zM62.55 63.8h2.75v3.2h-2.75zM60.4 66.4h4.9v3.2h-4.9zM73.3 66.4h2.75v3.2h-2.75zM56.1 69h2.75v3.2h-2.75zM73.3 69h2.75v3.2h-2.75zM101.25 69h2.75v3.2h-2.75zM118.45 69h2.75v3.2h-2.75zM99.1 71.6h7.05v3.2h-7.05zM107.7 71.6h2.75v3.2h-2.75zM58.25 74.2h2.75v3.2h-2.75zM62.55 74.2h2.75v3.2h-2.75zM73.3 74.2h2.75v3.2h-2.75zM99.1 74.2h9.2v3.2h-9.2zM109.85 74.2h7.05v3.2h-7.05zM58.25 76.8h2.75v3.2h-2.75zM73.3 76.8h7.05v3.2h-7.05zM101.25 76.8h7.05v3.2h-7.05zM109.85 76.8h2.75v3.2h-2.75zM114.15 76.8h4.9v3.2h-4.9zM60.4 79.4h2.75v3.2h-2.75zM64.7 79.4h2.75v3.2h-2.75zM73.3 79.4h2.75v3.2h-2.75zM94.8 79.4h2.75v3.2h-2.75zM107.7 79.4h2.75v3.2h-2.75zM62.55 82h7.05v3.2h-7.05zM73.3 82h7.05v3.2h-7.05zM81.9 82h2.75v3.2h-2.75zM99.1 82h4.9v3.2h-4.9zM64.7 84.6h2.75v3.2h-2.75zM77.6 84.6h2.75v3.2h-2.75zM105.55 84.6h2.75v3.2h-2.75zM77.6 87.2h2.75v3.2h-2.75zM107.7 87.2h2.75v3.2h-2.75zM66.85 89.8h2.75v3.2h-2.75zM77.6 89.8h2.75v3.2h-2.75z"/>
<path fill="#1da9e0" d="M92.65 30h4.9v3.2h-4.9zM101.25 30h4.9v3.2h-4.9zM107.7 30h2.75v3.2h-2.75zM99.1 32.6h2.75v3.2h-2.75zM105.55 32.6h2.75v3.2h-2.75zM107.7 37.8h2.75v3.2h-2.75zM69 40.4h2.75v3.2h-2.75zM107.7 40.4h2.75v3.2h-2.75zM53.95 45.6h2.75v3.2h-2.75zM64.7 45.6h4.9v3.2h-4.9zM77.6 45.6h2.75v3.2h-2.75zM96.95 45.6h2.75v3.2h-2.75zM101.25 45.6h2.75v3.2h-2.75zM49.65 48.2h4.9v3.2h-4.9zM94.8 48.2h7.05v3.2h-7.05zM47.5 50.8h4.9v3.2h-4.9zM81.9 50.8h9.2v3.2h-9.2zM92.65 50.8h4.9v3.2h-4.9zM45.35 53.4h7.05v3.2h-7.05zM79.75 53.4h2.75v3.2h-2.75zM84.05 53.4h7.05v3.2h-7.05zM92.65 53.4h4.9v3.2h-4.9zM47.5 56h4.9v3.2h-4.9zM64.7 56h2.75v3.2h-2.75zM77.6 56h4.9v3.2h-4.9zM86.2 56h2.75v3.2h-2.75zM90.5 56h2.75v3.2h-2.75zM94.8 56h2.75v3.2h-2.75zM47.5 58.6h2.75v3.2h-2.75zM56.1 58.6h2.75v3.2h-2.75zM62.55 58.6h7.05v3.2h-7.05zM49.65 61.2h2.75v3.2h-2.75zM58.25 61.2h7.05v3.2h-7.05zM66.85 61.2h2.75v3.2h-2.75zM73.3 61.2h7.05v3.2h-7.05zM96.95 61.2h2.75v3.2h-2.75zM49.65 63.8h2.75v3.2h-2.75zM53.95 63.8h4.9v3.2h-4.9zM60.4 63.8h2.75v3.2h-2.75zM64.7 63.8h2.75v3.2h-2.75zM73.3 63.8h2.75v3.2h-2.75zM77.6 63.8h2.75v3.2h-2.75zM51.8 66.4h9.2v3.2h-9.2zM99.1 66.4h2.75v3.2h-2.75zM53.95 69h2.75v3.2h-2.75zM58.25 69h4.9v3.2h-4.9zM75.45 69h2.75v3.2h-2.75zM99.1 69h2.75v3.2h-2.75zM56.1 71.6h7.05v3.2h-7.05zM79.75 71.6h2.75v3.2h-2.75zM60.4 74.2h2.75v3.2h-2.75zM75.45 74.2h9.2v3.2h-9.2zM94.8 74.2h4.9v3.2h-4.9zM60.4 76.8h2.75v3.2h-2.75zM79.75 76.8h4.9v3.2h-4.9zM92.65 76.8h9.2v3.2h-9.2zM62.55 79.4h2.75v3.2h-2.75zM75.45 79.4h9.2v3.2h-9.2zM96.95 79.4h11.35v3.2h-11.35zM79.75 82h2.75v3.2h-2.75zM96.95 82h2.75v3.2h-2.75zM103.4 82h7.05v3.2h-7.05zM79.75 84.6h4.9v3.2h-4.9zM107.7 84.6h2.75v3.2h-2.75zM79.75 87.2h2.75v3.2h-2.75zM69 92.4h7.05v3.2h-7.05z"/>
<path fill="#17aeda" d="M75.45 27.4h4.9v3.2h-4.9zM81.9 27.4h7.05v3.2h-7.05zM86.2 30h7.05v3.2h-7.05zM96.95 30h4.9v3.2h-4.9zM92.65 32.6h7.05v3.2h-7.05zM103.4 32.6h2.75v3.2h-2.75zM107.7 35.2h2.75v3.2h-2.75zM71.15 37.8h4.9v3.2h-4.9zM66.85 43h2.75v3.2h-2.75zM77.6 43h2.75v3.2h-2.75zM103.4 43h2.75v3.2h-2.75zM56.1 45.6h2.75v3.2h-2.75zM79.75 45.6h2.75v3.2h-2.75zM99.1 45.6h2.75v3.2h-2.75zM41.05 48.2h2.75v3.2h-2.75zM47.5 48.2h2.75v3.2h-2.75zM79.75 48.2h2.75v3.2h-2.75zM84.05 48.2h7.05v3.2h-7.05zM92.65 48.2h2.75v3.2h-2.75zM41.05 50.8h7.05v3.2h-7.05zM79.75 50.8h2.75v3.2h-2.75zM90.5 50.8h2.75v3.2h-2.75zM81.9 53.4h2.75v3.2h-2.75zM90.5 53.4h2.75v3.2h-2.75zM45.35 56h2.75v3.2h-2.75zM84.05 56h2.75v3.2h-2.75zM88.35 56h2.75v3.2h-2.75zM92.65 56h2.75v3.2h-2.75zM77.6 58.6h7.05v3.2h-7.05zM94.8 58.6h2.75v3.2h-2.75zM75.45 63.8h2.75v3.2h-2.75zM96.95 63.8h2.75v3.2h-2.75zM75.45 66.4h2.75v3.2h-2.75zM79.75 66.4h2.75v3.2h-2.75zM96.95 66.4h2.75v3.2h-2.75zM77.6 69h2.75v3.2h-2.75zM81.9 69h2.75v3.2h-2.75zM96.95 69h2.75v3.2h-2.75zM75.45 71.6h4.9v3.2h-4.9zM84.05 71.6h4.9v3.2h-4.9zM92.65 71.6h7.05v3.2h-7.05zM92.65 74.2h2.75v3.2h-2.75z"/>
<path fill="#0cb3d3" d="M58.25 24.8h4.9v3.2h-4.9zM69 27.4h2.75v3.2h-2.75zM73.3 27.4h2.75v3.2h-2.75zM79.75 27.4h2.75v3.2h-2.75zM71.15 30h2.75v3.2h-2.75zM75.45 30h11.35v3.2h-11.35zM71.15 32.6h2.75v3.2h-2.75zM75.45 32.6h2.75v3.2h-2.75zM81.9 32.6h2.75v3.2h-2.75zM90.5 32.6h2.75v3.2h-2.75zM101.25 32.6h2.75v3.2h-2.75zM71.15 35.2h4.9v3.2h-4.9zM77.6 35.2h2.75v3.2h-2.75zM92.65 35.2h2.75v3.2h-2.75zM101.25 35.2h7.05v3.2h-7.05zM69 37.8h2.75v3.2h-2.75zM75.45 37.8h2.75v3.2h-2.75zM56.1 43h11.35v3.2h-11.35zM99.1 43h4.9v3.2h-4.9zM41.05 45.6h2.75v3.2h-2.75zM47.5 45.6h7.05v3.2h-7.05zM88.35 45.6h4.9v3.2h-4.9zM94.8 45.6h2.75v3.2h-2.75zM38.9 48.2h2.75v3.2h-2.75zM43.2 48.2h4.9v3.2h-4.9zM81.9 48.2h2.75v3.2h-2.75zM90.5 48.2h2.75v3.2h-2.75zM84.05 58.6h4.9v3.2h-4.9zM90.5 58.6h4.9v3.2h-4.9zM79.75 61.2h7.05v3.2h-7.05zM92.65 61.2h4.9v3.2h-4.9zM79.75 63.8h2.75v3.2h-2.75zM94.8 63.8h2.75v3.2h-2.75zM77.6 66.4h2.75v3.2h-2.75zM81.9 66.4h2.75v3.2h-2.75zM94.8 66.4h2.75v3.2h-2.75zM79.75 69h2.75v3.2h-2.75zM86.2 69h2.75v3.2h-2.75zM92.65 69h4.9v3.2h-4.9zM81.9 71.6h2.75v3.2h-2.75zM88.35 71.6h4.9v3.2h-4.9z"/>
<path fill="#02b7cb" d="M36.75 24.8h2.75v3.2h-2.75zM43.2 24.8h13.5v3.2h-13.5zM62.55 24.8h4.9v3.2h-4.9zM58.25 27.4h2.75v3.2h-2.75zM62.55 27.4h2.75v3.2h-2.75zM66.85 27.4h2.75v3.2h-2.75zM71.15 27.4h2.75v3.2h-2.75zM28.15 30h2.75v3.2h-2.75zM64.7 30h2.75v3.2h-2.75zM69 30h2.75v3.2h-2.75zM73.3 30h2.75v3.2h-2.75zM66.85 32.6h4.9v3.2h-4.9zM73.3 32.6h2.75v3.2h-2.75zM77.6 32.6h4.9v3.2h-4.9zM84.05 32.6h7.05v3.2h-7.05zM75.45 35.2h2.75v3.2h-2.75zM79.75 35.2h4.9v3.2h-4.9zM94.8 35.2h7.05v3.2h-7.05zM92.65 37.8h7.05v3.2h-7.05zM105.55 37.8h2.75v3.2h-2.75zM60.4 40.4h9.2v3.2h-9.2zM77.6 40.4h2.75v3.2h-2.75zM92.65 40.4h9.2v3.2h-9.2zM103.4 40.4h4.9v3.2h-4.9zM36.75 43h2.75v3.2h-2.75zM41.05 43h4.9v3.2h-4.9zM47.5 43h2.75v3.2h-2.75zM51.8 43h2.75v3.2h-2.75zM79.75 43h2.75v3.2h-2.75zM92.65 43h7.05v3.2h-7.05zM38.9 45.6h2.75v3.2h-2.75zM43.2 45.6h4.9v3.2h-4.9zM81.9 45.6h4.9v3.2h-4.9zM92.65 45.6h2.75v3.2h-2.75zM88.35 58.6h2.75v3.2h-2.75zM81.9 63.8h4.9v3.2h-4.9zM90.5 63.8h2.75v3.2h-2.75zM84.05 66.4h2.75v3.2h-2.75zM92.65 66.4h2.75v3.2h-2.75zM84.05 69h2.75v3.2h-2.75z"/>
<path fill="#03bbc2" d="M38.9 24.8h4.9v3.2h-4.9zM56.1 24.8h2.75v3.2h-2.75zM30.3 27.4h4.9v3.2h-4.9zM41.05 27.4h2.75v3.2h-2.75zM60.4 27.4h2.75v3.2h-2.75zM64.7 27.4h2.75v3.2h-2.75zM60.4 30h4.9v3.2h-4.9zM66.85 30h2.75v3.2h-2.75zM62.55 32.6h2.75v3.2h-2.75zM64.7 35.2h7.05v3.2h-7.05zM84.05 35.2h2.75v3.2h-2.75zM88.35 35.2h4.9v3.2h-4.9zM62.55 37.8h2.75v3.2h-2.75zM66.85 37.8h2.75v3.2h-2.75zM77.6 37.8h2.75v3.2h-2.75zM99.1 37.8h7.05v3.2h-7.05zM36.75 40.4h2.75v3.2h-2.75zM56.1 40.4h4.9v3.2h-4.9zM79.75 40.4h4.9v3.2h-4.9zM88.35 40.4h4.9v3.2h-4.9zM101.25 40.4h2.75v3.2h-2.75zM45.35 43h2.75v3.2h-2.75zM49.65 43h2.75v3.2h-2.75zM53.95 43h2.75v3.2h-2.75zM81.9 43h2.75v3.2h-2.75zM88.35 43h4.9v3.2h-4.9zM86.2 45.6h2.75v3.2h-2.75zM86.2 61.2h7.05v3.2h-7.05zM86.2 63.8h4.9v3.2h-4.9zM92.65 63.8h2.75v3.2h-2.75zM90.5 66.4h2.75v3.2h-2.75zM88.35 69h4.9v3.2h-4.9z"/>
<path fill="#12beb9" d="M34.6 27.4h7.05v3.2h-7.05zM43.2 27.4h2.75v3.2h-2.75zM47.5 27.4h11.35v3.2h-11.35zM30.3 30h4.9v3.2h-4.9zM38.9 30h2.75v3.2h-2.75zM51.8 30h2.75v3.2h-2.75zM56.1 30h2.75v3.2h-2.75zM30.3 32.6h2.75v3.2h-2.75zM56.1 32.6h4.9v3.2h-4.9zM64.7 32.6h2.75v3.2h-2.75zM30.3 35.2h2.75v3.2h-2.75zM58.25 35.2h7.05v3.2h-7.05zM86.2 35.2h2.75v3.2h-2.75zM32.45 37.8h2.75v3.2h-2.75zM56.1 37.8h2.75v3.2h-2.75zM60.4 37.8h2.75v3.2h-2.75zM64.7 37.8h2.75v3.2h-2.75zM79.75 37.8h13.5v3.2h-13.5zM34.6 40.4h2.75v3.2h-2.75zM43.2 40.4h2.75v3.2h-2.75zM53.95 40.4h2.75v3.2h-2.75zM84.05 40.4h4.9v3.2h-4.9zM38.9 43h2.75v3.2h-2.75zM84.05 43h4.9v3.2h-4.9zM86.2 66.4h4.9v3.2h-4.9z"/>
<path fill="#22c1b0" d="M45.35 27.4h2.75v3.2h-2.75zM34.6 30h4.9v3.2h-4.9zM47.5 30h4.9v3.2h-4.9zM53.95 30h2.75v3.2h-2.75zM58.25 30h2.75v3.2h-2.75zM32.45 32.6h2.75v3.2h-2.75zM36.75 32.6h4.9v3.2h-4.9zM47.5 32.6h2.75v3.2h-2.75zM53.95 32.6h2.75v3.2h-2.75zM60.4 32.6h2.75v3.2h-2.75zM32.45 35.2h7.05v3.2h-7.05zM38.9 37.8h4.9v3.2h-4.9zM51.8 37.8h2.75v3.2h-2.75zM58.25 37.8h2.75v3.2h-2.75zM38.9 40.4h4.9v3.2h-4.9zM45.35 40.4h9.2v3.2h-9.2z"/>
<path fill="#2cc4a6" d="M41.05 30h7.05v3.2h-7.05zM34.6 32.6h2.75v3.2h-2.75zM41.05 32.6h2.75v3.2h-2.75zM45.35 32.6h2.75v3.2h-2.75zM49.65 32.6h4.9v3.2h-4.9zM38.9 35.2h4.9v3.2h-4.9zM45.35 35.2h7.05v3.2h-7.05zM53.95 35.2h4.9v3.2h-4.9zM34.6 37.8h4.9v3.2h-4.9zM43.2 37.8h9.2v3.2h-9.2zM53.95 37.8h2.75v3.2h-2.75z"/>
<path fill="#34c79c" d="M43.2 32.6h2.75v3.2h-2.75zM43.2 35.2h2.75v3.2h-2.75zM51.8 35.2h2.75v3.2h-2.75z"/>
</g>
<use href="#qh" fill="none" stroke="#0a0a0a" stroke-width="0.95" stroke-linejoin="round"/>
<rect x="0" y="0" width="137.2" height="104.2" fill="none" stroke="#999" stroke-width="0.9"/>
<path d="M18.92 104.2v-1.4M18.92 0v1.4M61.92 104.2v-1.4M61.92 0v1.4M104.92 104.2v-1.4M104.92 0v1.4M0 94.02h1.4M137.2 94.02h-1.4M0 73.22h1.4M137.2 73.22h-1.4M0 52.42h1.4M137.2 52.42h-1.4M0 31.62h1.4M137.2 31.62h-1.4M0 10.82h1.4M137.2 10.82h-1.4" stroke="#888" stroke-width="0.8" fill="none"/>
<text x="18.92" y="115.8" class="t" text-anchor="middle">90</text>
<text x="61.92" y="115.8" class="t" text-anchor="middle">95</text>
<text x="104.92" y="115.8" class="t" text-anchor="middle">100</text>
<text x="-3.1" y="97.12" class="t" text-anchor="end">32</text>
<text x="-3.1" y="76.32" class="t" text-anchor="end">34</text>
<text x="-3.1" y="55.52" class="t" text-anchor="end">36</text>
<text x="-3.1" y="34.72" class="t" text-anchor="end">38</text>
<text x="-3.1" y="13.92" class="t" text-anchor="end">40</text>
<text x="10.6" y="12.3" class="p">(l)</text>
<text x="68.6" y="128" class="b" text-anchor="middle">Longitude</text>
<rect x="142.4" y="11" width="10.8" height="93.8" fill="url(#pg)" stroke="#999" stroke-width="0.4"/>
<text x="157.4" y="100.61" class="t">-5</text>
<text x="157.4" y="61.2" class="t">0</text>
<text x="157.4" y="21.79" class="t">5</text>
<text x="148.8" y="6.4" class="m" text-anchor="middle">(mm)</text>
</g>
</svg>
</body></html>
